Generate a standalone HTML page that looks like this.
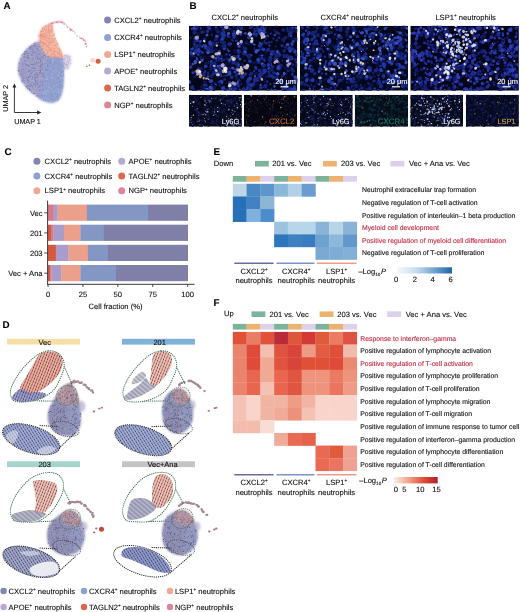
<!DOCTYPE html>
<html><head><meta charset="utf-8"><style>
html,body{margin:0;padding:0;background:#fff;width:520px;height:612px;overflow:hidden}
svg{display:block}
text{text-rendering:geometricPrecision;font-family:"Liberation Sans",Arial,Helvetica,sans-serif;font-size:7.6px;fill:#111111;stroke:#111111;stroke-width:0.18px;stroke-opacity:0.6}
</style></head><body>
<svg width="520" height="612" viewBox="0 0 520 612">
<text x="3.6" y="9.2" style="font-weight:bold;font-size:9.8px;fill:#000;stroke:#000;">A</text>
<text x="189.6" y="9.4" style="font-weight:bold;font-size:9.8px;fill:#000;stroke:#000;">B</text>
<text x="4.6" y="155.2" style="font-weight:bold;font-size:9.8px;fill:#000;stroke:#000;">C</text>
<text x="2.4" y="327.8" style="font-weight:bold;font-size:9.8px;fill:#000;stroke:#000;">D</text>
<text x="213.6" y="154.6" style="font-weight:bold;font-size:9.8px;fill:#000;stroke:#000;">E</text>
<text x="213.6" y="306.2" style="font-weight:bold;font-size:9.8px;fill:#000;stroke:#000;">F</text>
<defs><filter id="ub" x="-10%" y="-10%" width="120%" height="120%"><feGaussianBlur stdDeviation="0.9"/></filter></defs>
<g filter="url(#ub)">
<path d="M39.4 42.0C40.8 43.1 41.6 47.5 42.9 49.8C44.2 52.1 45.5 54.6 47.2 55.9C48.9 57.2 50.7 57.3 53.3 57.6C55.9 57.9 61.1 56.0 62.8 57.6C64.5 59.2 63.6 63.5 63.7 67.1C63.9 70.7 63.8 75.7 63.7 79.2C63.6 82.7 63.4 85.4 63.0 88.0C62.6 90.6 62.3 92.9 61.5 95.0C60.7 97.1 59.6 99.2 58.0 100.5C56.4 101.8 54.2 102.6 52.0 102.8C49.8 103.0 47.3 102.4 45.0 101.5C42.7 100.6 40.3 99.0 38.0 97.5C35.7 96.0 33.0 94.2 31.0 92.5C29.0 90.8 27.7 89.6 26.0 87.5C24.3 85.4 22.3 82.7 21.0 80.0C19.7 77.3 18.4 74.3 18.0 71.5C17.6 68.7 17.9 65.7 18.5 63.0C19.1 60.3 20.0 58.0 21.5 55.5C23.0 53.0 25.2 50.2 27.3 48.1C29.4 46.0 32.2 43.9 34.2 42.9C36.2 41.9 38.0 40.9 39.4 42.0Z" fill="#8486b8" fill-opacity="0.75"/>
<path d="M49.8 56.7C52.6 54.3 60.5 55.9 62.8 57.6C65.1 59.3 63.6 63.5 63.7 67.1C63.9 70.7 63.8 75.7 63.7 79.2C63.6 82.7 63.4 85.4 63.0 88.0C62.6 90.6 62.3 92.9 61.5 95.0C60.7 97.1 59.6 99.2 58.0 100.5C56.4 101.8 54.2 102.6 52.0 102.8C49.8 103.0 47.3 102.4 45.0 101.5C42.7 100.6 38.5 100.1 38.0 97.5C37.5 94.9 40.7 90.2 42.0 86.0C43.3 81.8 44.7 76.9 46.0 72.0C47.3 67.1 47.0 59.1 49.8 56.7Z" fill="#8c9ccc" fill-opacity="0.75"/>
<path d="M38.6 36.0C38.8 34.0 39.4 32.4 40.3 30.8C41.2 29.2 42.5 27.5 43.8 26.5C45.0 25.5 46.5 24.9 48.0 24.6C49.5 24.3 51.6 23.9 52.5 24.6C53.4 25.3 52.8 26.9 53.2 29.0C53.6 31.1 54.1 34.6 55.0 37.5C55.9 40.4 57.4 43.3 58.8 46.2C60.1 49.2 62.4 53.1 63.1 55.0C63.8 56.9 64.4 57.2 62.8 57.6C61.2 58.0 55.9 57.9 53.3 57.6C50.7 57.3 48.9 57.2 47.2 55.9C45.5 54.6 44.2 52.0 42.9 49.8C41.6 47.6 40.1 45.2 39.4 42.9C38.7 40.6 38.5 38.0 38.6 36.0Z" fill="#eca28c" fill-opacity="0.8"/>
<path d="M62.8 55.0C63.5 53.4 65.7 54.5 67.0 54.6C68.3 54.8 69.9 54.7 70.6 55.9C71.3 57.1 71.7 59.8 71.4 61.9C71.1 64.0 70.0 67.5 68.8 68.8C67.6 70.1 65.5 70.5 64.5 69.7C63.5 68.9 63.3 66.5 63.0 64.0C62.7 61.5 62.1 56.6 62.8 55.0Z" fill="#cfc4dc" fill-opacity="0.7"/>
</g>
<path d="M38.7 76.0h0M23.3 67.6h0M27.6 66.0h0M38.9 70.1h0M40.0 56.0h0M28.3 89.3h0M33.3 89.9h0M32.2 65.2h0M40.8 72.4h0M23.6 73.0h0M25.3 54.4h0M27.9 75.0h0M31.8 48.1h0M22.5 57.3h0M37.6 71.0h0M38.8 57.9h0M38.9 55.4h0M32.3 54.0h0M25.2 61.6h0M37.8 88.9h0M32.0 68.8h0M35.3 73.0h0M44.2 54.0h0M29.0 76.9h0M44.0 52.6h0M28.1 87.4h0M40.9 60.0h0M29.2 59.0h0M29.9 75.1h0M32.9 79.0h0M32.4 79.8h0M40.8 81.5h0M25.8 57.5h0M37.1 47.2h0M28.0 51.8h0M39.9 84.2h0M22.7 64.5h0M39.9 57.6h0M33.3 88.2h0M28.2 85.9h0M35.8 84.2h0M36.1 45.5h0M39.3 95.9h0M33.0 57.6h0M31.2 67.3h0M22.0 81.5h0M35.7 58.9h0M42.0 66.7h0M31.4 79.6h0M32.4 72.3h0M29.1 55.0h0M28.0 54.1h0M21.4 75.4h0M32.5 52.3h0M49.5 73.6h0M47.9 57.8h0M33.5 90.1h0M23.6 61.5h0M42.7 76.5h0M31.5 90.2h0M24.6 77.2h0M33.9 76.0h0M33.0 45.3h0M42.0 59.5h0M28.3 88.8h0M32.8 86.2h0M31.2 91.0h0M20.2 70.1h0M32.8 78.1h0M36.9 65.7h0M46.4 59.4h0M23.0 74.5h0M24.8 78.0h0M26.2 72.4h0M30.8 61.6h0M33.0 58.7h0M39.8 48.1h0M31.3 69.7h0M41.5 75.2h0M21.5 55.7h0M18.5 67.5h0M18.7 69.6h0M44.2 80.2h0M33.2 93.4h0M21.5 68.9h0M43.3 72.5h0M39.6 68.5h0M39.0 81.1h0M39.6 87.4h0M24.9 68.9h0M47.2 63.2h0M39.0 42.9h0M31.3 71.7h0M33.0 52.7h0M27.3 60.0h0M31.8 75.5h0M41.1 50.9h0M38.9 68.8h0M33.8 93.4h0M44.3 57.0h0M48.4 56.8h0M45.2 59.8h0M38.1 95.9h0M39.5 50.6h0M39.2 83.9h0M40.5 96.2h0M34.5 93.5h0M37.4 53.5h0M38.0 66.4h0M29.0 53.4h0M49.4 61.3h0M41.8 85.4h0M39.3 43.1h0M26.6 73.9h0M36.8 93.2h0M22.7 82.2h0M39.4 54.5h0M25.1 77.1h0M33.9 56.8h0M40.4 60.1h0M39.1 69.1h0M39.8 94.7h0M24.3 72.9h0M24.5 55.3h0M35.8 62.0h0M19.7 64.9h0M31.4 60.6h0M31.1 83.3h0M34.5 74.5h0M31.5 74.7h0M36.4 46.6h0M37.6 51.6h0M29.3 58.0h0M46.4 56.1h0M21.9 65.8h0M34.5 57.7h0M27.0 66.7h0M38.6 66.0h0M25.1 82.0h0M38.0 42.9h0M41.1 76.9h0M44.3 81.4h0M33.7 67.6h0M36.2 89.6h0M33.8 52.9h0M41.0 54.4h0M29.0 75.0h0M41.8 68.0h0M32.5 58.5h0M36.7 66.7h0M36.1 42.6h0M27.3 58.0h0M47.8 65.1h0M32.8 61.9h0" stroke="#9c9ac8" stroke-width="1.1" stroke-linecap="round" fill="none"/>
<path d="M54.7 70.9h0M47.9 79.4h0M43.6 93.8h0M58.2 86.3h0M58.2 65.4h0M62.3 73.9h0M46.9 92.2h0M57.1 75.0h0M48.3 87.5h0M47.9 77.3h0M42.7 92.9h0M47.8 90.9h0M56.1 96.0h0M46.6 99.3h0M56.7 92.0h0M50.6 57.4h0M61.8 78.5h0M47.0 84.4h0M62.9 68.8h0M48.1 89.6h0M52.0 74.3h0M50.2 100.2h0M58.2 92.7h0M59.6 97.5h0M46.4 71.8h0M63.3 66.8h0M52.4 60.8h0M58.3 89.3h0M47.0 65.0h0M47.7 99.0h0M41.7 77.5h0M59.1 91.2h0M61.9 64.2h0M52.7 63.0h0M50.1 72.1h0M45.8 75.1h0M62.9 83.7h0M45.8 90.4h0M53.9 95.1h0M51.9 60.0h0M44.6 91.9h0M52.1 77.2h0M56.7 84.6h0M52.1 88.6h0M56.7 70.5h0M47.8 91.4h0M47.0 79.4h0M60.7 61.5h0M60.7 67.7h0M46.7 94.6h0M45.7 75.0h0M58.4 75.7h0M50.1 78.4h0M62.4 63.9h0M61.8 60.8h0M53.1 77.9h0M62.4 84.4h0M45.2 91.8h0M53.4 60.7h0M56.1 92.2h0M60.5 77.8h0M58.0 75.3h0M59.6 82.6h0M45.1 93.8h0M46.4 83.6h0M61.5 89.2h0M52.2 93.1h0M57.2 72.1h0M45.1 81.1h0M45.9 94.7h0M49.1 92.0h0M61.1 77.9h0M63.4 71.6h0M42.6 70.7h0M54.4 90.9h0M50.6 68.6h0M45.0 97.4h0M52.4 71.6h0M46.4 69.1h0M51.5 57.4h0M59.4 74.1h0M53.1 91.2h0M60.9 83.0h0M60.7 61.4h0M42.9 99.2h0M45.9 86.6h0M59.0 95.4h0M48.3 99.3h0M45.7 78.7h0M47.7 65.5h0M59.9 74.3h0M50.8 57.3h0M49.7 87.0h0M42.4 99.2h0M46.2 79.3h0M60.3 76.9h0M61.6 80.6h0M40.2 94.5h0M59.5 92.4h0M42.2 87.0h0M47.5 90.7h0M56.2 98.4h0M51.6 74.5h0M55.3 79.1h0M54.6 75.0h0M53.5 85.8h0M57.3 60.4h0M52.9 59.5h0M53.8 89.2h0M45.7 98.5h0M55.1 66.5h0" stroke="#b0bce0" stroke-width="1.1" stroke-linecap="round" fill="none"/>
<path d="M31.9 47.5h0M29.8 89.0h0M24.1 63.3h0M30.0 85.7h0M35.2 74.7h0M42.8 84.9h0M31.7 55.1h0M37.0 73.7h0M37.1 49.2h0M20.8 58.5h0M28.2 58.9h0M27.7 82.3h0M38.8 94.0h0M18.8 71.2h0M46.3 73.4h0M22.8 66.0h0M26.6 64.9h0M28.4 51.6h0M46.1 80.9h0M25.2 67.0h0M24.0 56.8h0M41.0 66.1h0M36.1 56.3h0M31.7 61.7h0M27.2 80.4h0M45.6 57.9h0M38.2 58.0h0M38.8 87.3h0M41.4 76.5h0M30.1 48.3h0M35.7 83.3h0M34.3 74.7h0M37.8 51.2h0M40.6 60.7h0M40.9 64.8h0M21.3 72.2h0M35.1 79.3h0M36.0 87.1h0M19.1 63.3h0M47.6 64.7h0M37.1 83.3h0M29.9 86.4h0M30.0 46.6h0M44.2 76.9h0M36.3 92.0h0M19.1 67.8h0M39.3 53.1h0M47.2 80.5h0M36.3 72.3h0M19.2 74.7h0M33.2 59.0h0M36.6 56.3h0M30.3 90.5h0M26.9 57.4h0M49.1 79.4h0M35.9 70.5h0M37.9 54.8h0M33.7 67.9h0M36.6 51.6h0M34.4 74.7h0M40.4 84.3h0M35.8 80.9h0M24.4 54.3h0M35.6 74.3h0M25.5 64.1h0M34.0 46.1h0M47.8 58.0h0M35.8 58.3h0M31.5 64.4h0M24.5 51.9h0M33.2 53.1h0M34.4 44.0h0M28.5 86.0h0M20.0 71.7h0M33.6 55.8h0M34.5 69.0h0M39.1 74.4h0M27.7 55.8h0M32.5 68.5h0M18.2 70.4h0M34.8 53.6h0M21.1 60.0h0M25.8 86.1h0M24.3 60.5h0M41.2 81.8h0M25.7 75.8h0M32.2 48.9h0M30.5 64.1h0M21.9 81.2h0M27.1 87.6h0M39.4 72.8h0M26.9 68.3h0M36.9 78.0h0M31.1 48.9h0M41.1 73.8h0M35.8 92.3h0M30.2 46.6h0M33.5 83.2h0M37.8 59.6h0M21.9 80.1h0M37.7 84.3h0M34.5 60.8h0M27.1 77.6h0M41.0 56.6h0M30.0 53.0h0M43.9 65.1h0M33.4 68.1h0M32.5 76.1h0M21.6 74.6h0M37.3 76.8h0M38.2 47.1h0M36.3 62.5h0M22.4 74.4h0M24.7 69.6h0M26.2 86.6h0M34.0 49.2h0M38.7 54.9h0M31.5 73.5h0M39.7 59.0h0M42.7 81.4h0M41.7 82.0h0M37.4 58.2h0M45.5 67.0h0M26.1 51.4h0" stroke="#7c7cb0" stroke-width="1.1" stroke-linecap="round" fill="none"/>
<path d="M45.2 66.1h0M58.2 78.5h0M59.6 70.6h0M53.2 67.5h0M58.3 78.7h0M41.8 98.5h0M45.0 98.2h0M54.9 100.3h0M46.1 88.0h0M56.8 84.5h0M54.5 98.2h0M59.2 73.5h0M60.5 69.9h0M56.1 90.8h0M61.5 70.1h0M58.2 84.2h0M47.4 84.6h0M44.7 90.4h0M50.4 97.6h0M52.6 101.9h0M47.3 73.9h0M47.6 89.2h0M46.7 99.0h0M49.0 85.1h0M55.1 69.6h0M60.9 82.0h0M51.0 89.9h0M59.7 76.3h0M52.4 71.5h0M59.3 61.5h0M49.8 99.0h0M46.4 97.7h0M54.3 90.9h0M56.3 69.4h0M46.7 79.7h0M46.4 67.1h0M46.5 92.5h0M56.1 94.0h0M38.2 92.7h0M60.8 71.3h0M46.7 72.7h0M57.8 85.3h0M46.8 95.3h0M61.0 63.1h0M47.7 84.6h0M49.8 89.8h0M60.0 62.0h0M46.2 83.5h0M55.6 81.6h0M47.7 83.7h0M59.3 72.6h0M52.2 82.7h0M46.6 75.5h0M44.8 86.2h0M54.3 72.1h0M49.2 84.1h0M50.0 101.6h0M46.6 69.3h0M55.8 90.1h0M54.3 89.6h0M62.8 74.3h0M54.6 98.7h0M58.9 79.0h0M56.2 65.1h0M45.3 97.2h0M59.0 58.4h0M58.5 91.8h0M57.5 83.8h0M43.0 95.6h0M55.4 87.0h0M46.4 92.1h0M50.7 77.6h0M43.1 88.7h0M62.9 72.1h0M45.0 85.7h0M58.8 90.3h0M56.3 93.4h0M45.6 87.9h0M50.6 67.5h0M57.6 64.4h0M51.9 82.0h0M46.4 80.1h0M49.0 87.9h0M54.7 95.4h0M60.5 79.4h0M56.6 85.2h0M51.8 81.5h0M39.8 94.3h0M45.2 77.6h0M58.5 72.4h0M55.1 98.3h0M56.6 81.3h0M51.3 86.5h0M62.5 88.5h0M41.0 92.2h0M61.8 63.6h0M50.6 62.2h0M61.7 90.3h0M44.9 95.2h0M45.0 84.3h0M57.0 62.0h0M54.8 92.4h0M49.5 90.4h0M43.1 97.6h0M58.7 71.2h0M47.5 88.3h0M47.6 73.8h0M54.2 58.1h0M46.2 75.3h0M47.0 88.4h0M49.5 90.2h0M46.0 90.5h0M46.5 72.7h0M45.6 87.4h0M50.9 85.2h0" stroke="#9aaad6" stroke-width="1.1" stroke-linecap="round" fill="none"/>
<path d="M32.9 77.9h0M37.2 76.4h0M40.0 86.4h0M34.8 50.7h0M38.1 75.5h0M43.7 52.0h0M22.4 76.6h0M27.5 53.2h0M37.2 74.0h0M40.1 58.4h0M40.0 72.6h0M28.0 82.0h0M29.3 64.0h0M35.2 52.2h0M39.5 86.4h0M39.9 57.8h0M48.1 56.4h0M27.4 79.5h0M28.9 76.6h0M47.7 60.6h0M35.5 46.4h0M34.5 51.3h0M24.3 56.6h0M40.5 71.8h0M31.7 85.7h0M47.4 65.4h0M41.2 60.8h0M39.6 43.3h0M28.8 57.2h0M30.3 76.6h0M28.4 71.3h0M43.2 76.0h0M28.4 65.6h0M46.6 69.3h0M31.9 54.5h0M42.1 69.5h0M28.7 77.2h0M45.5 69.3h0M35.1 78.1h0M34.6 64.8h0M39.4 43.0h0M35.6 81.4h0M37.0 74.6h0M44.8 54.3h0M34.4 77.5h0M44.0 75.5h0M40.4 69.2h0M50.8 59.7h0M26.9 64.3h0M36.6 62.4h0M26.0 51.1h0M24.6 54.5h0M30.0 47.6h0M33.4 93.6h0M46.5 61.3h0M28.7 77.5h0M25.3 57.8h0M34.6 68.4h0M27.5 56.9h0M29.8 90.1h0M30.9 72.7h0M28.2 55.5h0M45.6 63.2h0M37.0 81.8h0M35.5 85.1h0M24.4 83.1h0M42.3 49.8h0M46.9 70.5h0M36.6 81.4h0M34.1 93.5h0M35.6 81.1h0M35.6 76.6h0M40.3 61.4h0M36.8 51.5h0M42.6 63.2h0M32.5 64.4h0M27.1 65.0h0M39.6 90.3h0M23.1 80.5h0M46.0 63.5h0M23.7 78.4h0M23.8 73.3h0M40.3 70.7h0M40.6 67.5h0M29.2 65.9h0M29.1 70.6h0M38.0 49.3h0M43.9 55.5h0M38.2 54.7h0M37.9 56.2h0M36.2 48.2h0M29.0 71.3h0M40.5 66.3h0M43.5 73.6h0M31.4 48.9h0M29.0 61.2h0M30.8 70.1h0M41.1 64.9h0M29.1 65.1h0M31.6 45.5h0M26.8 78.4h0M42.0 49.3h0M44.4 55.5h0M23.6 73.2h0M21.9 69.6h0M24.1 53.4h0M32.6 52.6h0M46.0 57.1h0M32.2 51.4h0M41.1 94.9h0M39.1 46.1h0M35.3 77.5h0M37.3 84.2h0M25.6 60.1h0M21.0 74.3h0M34.9 44.3h0M30.2 49.2h0M42.4 90.1h0M34.7 43.7h0M37.7 95.9h0M29.2 86.4h0M29.6 88.8h0M34.0 64.1h0M43.2 70.4h0" stroke="#7676a6" stroke-width="1.1" stroke-linecap="round" fill="none"/>
<path d="M40.8 82.3h0M22.0 62.2h0M26.7 87.0h0M41.4 57.5h0M34.1 83.7h0M23.2 70.7h0M28.8 50.6h0M29.7 85.4h0M41.6 66.4h0M30.3 70.8h0M42.0 48.6h0M35.7 68.4h0M34.3 51.4h0M21.8 76.3h0M40.1 55.4h0M38.6 57.0h0M22.4 71.2h0M24.2 71.1h0M49.9 62.0h0M33.1 73.7h0M41.7 49.9h0M32.1 72.3h0M26.3 55.7h0M27.3 55.0h0M32.9 88.9h0M24.9 78.2h0M28.7 80.5h0M21.1 70.2h0M36.0 56.6h0M31.4 67.2h0M37.2 80.4h0M34.0 68.2h0M37.9 70.4h0M45.1 78.1h0M24.7 80.4h0M39.8 54.1h0M31.4 84.3h0M22.8 82.0h0M34.8 68.1h0M42.1 75.3h0M30.3 90.4h0M24.8 51.5h0M39.6 43.9h0M38.7 77.8h0M37.5 89.4h0M40.2 46.8h0M23.0 60.1h0M29.3 47.6h0M34.9 63.7h0M39.0 62.2h0M22.1 72.2h0M28.5 79.6h0M37.6 70.9h0M37.8 48.5h0M30.3 84.2h0M22.0 76.3h0M31.9 55.4h0M36.8 60.5h0M52.2 68.4h0M29.1 72.4h0M23.3 63.9h0M28.5 52.9h0M24.8 76.5h0M40.0 85.9h0M37.2 59.0h0M23.6 57.2h0M43.9 74.8h0M32.6 47.3h0M42.6 64.4h0M51.4 71.7h0M40.2 46.5h0M41.3 58.3h0M25.8 69.6h0M37.0 45.0h0M27.2 69.1h0M42.5 64.3h0M27.4 54.5h0M22.6 78.7h0M50.3 63.9h0M26.0 72.1h0M29.0 64.6h0M40.1 54.2h0M31.7 92.4h0M37.4 89.6h0M40.6 67.4h0M43.2 57.5h0M43.2 67.4h0M25.1 65.4h0M34.2 85.3h0M22.8 72.1h0M36.3 63.9h0M47.9 74.1h0M45.5 71.0h0M33.5 70.4h0M38.5 83.1h0M48.5 57.3h0M29.8 88.7h0M35.2 55.6h0M38.0 50.5h0M28.2 51.5h0M38.6 72.6h0M27.5 79.6h0M30.0 84.1h0M31.3 79.4h0M19.3 62.9h0M32.7 79.2h0M32.4 87.4h0M40.3 74.0h0M22.6 64.5h0M36.2 81.8h0M19.0 65.0h0M28.1 84.5h0M39.5 67.7h0M29.9 70.2h0M38.8 69.8h0M25.6 52.9h0M30.3 77.6h0M36.9 85.1h0M39.1 86.0h0M31.0 86.0h0M45.3 87.4h0M43.0 75.2h0M29.7 76.7h0M26.1 75.2h0M36.6 95.9h0M38.5 93.3h0M26.6 52.9h0" stroke="#9090be" stroke-width="1.1" stroke-linecap="round" fill="none"/>
<path d="M47.9 66.7h0M59.6 84.6h0M48.3 65.1h0M48.2 71.6h0M50.7 93.2h0M50.4 76.7h0M46.2 98.3h0M46.1 86.9h0M52.8 81.4h0M47.2 91.2h0M42.9 76.5h0M51.7 96.7h0M54.9 62.2h0M48.2 88.9h0M53.4 89.9h0M43.7 86.0h0M55.5 65.5h0M60.8 76.5h0M43.9 91.2h0M61.6 64.0h0M50.3 97.8h0M61.2 74.8h0M56.4 88.3h0M52.4 96.6h0M35.8 93.6h0M63.7 76.3h0M47.4 93.5h0M42.1 86.6h0M49.7 93.1h0M43.2 98.4h0M52.6 83.2h0M49.6 81.7h0M53.4 57.8h0M61.0 82.0h0M57.2 98.8h0M62.9 86.1h0M62.1 80.8h0M63.6 71.7h0M46.3 100.5h0M44.8 67.5h0M49.0 72.7h0M63.3 76.6h0M59.6 80.7h0M59.9 92.8h0M59.9 83.0h0M56.7 78.6h0M48.8 100.9h0M49.2 75.3h0M49.2 94.0h0M44.4 96.5h0M39.6 89.3h0M47.9 68.0h0M47.5 64.2h0M58.9 82.7h0M45.5 100.3h0M54.9 66.2h0M45.2 86.6h0M58.5 98.8h0M56.4 93.6h0M58.3 98.8h0M63.3 70.1h0M43.3 97.8h0M63.3 66.0h0M45.8 95.2h0M46.2 82.0h0M54.7 78.9h0M61.2 69.5h0M61.3 71.2h0M55.6 85.4h0M63.6 74.4h0M62.3 65.6h0M57.4 72.8h0M58.9 61.2h0M57.8 61.3h0M50.0 91.1h0M54.5 79.8h0M59.8 59.6h0M54.9 74.3h0M62.8 65.1h0M43.5 99.3h0M60.6 79.8h0M53.5 65.9h0M44.8 96.3h0M44.5 87.9h0M55.4 71.1h0M53.8 99.5h0M51.5 86.8h0M52.4 97.5h0M56.6 61.3h0M62.4 88.3h0M52.9 100.0h0M61.7 71.1h0M40.6 90.7h0M60.1 95.6h0M55.8 70.6h0M62.2 78.0h0M59.9 67.8h0M50.2 95.4h0M56.7 62.6h0M61.0 81.9h0M41.3 82.9h0M50.4 96.4h0M54.3 93.3h0" stroke="#8a9ccc" stroke-width="1.1" stroke-linecap="round" fill="none"/>
<path d="M50.3 61.2h0M61.8 71.4h0M46.7 60.9h0M59.8 87.5h0M48.2 68.9h0M61.4 58.8h0M61.2 71.9h0M60.9 76.6h0M54.8 57.7h0M49.2 64.1h0M61.5 86.6h0M43.8 78.0h0M61.5 72.5h0M46.5 88.7h0M49.8 72.1h0M50.8 78.2h0M50.7 63.9h0M59.3 75.3h0M58.4 69.5h0M59.0 62.3h0M58.3 95.3h0M57.8 64.4h0M58.4 77.9h0M45.8 56.3h0M45.8 71.7h0M50.3 57.8h0M50.6 66.6h0M50.6 73.6h0M62.9 81.0h0M53.2 75.4h0M57.9 82.6h0M54.1 68.3h0M48.0 90.0h0M62.0 85.3h0M51.6 85.3h0M51.7 62.9h0M55.6 75.1h0M42.8 68.6h0M46.0 98.3h0M53.0 82.8h0M63.7 67.5h0M61.6 67.8h0M52.9 66.4h0M47.6 83.9h0M63.0 79.9h0M57.2 74.3h0M51.8 94.9h0M46.0 55.4h0M57.9 98.8h0M54.0 95.9h0M38.3 85.7h0M58.9 78.0h0M48.0 65.6h0M56.9 59.6h0M50.0 98.2h0M48.0 100.4h0M59.8 81.9h0M40.0 97.3h0M58.7 87.5h0M45.0 80.7h0M54.7 61.8h0M55.4 99.0h0M59.6 70.8h0M51.6 94.1h0M50.1 81.9h0M52.9 100.1h0M59.1 86.0h0M60.2 74.9h0M57.7 94.7h0M58.3 65.7h0M58.6 82.3h0M42.2 86.3h0M55.9 92.7h0M57.5 85.8h0M59.5 69.3h0M49.2 62.7h0M62.1 64.4h0M53.6 88.6h0M47.8 74.8h0M59.1 84.6h0M43.8 80.3h0M63.2 71.8h0M54.8 94.0h0M58.1 100.3h0M40.2 96.1h0M52.4 93.9h0M59.8 75.1h0M46.9 95.7h0M47.4 84.5h0M51.0 74.0h0M62.1 62.7h0M55.8 83.4h0M35.8 86.9h0M42.7 77.5h0M43.7 100.5h0M57.3 72.6h0M52.9 58.8h0M56.6 96.2h0M60.4 76.3h0M43.4 82.0h0M62.8 83.6h0M55.9 63.8h0M50.8 84.3h0M55.0 98.6h0" stroke="#7e92c6" stroke-width="1.1" stroke-linecap="round" fill="none"/>
<path d="M22.9 59.7h0M38.7 64.4h0M30.7 78.9h0M23.0 74.6h0M23.9 69.6h0M38.1 76.0h0M23.3 72.7h0M25.2 59.2h0M32.8 47.2h0M20.3 58.6h0M30.6 79.1h0M32.9 75.4h0M34.7 49.1h0M29.2 51.9h0M32.4 66.7h0M31.4 48.9h0M39.7 48.4h0M38.1 69.4h0M37.0 52.3h0M20.5 67.9h0M43.4 70.7h0M39.7 52.1h0M46.4 59.8h0M38.3 92.7h0M30.1 56.9h0M28.0 66.8h0M33.7 68.7h0M37.5 71.7h0M35.3 91.6h0M32.4 80.3h0M39.4 64.0h0M35.8 60.2h0M40.1 56.0h0M22.1 71.8h0M38.7 64.5h0M34.9 86.0h0M38.6 55.4h0M31.8 62.0h0M24.2 83.2h0M39.5 81.2h0M30.1 72.0h0M21.4 60.3h0M42.7 66.2h0M34.6 55.9h0M30.5 82.6h0M26.7 75.1h0M22.1 72.5h0M47.1 57.9h0M28.2 52.1h0M29.5 84.3h0M26.7 70.4h0M29.9 72.2h0M30.0 64.2h0M42.9 53.8h0M24.0 78.9h0M28.5 51.0h0M50.2 67.8h0M46.2 61.5h0M32.5 52.2h0M30.0 56.7h0M23.6 62.8h0M25.2 74.2h0M27.7 63.2h0M23.5 60.4h0M36.4 92.7h0M40.5 62.9h0M28.3 86.6h0M53.5 58.7h0M22.1 54.7h0M44.3 87.2h0M42.3 55.8h0M32.6 82.4h0M29.1 49.6h0M34.4 60.1h0M27.1 68.2h0M44.6 57.1h0M50.2 68.0h0M39.3 80.8h0M46.5 57.4h0M36.1 93.4h0M34.7 54.2h0M41.1 47.7h0M38.7 88.6h0M19.2 73.9h0M29.2 60.4h0M40.4 56.2h0M45.7 57.7h0M34.1 50.4h0M39.3 52.3h0M40.0 78.3h0M45.9 71.4h0M40.2 57.5h0M34.1 87.8h0M22.3 80.1h0M38.0 47.2h0M30.3 73.6h0M22.3 59.1h0M26.8 67.6h0M34.3 77.7h0M20.9 78.5h0M28.9 64.2h0M19.5 73.7h0M23.4 72.8h0M28.2 81.6h0M49.9 64.4h0M34.0 50.3h0M39.2 88.1h0M44.1 63.0h0M35.5 92.3h0M40.6 94.9h0M22.9 56.6h0M46.0 63.3h0M47.1 58.7h0M27.6 86.5h0M36.7 51.3h0M25.0 64.2h0M36.7 87.0h0M25.5 70.1h0M40.9 49.3h0" stroke="#aaaad0" stroke-width="1.1" stroke-linecap="round" fill="none"/>
<path d="M29.3 48.1h0M34.8 79.8h0M34.9 76.8h0M38.6 62.1h0M32.9 82.5h0M47.3 66.6h0M39.2 81.6h0M43.2 73.3h0M37.5 63.6h0M36.5 53.9h0M40.1 63.5h0M38.3 87.4h0M42.8 72.8h0M42.8 74.0h0M35.2 85.2h0M22.7 79.8h0M24.4 54.5h0M27.0 53.0h0M42.6 67.7h0M44.2 95.1h0M44.0 75.0h0M36.8 64.2h0M29.6 75.6h0M33.7 84.2h0M39.1 65.9h0M35.4 89.5h0M40.4 80.1h0M31.0 84.8h0M32.8 64.7h0M32.3 85.5h0M23.2 69.5h0M34.8 83.5h0M33.4 50.5h0M32.7 47.7h0M32.3 86.8h0M29.5 57.9h0M28.9 48.5h0M27.6 88.6h0M45.9 63.7h0M27.4 85.6h0M22.0 73.1h0M45.0 70.4h0M22.4 80.0h0M36.9 74.3h0M23.0 63.8h0M42.6 57.4h0M31.0 58.9h0M27.9 80.9h0M28.0 58.6h0M28.0 67.2h0M34.1 45.5h0M41.0 62.8h0M34.1 43.4h0M32.4 58.6h0M42.1 53.5h0M40.8 89.7h0M25.7 64.1h0M50.0 62.5h0M34.6 67.3h0M29.0 81.3h0M23.1 54.2h0M30.3 76.2h0M32.3 87.1h0M23.7 78.4h0M36.3 46.8h0M33.2 66.4h0M41.3 56.1h0M34.1 70.8h0M29.8 83.1h0M24.1 60.9h0M35.6 46.3h0M30.4 47.1h0M42.5 85.5h0M31.2 68.2h0M40.0 52.1h0M40.3 59.5h0M32.4 71.9h0M23.9 72.9h0M37.9 63.5h0M27.5 58.3h0M31.2 82.5h0M33.9 93.4h0M41.2 70.0h0M31.0 47.2h0M25.9 61.5h0M32.7 45.4h0M30.0 71.2h0M43.3 56.2h0M30.6 73.5h0M32.7 51.0h0M41.2 72.9h0M23.1 68.7h0M37.5 77.2h0M34.3 46.7h0M42.5 64.7h0M24.2 54.3h0M50.4 71.3h0M32.6 60.5h0M43.3 58.3h0M34.6 62.9h0M39.7 70.5h0M37.8 88.1h0M37.9 49.3h0M27.0 49.1h0M23.2 75.9h0M32.3 52.2h0M41.0 67.2h0" stroke="#8686b6" stroke-width="1.1" stroke-linecap="round" fill="none"/>
<path d="M55.6 78.3h0M50.2 90.2h0M46.6 72.0h0M43.1 81.7h0M42.5 90.1h0M51.9 91.3h0M50.0 93.3h0M55.2 66.7h0M52.5 65.7h0M55.3 70.2h0M59.7 68.6h0M37.3 85.3h0M52.9 66.0h0M38.2 96.4h0M51.2 79.3h0M48.2 79.0h0M51.5 78.3h0M57.3 84.1h0M61.9 58.7h0M53.5 97.3h0M46.4 73.5h0M49.5 82.5h0M56.8 88.5h0M55.4 95.8h0M41.2 90.4h0M44.8 99.2h0M54.6 93.0h0M46.2 92.3h0M58.2 61.5h0M58.6 91.4h0M49.7 70.4h0M44.7 82.0h0M55.4 83.0h0M56.0 62.0h0M56.2 100.2h0M48.4 75.3h0M59.1 98.2h0M58.5 82.6h0M57.0 95.6h0M53.0 98.8h0M49.3 90.5h0M55.0 90.7h0M55.0 100.1h0M57.8 60.9h0M52.8 75.7h0M54.0 77.5h0M60.3 80.8h0M61.4 81.9h0M62.7 85.3h0M48.4 59.7h0M55.8 97.7h0M54.7 93.4h0M51.8 95.9h0M59.2 87.1h0M62.8 87.0h0M45.0 83.1h0M60.0 64.7h0M62.6 59.4h0M55.9 97.4h0M55.8 72.2h0M54.3 72.7h0M49.4 79.6h0M57.5 73.0h0M48.8 62.4h0M58.8 86.1h0M54.8 82.7h0M56.3 64.2h0M45.9 84.4h0M43.9 80.0h0M46.4 100.1h0M63.2 73.0h0M56.2 92.4h0M58.3 98.2h0M49.0 96.2h0M46.4 77.4h0M45.9 84.2h0M60.6 60.2h0M57.1 64.5h0M52.3 102.5h0M62.4 69.3h0M54.3 81.8h0M51.0 76.6h0M50.1 91.9h0M63.7 75.1h0M48.5 68.7h0M54.2 63.8h0M51.5 63.7h0M54.1 83.4h0M56.3 71.2h0M55.2 68.0h0M53.4 86.8h0M56.9 66.3h0M38.0 91.5h0M55.9 69.2h0M50.6 86.8h0M54.4 87.0h0M50.9 76.5h0M54.3 61.2h0M43.4 85.4h0M49.6 70.5h0M47.3 80.3h0M47.7 83.6h0M51.1 99.8h0M49.0 78.0h0M48.8 97.4h0M40.7 75.8h0M55.6 82.9h0M58.9 88.3h0M58.3 83.9h0M58.5 85.7h0M43.3 88.1h0M62.3 86.6h0" stroke="#90a2d0" stroke-width="1.1" stroke-linecap="round" fill="none"/>
<path d="M60.2 54.6h0M45.4 26.6h0M51.0 36.3h0M46.9 26.3h0M41.2 34.6h0M50.3 50.5h0M57.3 53.4h0M55.3 51.0h0M41.9 33.6h0M43.7 46.7h0M49.0 40.0h0M48.1 44.6h0M48.4 33.0h0M48.5 38.1h0M39.1 36.4h0M55.2 48.6h0M38.9 35.3h0M61.2 51.4h0M55.3 38.9h0M59.3 56.5h0M52.1 47.6h0M49.2 44.2h0M49.1 50.0h0M58.4 56.2h0M49.3 44.1h0M59.2 53.9h0M46.5 49.3h0M47.9 30.4h0M48.7 30.6h0M61.8 53.1h0M49.8 40.1h0M49.3 39.5h0M57.3 44.4h0M40.6 40.2h0M56.5 51.5h0M53.8 51.7h0M46.3 44.3h0M51.8 31.9h0M41.5 33.0h0M62.1 57.2h0M54.9 42.5h0M52.0 51.0h0M58.6 48.0h0M49.0 32.5h0M50.5 33.3h0M51.5 48.0h0M50.4 28.2h0M58.8 50.1h0M45.3 33.6h0M44.8 39.6h0M42.2 31.9h0M60.0 57.3h0M60.0 51.7h0M61.5 56.5h0M47.1 32.5h0M44.4 28.9h0M61.5 53.7h0M50.9 41.0h0M60.6 51.6h0M49.0 43.3h0M43.6 33.8h0M48.6 27.3h0M54.2 40.4h0M42.9 38.7h0M59.6 50.6h0M59.9 52.9h0M47.5 35.6h0M43.1 37.0h0M60.6 57.3h0M56.6 57.0h0M39.7 40.2h0M43.9 50.5h0M49.3 46.9h0M51.9 38.0h0M45.2 46.6h0M40.2 36.1h0M47.5 31.7h0M45.7 25.8h0M46.9 52.3h0M46.9 25.2h0M53.2 49.4h0M48.3 46.3h0M52.7 43.3h0M46.3 32.6h0M51.2 43.7h0M52.2 24.9h0M42.0 41.7h0M54.6 50.8h0M51.8 41.6h0M43.2 45.3h0M40.7 31.0h0M51.8 47.1h0M43.6 43.0h0M52.3 27.7h0M51.7 30.8h0M41.5 40.2h0M45.3 33.5h0M45.3 38.8h0M50.5 48.2h0M52.4 41.7h0M47.5 53.3h0M52.6 37.5h0M57.9 51.2h0M55.0 46.2h0M46.9 52.3h0" stroke="#f0a890" stroke-width="1.1" stroke-linecap="round" fill="none"/>
<path d="M42.7 49.0h0M53.8 51.2h0M43.8 36.9h0M41.9 34.9h0M53.3 53.1h0M43.2 45.6h0M56.3 41.3h0M40.6 35.6h0M45.2 44.3h0M44.3 39.4h0M47.6 31.7h0M43.2 39.8h0M49.3 25.3h0M52.6 35.6h0M48.3 50.8h0M50.9 25.7h0M57.8 44.1h0M58.9 52.5h0M43.8 47.1h0M47.4 45.4h0M54.4 48.3h0M48.4 28.9h0M43.1 41.9h0M57.6 57.4h0M41.3 31.4h0M49.3 34.5h0M46.3 47.4h0M42.6 36.6h0M47.3 29.6h0M43.6 26.7h0M47.6 53.6h0M47.5 52.2h0M45.5 42.6h0M41.5 42.4h0M44.5 35.0h0M51.7 54.1h0M57.7 53.0h0M50.2 55.7h0M45.9 42.9h0M52.4 46.2h0M48.6 47.8h0M42.9 45.6h0M44.0 46.0h0M40.7 40.6h0M49.8 31.2h0M41.4 34.5h0M47.1 37.8h0M51.4 39.1h0M40.4 33.9h0M45.6 37.1h0M44.2 28.4h0M50.5 50.1h0M59.9 56.8h0M42.9 49.2h0M55.6 54.3h0M47.9 46.8h0M48.4 42.4h0M40.5 36.8h0M49.6 41.5h0M50.6 32.0h0M42.8 43.7h0M61.5 55.8h0M49.1 47.2h0M43.8 34.0h0M44.3 45.5h0M40.9 42.4h0M56.9 45.5h0M52.8 40.6h0M52.1 39.4h0M51.9 42.3h0M54.1 35.1h0M59.4 54.3h0M45.8 25.7h0M47.4 50.9h0M39.8 42.4h0M46.8 34.6h0M51.9 29.5h0M45.7 30.8h0M50.9 48.5h0M47.3 45.7h0M46.3 47.8h0M46.1 49.8h0M46.0 40.9h0M49.6 30.0h0M51.0 49.3h0M47.5 36.7h0M45.5 30.5h0M61.3 54.3h0M46.2 43.0h0M57.7 48.0h0M42.2 36.2h0M48.5 26.9h0M49.0 38.4h0M48.8 32.1h0M50.6 56.5h0M60.9 57.1h0M42.9 44.1h0M52.0 38.1h0M40.4 38.5h0M42.6 28.1h0M55.3 45.1h0M54.9 51.4h0M59.7 49.1h0M53.6 42.0h0" stroke="#e48a76" stroke-width="1.1" stroke-linecap="round" fill="none"/>
<path d="M41.5 33.2h0M46.7 27.5h0M47.6 27.1h0M49.0 37.3h0M53.8 44.0h0M60.1 52.7h0M42.3 47.6h0M43.5 46.3h0M50.7 55.0h0M41.2 30.3h0M51.1 28.3h0M42.1 38.4h0M45.6 52.2h0M53.6 46.9h0M57.1 47.8h0M39.7 35.2h0M58.3 49.9h0M47.1 31.3h0M48.4 43.0h0M48.2 24.9h0M56.5 42.8h0M49.2 47.9h0M45.7 40.6h0M45.8 33.7h0M43.4 44.8h0M45.7 40.8h0M50.3 48.7h0M41.3 44.6h0M51.8 38.8h0M47.7 50.2h0M52.0 53.9h0M49.9 31.3h0M46.5 43.8h0M46.1 37.6h0M41.9 37.4h0M47.9 25.4h0M52.3 26.0h0M45.2 31.3h0M56.6 48.3h0M54.2 44.3h0M52.8 50.9h0M50.2 34.6h0M44.9 41.5h0M51.6 32.4h0M50.9 40.1h0M53.2 51.5h0M41.6 37.7h0M48.8 44.8h0M55.5 52.6h0M53.9 54.7h0M57.0 55.3h0M42.9 40.0h0M42.3 33.0h0M53.8 46.8h0M49.6 45.6h0M60.8 50.8h0M52.8 27.0h0M57.0 48.8h0M47.0 47.9h0M43.8 41.5h0M45.6 47.3h0M47.6 55.3h0M50.4 29.5h0M51.7 33.6h0M43.8 50.1h0M46.1 50.0h0M44.8 36.3h0M46.4 28.8h0M56.7 52.5h0M57.0 49.7h0M41.8 41.1h0M45.4 29.3h0M46.9 43.8h0M47.5 36.0h0M47.4 52.8h0M50.1 29.6h0M48.6 34.4h0M51.5 53.5h0M59.6 57.0h0M43.6 30.2h0M50.8 28.9h0M57.9 55.3h0M49.3 35.9h0M44.2 47.4h0M53.1 42.7h0M49.3 27.2h0M51.2 34.0h0M47.9 50.2h0M52.6 36.5h0M48.0 45.1h0M46.0 53.4h0M52.7 31.6h0M57.2 43.6h0" stroke="#f2b4a0" stroke-width="1.1" stroke-linecap="round" fill="none"/>
<path d="M55.0 39.0h0M51.8 41.8h0M42.6 29.4h0M51.0 26.6h0M42.7 36.0h0M42.3 38.3h0M59.7 50.6h0M52.0 28.9h0M50.1 42.2h0M40.5 41.9h0M62.2 56.1h0M45.2 33.1h0M44.3 48.8h0M55.6 57.2h0M45.8 39.0h0M55.0 46.9h0M43.1 46.3h0M46.7 50.6h0M42.5 49.0h0M45.0 34.7h0M44.6 28.9h0M59.7 49.4h0M41.5 37.1h0M58.4 53.7h0M54.5 40.3h0M50.9 45.5h0M45.9 38.3h0M51.5 31.7h0M47.3 35.5h0M50.9 42.7h0M49.7 44.2h0M51.2 48.0h0M54.5 45.6h0M51.3 53.4h0M43.9 42.9h0M45.9 53.3h0M43.6 31.1h0M52.2 50.7h0M47.6 50.3h0M52.9 42.2h0M55.8 57.0h0M54.4 56.8h0M61.1 56.6h0M50.8 45.4h0M44.5 46.5h0M50.0 36.1h0M43.7 36.2h0M44.9 36.7h0M48.5 50.2h0M51.9 33.9h0M46.2 44.7h0M50.7 49.9h0M53.4 54.5h0M44.1 37.1h0M46.6 28.9h0M54.3 45.5h0M51.2 54.9h0M44.8 48.4h0M49.1 30.5h0M46.9 40.6h0M54.5 56.1h0M49.6 38.9h0M44.8 44.6h0M44.5 43.6h0M43.4 29.0h0M43.3 34.5h0M51.7 50.9h0M43.0 42.7h0M42.9 31.4h0M47.1 40.9h0M54.1 38.6h0M52.1 53.8h0M45.4 34.9h0M42.9 43.9h0M45.7 36.5h0M61.3 54.9h0M51.6 56.5h0M41.9 38.1h0M51.0 46.1h0M53.1 48.0h0M61.4 54.6h0M57.1 43.4h0M52.7 30.8h0M54.0 33.9h0M58.4 48.3h0M47.2 44.8h0M48.7 44.0h0M49.7 48.7h0M54.9 40.7h0" stroke="#e9957e" stroke-width="1.1" stroke-linecap="round" fill="none"/>
<path d="M56.8 53.7h0M51.5 46.5h0M52.4 37.4h0M46.4 41.6h0M51.8 53.9h0M46.0 32.2h0M46.0 45.5h0M56.0 54.0h0M52.4 47.2h0M41.8 44.7h0M45.2 52.6h0M44.6 45.9h0M58.3 46.0h0M47.8 50.7h0M55.4 46.0h0M51.3 41.8h0M52.3 39.6h0M50.7 53.7h0M54.6 46.9h0M51.1 34.8h0M41.4 40.4h0M46.0 51.4h0M59.1 47.6h0M54.9 46.6h0M51.0 53.8h0M46.1 34.8h0M47.4 30.5h0M47.2 36.7h0M50.4 43.9h0M52.3 46.7h0M45.0 39.4h0M46.7 26.3h0M58.5 55.9h0M55.0 43.0h0M53.5 44.1h0M55.8 43.1h0M56.9 45.8h0M52.2 34.4h0M52.4 55.9h0M60.3 56.7h0M55.1 40.8h0M44.8 46.8h0M54.1 47.4h0M51.9 51.2h0M39.6 43.2h0M50.4 34.0h0M52.0 48.7h0M53.6 43.3h0M51.9 46.3h0M43.4 33.3h0M49.3 27.3h0M50.1 46.4h0M51.8 33.9h0M60.6 50.5h0M57.9 50.8h0M45.0 38.5h0M47.5 29.6h0M50.7 27.6h0M47.3 44.1h0M50.7 39.0h0M46.0 25.5h0M45.1 41.6h0M40.5 37.2h0M47.2 28.5h0M51.1 34.3h0M46.1 41.9h0M45.0 29.2h0M43.6 46.7h0M43.0 37.7h0M50.2 38.9h0M51.5 45.2h0M43.8 28.8h0M46.0 47.2h0M45.1 48.0h0M55.9 40.2h0M56.0 48.8h0M52.5 43.7h0M45.3 41.3h0M57.5 44.9h0M43.7 30.9h0M53.8 40.5h0M52.1 33.2h0M53.2 37.2h0M50.2 45.8h0M47.6 34.0h0M42.6 44.8h0M62.5 57.5h0M46.4 49.0h0M44.5 31.2h0" stroke="#f4c0b0" stroke-width="1.1" stroke-linecap="round" fill="none"/>
<path d="M66.6 56.4h0M68.9 55.6h0M70.7 59.8h0M70.1 56.8h0M66.4 64.0h0M68.3 63.7h0M67.1 60.3h0M70.7 63.6h0M64.1 64.4h0M68.6 67.1h0M66.1 58.4h0M69.0 56.5h0M69.5 61.0h0M70.8 63.3h0M67.7 67.9h0M66.8 62.1h0" stroke="#c8bcd8" stroke-width="1.0" stroke-linecap="round" fill="none"/>
<path d="M64.7 68.4h0M66.8 64.9h0M66.2 55.1h0M68.9 58.5h0M66.8 64.4h0M66.3 57.8h0M66.1 66.8h0M67.6 64.8h0M69.3 60.6h0M68.3 62.9h0M64.5 55.8h0M66.5 56.5h0M64.7 63.2h0M64.9 63.0h0M68.0 56.8h0M66.5 64.3h0" stroke="#a89ac4" stroke-width="1.0" stroke-linecap="round" fill="none"/>
<path d="M67.2 56.0h0M66.3 63.8h0M66.4 66.5h0M68.8 56.6h0M68.2 68.7h0M68.7 61.6h0M64.7 59.7h0M64.7 65.3h0M67.6 60.9h0M64.1 63.4h0M63.9 64.2h0M63.8 62.6h0M65.6 64.3h0M66.7 61.6h0M69.3 59.7h0M63.2 63.7h0M65.2 57.9h0M63.8 60.4h0" stroke="#b4a8cc" stroke-width="1.0" stroke-linecap="round" fill="none"/>
<path d="M68.6 56.2h0M64.1 61.3h0M66.3 56.4h0M66.5 58.0h0M66.7 61.9h0M69.2 64.9h0M66.9 63.6h0M65.8 56.7h0M69.3 61.0h0M65.4 61.1h0" stroke="#e0d8ea" stroke-width="1.0" stroke-linecap="round" fill="none"/>
<path d="M49 24.4C52 22.8 56 21.6 60 21.8C62 22 63.5 22.8 64.5 24" stroke="#e4a4b8" stroke-width="2.4" stroke-linecap="round" fill="none" stroke-opacity="0.7"/>
<path d="M66.6 25.2h0M67.3 26.6h0M67.1 26.7h0M67.5 27.6h0M69.0 27.2h0M70.1 28.3h0M69.9 29.9h0M71.3 29.1h0M70.9 30.1h0M73.8 31.1h0M73.3 31.4h0M75.1 32.8h0M74.6 33.1h0M76.9 35.4h0M77.3 36.3h0M77.0 35.6h0M79.6 36.9h0M80.1 38.0h0M80.4 38.4h0M81.3 37.9h0M81.7 38.5h0M83.1 39.0h0M83.3 38.9h0M83.6 40.3h0M84.4 40.5h0M85.1 40.0h0M85.2 40.9h0M85.3 41.6h0M86.3 43.3h0M85.4 43.8h0M86.7 44.4h0M85.4 44.4h0" stroke="#dc98b0" stroke-width="1.3" stroke-linecap="round" fill="none" stroke-opacity="0.75"/>
<path d="M52 23.4h0M57 22.2h0M61.5 22.2h0M70.5 29.5h0M72 30.2h0M82 38.5h0M85.5 43.5h0M83.5 40h0M86.5 46.5h0" stroke="#cc6a8a" stroke-width="1.6" stroke-linecap="round" stroke-opacity="0.8"/>
<circle cx="92.6" cy="60.2" r="2.2" fill="#f0c0b0" fill-opacity="0.7"/>
<circle cx="98.1" cy="61.3" r="2.5" fill="#d65c3c"/>
<path d="M86.9 66.3h0M89.5 65.2h0" stroke="#a04a3a" stroke-width="1.5" stroke-linecap="round"/>
</g>
<path d="M14.4 112.5V86.5M14.4 112.5H38.6" stroke="#222" stroke-width="0.9" fill="none"/>
<path d="M14.4 83.4l-1.9 4.2h3.8z M41.4 112.5l-4.2 -1.9v3.8z" fill="#222"/>
<text x="7.6" y="98.4" text-anchor="middle" style="font-size:7.2px;" transform="rotate(-90 7.6 98.4)">UMAP 2</text>
<text x="14.2" y="123.5" style="font-size:7.2px;">UMAP 1</text>
<defs><pattern id="hu" width="2.5" height="3.3" patternUnits="userSpaceOnUse" patternTransform="rotate(22)"><path d="M1.25 0.4v2.4" stroke="#1a1a28" stroke-width="0.65" stroke-opacity="0.85"/></pattern><pattern id="hl" width="2.5" height="3.3" patternUnits="userSpaceOnUse" patternTransform="rotate(-32)"><path d="M1.25 0.4v2.4" stroke="#1a1a28" stroke-width="0.65" stroke-opacity="0.85"/></pattern><pattern id="hl2" width="2.2" height="3.3" patternUnits="userSpaceOnUse" patternTransform="rotate(-55)"><path d="M1.1 0.4v2.4" stroke="#1a1a28" stroke-width="0.65" stroke-opacity="0.85"/></pattern><pattern id="hd" width="1.9" height="3.5" patternUnits="userSpaceOnUse" patternTransform="rotate(40)"><path d="M0.95 0.4v2.6" stroke="#181828" stroke-width="0.65" stroke-opacity="0.85"/></pattern></defs>
<rect x="7.0" y="338.8" width="73" height="5.8" fill="#f6dfa6"/>
<text x="44.7" y="344.7" text-anchor="middle" style="font-size:7.5px;">Vec</text>
<g filter="url(#ub)">
<path d="M70.8 383.0C69.6 382.8 67.6 383.7 66.0 384.5C64.4 385.3 62.5 386.4 61.0 388.0C59.5 389.6 58.3 391.8 57.0 394.0C55.7 396.2 54.3 398.5 53.0 401.0C51.7 403.5 49.9 406.3 49.0 409.0C48.1 411.7 47.7 414.5 47.7 417.0C47.7 419.5 48.1 421.8 49.0 424.0C49.9 426.2 51.3 428.3 53.0 430.0C54.7 431.7 56.8 433.0 59.0 434.0C61.2 435.0 63.7 435.8 66.0 436.0C68.3 436.2 71.0 436.3 73.0 435.5C75.0 434.7 76.8 432.9 78.0 431.0C79.2 429.1 80.0 426.7 80.5 424.0C81.0 421.3 80.9 418.0 80.8 415.0C80.7 412.0 80.4 408.8 80.0 406.0C79.6 403.2 79.2 400.5 78.5 398.0C77.8 395.5 76.9 393.0 76.0 391.0C75.1 389.0 73.9 387.3 73.0 386.0C72.1 384.7 72.0 383.2 70.8 383.0Z" fill="#8484ac" fill-opacity="0.92"/>
<path d="M68.0 406.0C69.9 404.0 76.4 403.0 78.5 404.0C80.6 405.0 80.2 408.7 80.5 412.0C80.8 415.3 80.9 420.8 80.5 424.0C80.1 427.2 79.2 429.2 78.0 431.0C76.8 432.8 74.5 435.5 73.0 435.0C71.5 434.5 70.0 431.2 69.0 428.0C68.0 424.8 67.2 419.7 67.0 416.0C66.8 412.3 66.1 408.0 68.0 406.0Z" fill="#96a0c8" fill-opacity="0.6"/>
<path d="M70.8 383.0C69.6 382.8 67.6 383.7 66.0 384.5C64.4 385.3 62.5 386.4 61.0 388.0C59.5 389.6 57.8 392.0 57.0 394.0C56.2 396.0 55.7 398.3 56.5 400.0C57.3 401.7 59.8 403.1 62.0 404.0C64.2 404.9 67.2 405.5 70.0 405.5C72.8 405.5 77.1 405.2 78.5 404.0C79.9 402.8 78.9 400.2 78.5 398.0C78.1 395.8 76.9 393.0 76.0 391.0C75.1 389.0 73.9 387.3 73.0 386.0C72.1 384.7 72.0 383.2 70.8 383.0Z" fill="#b8949a" fill-opacity="0.85"/>
<path d="M80.0 401.0C80.6 399.7 83.1 401.0 84.0 402.0C84.9 403.0 85.7 405.4 85.5 407.0C85.3 408.6 83.8 411.0 83.0 411.5C82.2 412.0 81.0 411.8 80.5 410.0C80.0 408.2 79.4 402.3 80.0 401.0Z" fill="#cbc3da"/>
</g>
<path d="M54.6 399.9h0M65.7 429.2h0M78.0 410.2h0M75.8 410.5h0M68.7 431.1h0M71.6 405.3h0M61.8 412.4h0M51.8 409.8h0M62.6 407.6h0M73.5 415.3h0M70.5 395.4h0M64.7 428.0h0M62.0 394.6h0M71.4 433.5h0M74.3 415.1h0M54.2 409.7h0M73.0 421.4h0M76.3 413.3h0M68.6 396.3h0M62.7 402.1h0M77.7 425.8h0M77.2 416.4h0M77.8 410.2h0M58.6 392.5h0M64.8 415.8h0M51.0 415.8h0M65.2 429.0h0M55.6 402.8h0M71.8 414.8h0M61.2 401.1h0M78.0 413.2h0M58.9 414.9h0M62.6 389.3h0M76.5 410.3h0M68.7 400.9h0M58.7 425.7h0M61.5 405.4h0M54.7 417.5h0M72.4 391.0h0M51.1 422.7h0M72.3 434.7h0M61.7 389.3h0M56.7 423.6h0M62.1 411.1h0M69.8 383.6h0M58.2 400.8h0M56.0 416.8h0M70.8 394.2h0M74.2 407.9h0M65.8 417.0h0" stroke="#a8a8c8" stroke-width="1.1" stroke-linecap="round" fill="none"/>
<path d="M57.6 394.3h0M64.8 386.1h0M58.2 413.5h0M49.1 415.2h0M64.0 405.0h0M63.9 421.3h0M80.4 413.3h0M59.6 427.6h0M80.4 420.7h0M55.8 401.9h0M71.0 428.9h0M80.4 416.5h0M61.1 418.9h0M79.3 414.4h0M52.0 417.5h0M58.0 410.0h0M74.9 417.2h0M53.3 424.3h0M74.9 414.7h0M56.9 412.9h0M79.4 422.9h0M62.8 433.4h0M69.9 429.7h0M72.1 394.6h0M63.2 424.3h0M61.3 433.7h0M71.6 385.1h0M74.2 407.2h0M69.5 428.4h0M70.2 396.8h0M71.1 410.3h0M69.7 426.5h0M76.1 417.7h0M72.0 385.2h0M71.9 425.9h0M67.7 409.2h0M74.6 413.1h0M68.0 386.8h0M79.4 421.8h0M56.8 409.5h0M72.1 398.8h0M52.8 405.5h0M61.3 411.7h0M75.4 406.7h0M77.6 425.5h0M54.8 420.4h0M77.5 415.6h0M60.1 400.0h0M79.4 421.3h0M65.8 425.7h0" stroke="#8080a8" stroke-width="1.1" stroke-linecap="round" fill="none"/>
<path d="M62.9 411.1h0M55.1 412.2h0M66.5 398.7h0M61.6 411.0h0M55.9 421.1h0M74.4 419.2h0M51.2 415.6h0M61.8 431.2h0M73.4 394.9h0M69.8 413.5h0M62.5 397.3h0M49.8 409.2h0M53.4 426.7h0M68.5 420.3h0M78.0 402.8h0M54.2 412.1h0M72.8 431.9h0M71.6 386.3h0M55.9 429.5h0M60.5 423.6h0M59.5 434.1h0M70.6 402.0h0M49.3 411.5h0M70.0 395.1h0M57.4 409.3h0M75.4 409.7h0M74.1 404.4h0M56.3 417.5h0M72.7 430.4h0M73.3 405.1h0M71.2 422.7h0M70.2 425.3h0M80.7 414.6h0M78.2 404.6h0M64.6 433.4h0M73.1 416.9h0M75.2 413.8h0M62.7 433.3h0M73.0 401.4h0M54.9 430.3h0M64.3 407.9h0M51.7 420.9h0M66.5 393.4h0M60.7 419.9h0M59.9 418.0h0M60.7 411.6h0M70.5 425.6h0M51.3 411.9h0M64.5 396.4h0M56.7 431.1h0M76.3 413.4h0M67.5 417.9h0M57.1 399.7h0M59.0 430.5h0M56.3 409.8h0M55.8 431.0h0M71.7 391.0h0M63.2 392.6h0M74.4 409.8h0M78.2 400.9h0M69.2 387.2h0" stroke="#7a7aa0" stroke-width="1.1" stroke-linecap="round" fill="none"/>
<path d="M54.6 403.6h0M56.1 429.5h0M71.4 395.4h0M75.4 427.2h0M80.6 413.8h0M73.3 414.9h0M74.8 423.3h0M72.7 408.9h0M53.0 405.6h0M66.7 397.4h0M69.6 391.8h0M70.7 429.6h0M53.7 428.2h0M74.7 390.1h0M55.1 424.1h0M60.8 419.1h0M76.8 395.4h0M67.5 397.0h0M75.5 432.6h0M53.8 421.7h0M57.1 429.2h0M75.2 422.7h0M75.8 419.0h0M61.0 402.0h0M56.2 425.9h0M60.5 410.4h0M63.4 416.2h0M71.8 398.1h0M72.0 387.7h0M50.3 411.6h0M64.6 415.4h0M74.0 404.2h0M58.5 411.8h0M76.8 406.9h0M67.6 398.4h0M70.7 395.3h0M64.3 417.2h0M54.8 415.8h0M52.6 419.2h0M64.2 411.4h0M76.7 398.7h0M72.4 416.9h0M74.9 420.0h0M60.2 419.1h0M64.2 403.1h0M79.6 425.1h0M60.0 412.1h0M65.3 417.8h0M60.5 398.3h0M54.8 422.4h0M72.6 434.2h0M73.1 398.0h0M48.5 412.5h0M62.4 428.8h0M56.3 400.1h0M76.6 418.3h0M57.0 419.4h0M59.9 394.9h0M58.3 433.3h0" stroke="#58587c" stroke-width="1.1" stroke-linecap="round" fill="none"/>
<path d="M55.3 429.0h0M74.0 401.1h0M75.1 425.2h0M74.3 396.3h0M56.0 410.8h0M61.2 434.1h0M56.9 397.3h0M58.4 420.5h0M63.1 422.9h0M64.2 407.1h0M63.8 433.2h0M62.9 431.2h0M76.6 392.8h0M65.5 432.4h0M77.0 394.7h0M80.1 415.6h0M63.6 405.6h0M63.9 391.9h0M70.1 403.7h0M68.0 406.8h0M69.5 385.7h0M57.8 423.2h0M62.8 415.9h0M67.8 385.0h0M79.2 423.7h0M61.8 394.1h0M56.6 401.7h0M78.5 421.3h0M54.6 403.4h0M55.3 420.4h0M53.9 402.2h0M57.1 422.1h0M65.3 430.5h0M65.4 410.3h0M74.7 390.2h0M72.3 396.3h0M55.5 412.1h0M67.9 423.8h0M69.1 405.0h0M51.2 420.8h0M63.8 410.3h0M66.6 387.1h0M51.6 419.1h0" stroke="#9a9ac0" stroke-width="1.1" stroke-linecap="round" fill="none"/>
<path d="M78.3 423.3h0M51.5 427.3h0M72.8 396.0h0M72.5 428.0h0M63.6 410.1h0M71.6 420.4h0M76.0 393.9h0M56.4 413.7h0M60.1 404.5h0M68.2 391.2h0M72.0 401.0h0M72.2 400.1h0M73.6 394.4h0M57.6 432.7h0M56.4 428.0h0M77.0 426.8h0M61.7 388.4h0M70.6 400.8h0M75.0 409.3h0M50.9 422.9h0M76.8 401.7h0M63.9 413.0h0M78.3 398.9h0M59.7 398.1h0M76.1 423.0h0M66.7 418.0h0M73.5 390.6h0M50.8 406.4h0M76.2 400.5h0M62.5 412.5h0M77.9 421.1h0M68.5 421.5h0M73.4 421.8h0M76.2 399.6h0M53.9 421.5h0M61.8 408.5h0M56.7 398.1h0M54.4 409.6h0M65.6 417.4h0M65.7 389.7h0M57.5 416.9h0M58.6 426.7h0M74.1 410.9h0M57.9 408.0h0M63.7 407.5h0M74.9 414.6h0M66.5 387.5h0M65.3 394.8h0M69.3 410.0h0M61.8 416.9h0M55.0 404.9h0M62.8 427.7h0M57.9 408.6h0M75.4 405.5h0M73.7 424.9h0M75.2 406.3h0M67.0 410.7h0" stroke="#6a6a90" stroke-width="1.1" stroke-linecap="round" fill="none"/>
<path d="M64.0 390.0h0M64.0 389.5h0M74.5 403.6h0M63.3 397.3h0M74.8 396.6h0M60.0 396.1h0M76.0 404.3h0M76.3 398.8h0M76.3 393.6h0M63.7 403.7h0M63.8 390.0h0M68.5 388.6h0M61.1 394.7h0M63.8 394.4h0M63.4 395.2h0" stroke="#d0a8a0" stroke-width="1.0" stroke-linecap="round" fill="none"/>
<path d="M77.2 396.3h0M65.3 387.8h0M69.0 392.3h0M60.5 391.6h0M58.2 398.3h0M68.6 385.8h0M75.9 394.5h0M74.2 403.0h0M76.5 394.8h0M76.0 394.3h0M67.9 384.2h0M69.0 388.7h0M70.6 394.7h0M67.7 401.3h0M66.6 392.9h0" stroke="#a07078" stroke-width="1.0" stroke-linecap="round" fill="none"/>
<path d="M63.1 392.1h0M62.5 389.8h0M70.6 386.2h0M74.5 392.3h0M66.9 396.2h0M64.2 386.1h0M66.6 387.4h0M65.0 387.0h0M69.7 395.3h0M69.6 394.4h0M63.8 398.3h0M74.3 400.8h0M57.6 397.4h0M76.9 403.8h0M65.6 392.7h0M72.6 404.7h0" stroke="#c8a098" stroke-width="1.0" stroke-linecap="round" fill="none"/>
<path d="M71.7 384.7h0M58.1 396.3h0M64.7 400.9h0M69.3 391.5h0M61.9 403.0h0M62.7 392.6h0M64.7 390.5h0M59.1 394.5h0M62.4 396.3h0M73.4 401.4h0M73.6 401.7h0M67.6 394.6h0M68.1 402.4h0M65.8 399.7h0M74.1 400.6h0M58.1 393.1h0M58.9 394.5h0M70.5 386.4h0M76.0 403.8h0M74.9 397.9h0M63.4 403.5h0M70.0 402.6h0M59.3 398.9h0M78.2 403.0h0" stroke="#8a7088" stroke-width="1.0" stroke-linecap="round" fill="none"/>
<path d="M71.3 383.0h0.1M72.6 381.9h0.0M73.9 381.0h0.3M74.4 381.0h0.0M74.0 382.4h0.5M76.0 381.9h0.1M76.9 381.7h0.7M78.1 381.5h0.2M79.7 383.0h0.2M80.8 382.8h0.8M81.5 382.5h0.2M83.6 384.7h0.4M85.0 385.0h0.6M86.6 387.0h0.1M88.0 388.1h0.7M88.7 389.1h0.5M90.9 390.6h0.1M92.0 390.5h0.2M93.0 392.5h0.1" stroke="#8c6c7c" stroke-width="2.3" stroke-linecap="round" fill="none" stroke-opacity="0.8"/>
<path d="M101.5 407.7h0.6M99.0 408.6h0.6M93.8 411.5h0.6" stroke="#b07880" stroke-width="1.8" stroke-linecap="round"/>
<path d="M75.6 389.1C76.5 390.4 77.1 392.1 77.1 393.8C77.2 395.4 76.7 397.4 75.8 398.9C75.0 400.5 73.6 402.1 72.1 403.1C70.6 404.2 68.6 405.0 66.8 405.3C65.1 405.5 63.1 405.3 61.5 404.7C60.0 404.1 58.5 403.0 57.6 401.7C56.7 400.4 56.1 398.6 56.1 396.9C56.1 395.3 56.5 393.3 57.4 391.8C58.2 390.2 59.7 388.6 61.2 387.6C62.7 386.5 64.6 385.7 66.4 385.5C68.2 385.2 70.2 385.4 71.7 386.0C73.2 386.6 74.7 387.8 75.6 389.1Z" stroke="#3a6e52" stroke-width="1.05" stroke-dasharray="0.35 1.75" stroke-linecap="round" fill="none" stroke-opacity="0.7"/>
<path d="M78.8 432.6C78.5 433.8 77.4 434.8 76.1 435.5C74.7 436.2 72.5 436.6 70.4 436.7C68.3 436.7 65.7 436.4 63.4 435.8C61.2 435.2 58.7 434.1 56.9 433.0C55.1 432.0 53.5 430.5 52.6 429.2C51.8 428.0 51.4 426.5 51.7 425.4C52.0 424.2 53.1 423.2 54.4 422.5C55.8 421.8 58.0 421.4 60.1 421.3C62.2 421.3 64.8 421.6 67.1 422.2C69.3 422.8 71.8 423.9 73.6 425.0C75.4 426.0 77.0 427.5 77.9 428.8C78.7 430.0 79.1 431.5 78.8 432.6Z" stroke="#262626" stroke-width="1.05" stroke-dasharray="0.35 1.75" stroke-linecap="round" fill="none" stroke-opacity="0.6"/>
<path d="M64.0 366.0L72.0 384.0M33.0 400.8L54.5 401.0" stroke="#3a6e52" stroke-width="1.05" stroke-dasharray="0.35 1.75" stroke-linecap="round" fill="none"/>
<path d="M40.0 425.5L58.0 426.5M56.0 451.0L75.0 433.0" stroke="#262626" stroke-width="1.05" stroke-dasharray="0.35 1.75" stroke-linecap="round" fill="none"/>
<clipPath id="du1"><path d="M48.5 350.8C51.3 350.5 53.8 351.1 56.0 352.0C58.2 352.9 60.2 354.7 61.5 356.5C62.8 358.3 63.7 360.8 64.0 363.0C64.3 365.2 64.2 367.3 63.5 370.0C62.8 372.7 61.5 375.8 60.0 379.0C58.5 382.2 57.0 386.1 54.5 389.0C52.0 391.9 48.6 394.5 45.0 396.5C41.4 398.5 36.8 399.9 33.0 400.8C29.2 401.7 25.2 402.1 22.0 402.0C18.8 401.9 15.4 401.8 13.5 400.5C11.6 399.2 10.8 396.2 10.5 394.0C10.2 391.8 10.6 389.7 11.5 387.0C12.4 384.3 14.2 380.9 16.0 378.0C17.8 375.1 19.7 372.3 22.0 369.5C24.3 366.7 27.2 363.6 30.0 361.0C32.8 358.4 35.9 355.7 39.0 354.0C42.1 352.3 45.7 351.1 48.5 350.8Z"/></clipPath><clipPath id="dl1"><path d="M59.5 448.4C59.1 449.8 58.0 451.2 56.4 452.1C54.9 453.1 52.7 453.9 50.3 454.3C47.9 454.7 44.9 454.9 41.8 454.7C38.8 454.5 35.4 453.9 32.1 453.2C28.8 452.4 25.4 451.2 22.3 450.0C19.2 448.7 16.1 447.1 13.5 445.5C10.9 443.8 8.6 442.0 6.9 440.2C5.1 438.4 3.8 436.5 3.2 434.8C2.5 433.1 2.4 431.4 2.9 430.0C3.3 428.6 4.4 427.2 6.0 426.3C7.5 425.3 9.7 424.5 12.1 424.1C14.5 423.7 17.5 423.5 20.6 423.7C23.6 423.9 27.0 424.5 30.3 425.2C33.6 426.0 37.0 427.2 40.1 428.4C43.2 429.7 46.3 431.3 48.9 432.9C51.5 434.6 53.8 436.4 55.5 438.2C57.3 440.0 58.6 441.9 59.2 443.6C59.9 445.3 60.0 447.0 59.5 448.4Z"/></clipPath>
<path d="M48.5 350.8C51.3 350.5 53.8 351.1 56.0 352.0C58.2 352.9 60.2 354.7 61.5 356.5C62.8 358.3 63.7 360.8 64.0 363.0C64.3 365.2 64.2 367.3 63.5 370.0C62.8 372.7 61.5 375.8 60.0 379.0C58.5 382.2 57.0 386.1 54.5 389.0C52.0 391.9 48.6 394.5 45.0 396.5C41.4 398.5 36.8 399.9 33.0 400.8C29.2 401.7 25.2 402.1 22.0 402.0C18.8 401.9 15.4 401.8 13.5 400.5C11.6 399.2 10.8 396.2 10.5 394.0C10.2 391.8 10.6 389.7 11.5 387.0C12.4 384.3 14.2 380.9 16.0 378.0C17.8 375.1 19.7 372.3 22.0 369.5C24.3 366.7 27.2 363.6 30.0 361.0C32.8 358.4 35.9 355.7 39.0 354.0C42.1 352.3 45.7 351.1 48.5 350.8Z" fill="#fff"/>
<path d="M40.0 354.0C42.3 352.1 45.3 351.8 48.0 351.5C50.7 351.2 53.8 351.6 56.0 352.5C58.2 353.4 60.4 355.1 61.5 357.0C62.6 358.9 62.8 361.5 62.5 364.0C62.2 366.5 61.4 369.3 60.0 372.0C58.6 374.7 56.3 377.5 54.0 380.0C51.7 382.5 48.7 385.0 46.0 387.0C43.3 389.0 40.7 390.8 38.0 392.0C35.3 393.2 32.7 393.8 30.0 394.0C27.3 394.2 23.7 394.0 22.0 393.0C20.3 392.0 19.7 390.2 20.0 388.0C20.3 385.8 22.5 382.7 24.0 380.0C25.5 377.3 27.3 374.8 29.0 372.0C30.7 369.2 32.2 366.0 34.0 363.0C35.8 360.0 37.7 355.9 40.0 354.0Z" fill="#ee9a86" fill-opacity="0.85" clip-path="url(#du1)"/>
<path d="M40.0 354.0C42.3 352.1 45.3 351.8 48.0 351.5C50.7 351.2 53.8 351.6 56.0 352.5C58.2 353.4 60.4 355.1 61.5 357.0C62.6 358.9 62.8 361.5 62.5 364.0C62.2 366.5 61.4 369.3 60.0 372.0C58.6 374.7 56.3 377.5 54.0 380.0C51.7 382.5 48.7 385.0 46.0 387.0C43.3 389.0 40.7 390.8 38.0 392.0C35.3 393.2 32.7 393.8 30.0 394.0C27.3 394.2 23.7 394.0 22.0 393.0C20.3 392.0 19.7 390.2 20.0 388.0C20.3 385.8 22.5 382.7 24.0 380.0C25.5 377.3 27.3 374.8 29.0 372.0C30.7 369.2 32.2 366.0 34.0 363.0C35.8 360.0 37.7 355.9 40.0 354.0Z" fill="url(#hu)" clip-path="url(#du1)"/>
<path d="M12.0 398.0C11.7 396.4 14.5 393.5 16.0 392.0C17.5 390.5 18.7 388.9 21.0 389.0C23.3 389.1 27.2 392.0 30.0 392.5C32.8 393.0 35.3 391.8 38.0 392.0C40.7 392.2 45.3 392.8 46.0 394.0C46.7 395.2 44.7 397.8 42.0 399.0C39.3 400.2 34.0 401.1 30.0 401.5C26.0 401.9 21.0 402.1 18.0 401.5C15.0 400.9 12.3 399.6 12.0 398.0Z" fill="#8a8cc4" fill-opacity="0.85" clip-path="url(#du1)"/>
<path d="M12.0 398.0C11.7 396.4 14.5 393.5 16.0 392.0C17.5 390.5 18.7 388.9 21.0 389.0C23.3 389.1 27.2 392.0 30.0 392.5C32.8 393.0 35.3 391.8 38.0 392.0C40.7 392.2 45.3 392.8 46.0 394.0C46.7 395.2 44.7 397.8 42.0 399.0C39.3 400.2 34.0 401.1 30.0 401.5C26.0 401.9 21.0 402.1 18.0 401.5C15.0 400.9 12.3 399.6 12.0 398.0Z" fill="url(#hu)" clip-path="url(#du1)"/>
<path d="M48.5 350.8C51.3 350.5 53.8 351.1 56.0 352.0C58.2 352.9 60.2 354.7 61.5 356.5C62.8 358.3 63.7 360.8 64.0 363.0C64.3 365.2 64.2 367.3 63.5 370.0C62.8 372.7 61.5 375.8 60.0 379.0C58.5 382.2 57.0 386.1 54.5 389.0C52.0 391.9 48.6 394.5 45.0 396.5C41.4 398.5 36.8 399.9 33.0 400.8C29.2 401.7 25.2 402.1 22.0 402.0C18.8 401.9 15.4 401.8 13.5 400.5C11.6 399.2 10.8 396.2 10.5 394.0C10.2 391.8 10.6 389.7 11.5 387.0C12.4 384.3 14.2 380.9 16.0 378.0C17.8 375.1 19.7 372.3 22.0 369.5C24.3 366.7 27.2 363.6 30.0 361.0C32.8 358.4 35.9 355.7 39.0 354.0C42.1 352.3 45.7 351.1 48.5 350.8Z" stroke="#3a6e52" stroke-width="1.05" stroke-dasharray="0.35 1.75" stroke-linecap="round" fill="none"/>
<path d="M59.5 448.4C59.1 449.8 58.0 451.2 56.4 452.1C54.9 453.1 52.7 453.9 50.3 454.3C47.9 454.7 44.9 454.9 41.8 454.7C38.8 454.5 35.4 453.9 32.1 453.2C28.8 452.4 25.4 451.2 22.3 450.0C19.2 448.7 16.1 447.1 13.5 445.5C10.9 443.8 8.6 442.0 6.9 440.2C5.1 438.4 3.8 436.5 3.2 434.8C2.5 433.1 2.4 431.4 2.9 430.0C3.3 428.6 4.4 427.2 6.0 426.3C7.5 425.3 9.7 424.5 12.1 424.1C14.5 423.7 17.5 423.5 20.6 423.7C23.6 423.9 27.0 424.5 30.3 425.2C33.6 426.0 37.0 427.2 40.1 428.4C43.2 429.7 46.3 431.3 48.9 432.9C51.5 434.6 53.8 436.4 55.5 438.2C57.3 440.0 58.6 441.9 59.2 443.6C59.9 445.3 60.0 447.0 59.5 448.4Z" fill="#fff"/>
<path d="M59.5 448.4C59.1 449.8 58.0 451.2 56.4 452.1C54.9 453.1 52.7 453.9 50.3 454.3C47.9 454.7 44.9 454.9 41.8 454.7C38.8 454.5 35.4 453.9 32.1 453.2C28.8 452.4 25.4 451.2 22.3 450.0C19.2 448.7 16.1 447.1 13.5 445.5C10.9 443.8 8.6 442.0 6.9 440.2C5.1 438.4 3.8 436.5 3.2 434.8C2.5 433.1 2.4 431.4 2.9 430.0C3.3 428.6 4.4 427.2 6.0 426.3C7.5 425.3 9.7 424.5 12.1 424.1C14.5 423.7 17.5 423.5 20.6 423.7C23.6 423.9 27.0 424.5 30.3 425.2C33.6 426.0 37.0 427.2 40.1 428.4C43.2 429.7 46.3 431.3 48.9 432.9C51.5 434.6 53.8 436.4 55.5 438.2C57.3 440.0 58.6 441.9 59.2 443.6C59.9 445.3 60.0 447.0 59.5 448.4Z" fill="#8a96d0" fill-opacity="0.8" clip-path="url(#dl1)"/>
<path d="M59.5 448.4C59.1 449.8 58.0 451.2 56.4 452.1C54.9 453.1 52.7 453.9 50.3 454.3C47.9 454.7 44.9 454.9 41.8 454.7C38.8 454.5 35.4 453.9 32.1 453.2C28.8 452.4 25.4 451.2 22.3 450.0C19.2 448.7 16.1 447.1 13.5 445.5C10.9 443.8 8.6 442.0 6.9 440.2C5.1 438.4 3.8 436.5 3.2 434.8C2.5 433.1 2.4 431.4 2.9 430.0C3.3 428.6 4.4 427.2 6.0 426.3C7.5 425.3 9.7 424.5 12.1 424.1C14.5 423.7 17.5 423.5 20.6 423.7C23.6 423.9 27.0 424.5 30.3 425.2C33.6 426.0 37.0 427.2 40.1 428.4C43.2 429.7 46.3 431.3 48.9 432.9C51.5 434.6 53.8 436.4 55.5 438.2C57.3 440.0 58.6 441.9 59.2 443.6C59.9 445.3 60.0 447.0 59.5 448.4Z" fill="url(#hl)" clip-path="url(#dl1)"/>
<path d="M6.0 436.0C6.3 433.8 10.0 431.7 12.0 431.0C14.0 430.3 17.3 430.5 18.0 432.0C18.7 433.5 17.3 438.0 16.0 440.0C14.7 442.0 11.7 444.7 10.0 444.0C8.3 443.3 5.7 438.2 6.0 436.0Z" fill="#e8eaf6" fill-opacity="0.5" clip-path="url(#dl1)"/>
<path d="M38.0 450.0C39.3 448.7 45.0 446.2 48.0 446.0C51.0 445.8 56.0 447.7 56.0 449.0C56.0 450.3 50.7 453.2 48.0 454.0C45.3 454.8 41.7 454.7 40.0 454.0C38.3 453.3 36.7 451.3 38.0 450.0Z" fill="#eef0f8" fill-opacity="0.55" clip-path="url(#dl1)"/>
<path d="M59.5 448.4C59.1 449.8 58.0 451.2 56.4 452.1C54.9 453.1 52.7 453.9 50.3 454.3C47.9 454.7 44.9 454.9 41.8 454.7C38.8 454.5 35.4 453.9 32.1 453.2C28.8 452.4 25.4 451.2 22.3 450.0C19.2 448.7 16.1 447.1 13.5 445.5C10.9 443.8 8.6 442.0 6.9 440.2C5.1 438.4 3.8 436.5 3.2 434.8C2.5 433.1 2.4 431.4 2.9 430.0C3.3 428.6 4.4 427.2 6.0 426.3C7.5 425.3 9.7 424.5 12.1 424.1C14.5 423.7 17.5 423.5 20.6 423.7C23.6 423.9 27.0 424.5 30.3 425.2C33.6 426.0 37.0 427.2 40.1 428.4C43.2 429.7 46.3 431.3 48.9 432.9C51.5 434.6 53.8 436.4 55.5 438.2C57.3 440.0 58.6 441.9 59.2 443.6C59.9 445.3 60.0 447.0 59.5 448.4Z" stroke="#262626" stroke-width="1.05" stroke-dasharray="0.35 1.75" stroke-linecap="round" fill="none"/>
<rect x="122.0" y="338.8" width="73" height="5.8" fill="#7fb1da"/>
<text x="159.7" y="344.7" text-anchor="middle" style="font-size:7.5px;">201</text>
<g filter="url(#ub)">
<path d="M177.7 388.5C176.1 388.8 174.2 389.5 172.5 390.5C170.7 391.5 168.7 392.8 167.3 394.5C165.8 396.2 164.6 398.2 163.8 400.5C163.0 402.8 162.5 405.8 162.3 408.5C162.1 411.2 162.2 414.0 162.5 416.5C162.7 419.0 162.8 421.3 163.8 423.5C164.7 425.7 166.4 427.9 168.1 429.5C169.9 431.1 172.0 432.5 174.2 433.1C176.4 433.7 179.0 433.7 181.2 433.1C183.4 432.5 185.6 431.1 187.3 429.5C188.9 427.9 190.2 425.8 191.2 423.5C192.2 421.2 192.9 418.2 193.1 415.5C193.3 412.8 193.0 410.3 192.5 407.5C192.0 404.7 190.9 401.0 189.9 398.5C188.9 396.0 187.7 394.1 186.4 392.5C185.1 390.9 183.5 389.7 182.0 389.0C180.6 388.3 179.3 388.2 177.7 388.5Z" fill="#8484ac" fill-opacity="0.92"/>
<path d="M182.0 405.5C183.8 403.3 189.8 401.8 191.6 403.5C193.5 405.2 193.2 412.2 193.1 415.5C193.0 418.8 192.2 421.2 191.2 423.5C190.2 425.8 188.6 429.0 187.3 429.5C185.9 430.0 183.9 428.7 182.9 426.5C181.9 424.3 181.3 420.0 181.2 416.5C181.0 413.0 180.3 407.7 182.0 405.5Z" fill="#96a0c8" fill-opacity="0.6"/>
<path d="M177.7 388.5C176.2 388.8 174.3 389.2 173.3 390.5C172.4 391.8 171.7 394.5 172.1 396.5C172.6 398.5 174.2 401.3 176.0 402.5C177.8 403.7 180.7 403.9 182.9 403.9C185.1 403.9 187.8 403.4 189.0 402.5C190.2 401.6 190.3 400.2 189.9 398.5C189.4 396.8 187.7 394.1 186.4 392.5C185.1 390.9 183.5 389.7 182.0 389.0C180.6 388.3 179.1 388.2 177.7 388.5Z" fill="#b8949a" fill-opacity="0.85"/>
<path d="M191.6 400.5C192.1 399.5 194.0 400.5 194.7 401.5C195.3 402.5 195.8 405.2 195.5 406.5C195.3 407.8 194.0 409.3 193.4 409.5C192.7 409.7 191.9 409.0 191.6 407.5C191.3 406.0 191.1 401.5 191.6 400.5Z" fill="#cbc3da"/>
</g>
<path d="M169.6 424.8h0M176.9 406.0h0M180.6 416.6h0M179.2 416.6h0M181.6 416.9h0M179.8 429.0h0M175.3 397.7h0M175.7 400.2h0M183.4 427.8h0M171.9 412.5h0M189.8 413.7h0M180.9 397.3h0M174.8 401.1h0M171.2 395.0h0M191.7 406.1h0M173.5 421.7h0M190.5 405.0h0M171.5 401.3h0M174.9 430.1h0M175.3 430.5h0M168.6 394.0h0M170.3 400.3h0M179.3 416.3h0M179.7 400.7h0M191.0 408.4h0M174.9 395.4h0M172.4 399.6h0M171.0 410.0h0M166.8 400.5h0M185.3 410.3h0M164.4 401.5h0M179.3 415.8h0M187.0 401.8h0M188.7 408.7h0M183.1 405.5h0M170.8 424.2h0M174.9 407.6h0" stroke="#a8a8c8" stroke-width="1.1" stroke-linecap="round" fill="none"/>
<path d="M183.0 425.1h0M181.9 397.1h0M185.4 416.7h0M170.8 430.6h0M189.1 413.2h0M163.2 406.1h0M171.9 421.4h0M176.6 432.5h0M176.8 426.2h0M175.4 409.2h0M163.8 400.5h0M163.6 420.8h0M168.0 424.5h0M174.6 426.3h0M181.6 394.8h0M183.1 393.8h0M173.8 419.9h0M181.5 397.1h0M188.2 407.9h0M180.5 390.7h0M174.4 410.8h0M164.7 423.8h0M169.1 397.2h0M190.2 404.7h0M177.2 423.1h0M173.7 404.7h0M173.7 397.5h0M171.9 413.3h0M190.1 415.1h0M174.0 416.2h0M171.3 394.4h0M186.7 401.1h0M163.5 421.3h0M169.7 404.8h0M177.6 390.7h0M176.6 431.5h0M186.7 407.9h0M180.0 420.5h0M180.5 431.9h0M188.5 402.7h0M178.0 424.0h0M184.4 417.5h0M176.1 402.3h0M173.3 412.4h0M174.0 432.4h0M188.8 410.8h0M175.1 427.9h0M174.2 426.0h0M190.8 407.4h0M189.6 398.7h0M162.9 407.4h0M170.5 404.2h0M180.3 424.6h0M177.2 414.2h0M167.7 407.6h0M172.0 418.1h0M176.5 422.2h0M182.9 400.8h0M189.3 400.5h0M186.4 423.2h0M167.7 404.3h0M188.3 401.2h0M185.8 400.2h0M171.9 422.0h0M174.3 410.0h0M172.7 424.1h0M174.1 394.8h0M170.7 413.6h0M183.3 397.6h0M163.3 406.6h0M187.7 408.3h0M173.7 417.0h0M185.8 425.5h0" stroke="#6a6a90" stroke-width="1.1" stroke-linecap="round" fill="none"/>
<path d="M166.3 408.4h0M181.3 425.7h0M175.2 413.4h0M189.5 407.8h0M183.8 405.3h0M168.8 408.8h0M177.4 426.1h0M164.9 410.7h0M166.4 417.6h0M178.0 427.0h0M174.1 398.6h0M172.8 428.5h0M175.5 414.8h0M175.2 431.4h0M168.4 417.5h0M171.1 403.0h0M175.0 415.2h0M176.6 398.4h0M165.3 399.0h0M165.8 419.3h0M170.3 429.9h0M175.7 424.5h0M166.4 410.0h0M191.3 415.2h0M165.9 409.5h0M168.6 403.5h0M180.3 426.2h0M173.8 395.0h0M187.4 414.5h0M172.7 393.3h0M178.5 415.5h0M180.4 389.7h0M174.7 410.5h0M175.7 421.9h0M189.6 404.8h0M178.2 410.1h0M181.4 431.4h0M185.0 423.2h0M181.8 412.7h0M174.6 392.3h0M172.6 407.3h0M177.9 433.1h0M171.0 424.4h0M189.5 416.8h0M185.9 413.9h0M176.0 430.2h0M182.8 413.9h0M167.3 424.2h0M177.5 391.6h0" stroke="#58587c" stroke-width="1.1" stroke-linecap="round" fill="none"/>
<path d="M170.3 412.7h0M165.8 419.7h0M182.8 428.7h0M177.2 391.8h0M173.3 404.1h0M169.1 407.9h0M186.3 400.5h0M186.6 406.3h0M177.9 421.0h0M174.8 397.9h0M172.8 429.4h0M180.6 431.2h0M180.2 411.6h0M185.7 413.6h0M162.8 410.2h0M177.5 407.1h0M168.9 404.5h0M164.6 403.8h0M169.5 417.7h0M163.8 421.2h0M183.1 420.6h0M169.4 429.4h0M190.9 409.4h0M174.2 390.0h0M163.3 414.4h0M179.1 389.2h0M164.2 417.2h0M180.7 430.4h0M172.9 396.6h0M183.0 429.2h0M188.2 410.1h0M184.0 421.3h0M164.6 411.8h0M163.6 404.7h0M175.9 433.1h0M182.6 398.3h0M168.2 401.5h0M170.2 405.5h0M166.2 417.6h0M178.8 402.7h0" stroke="#9a9ac0" stroke-width="1.1" stroke-linecap="round" fill="none"/>
<path d="M163.0 411.5h0M172.4 395.0h0M192.2 406.9h0M189.2 424.3h0M186.9 426.0h0M163.2 413.9h0M178.7 420.0h0M176.1 396.0h0M181.7 430.9h0M175.1 395.0h0M185.3 408.0h0M165.7 425.1h0M189.1 406.9h0M172.4 393.4h0M176.2 415.6h0M180.4 410.0h0M175.2 400.3h0M183.7 399.2h0M181.4 410.6h0M179.5 426.8h0M165.0 407.8h0M172.1 402.1h0M169.8 429.8h0M187.4 409.6h0M167.8 424.3h0M190.6 417.3h0M168.5 412.4h0M187.0 415.3h0M166.4 427.1h0M170.4 425.1h0M191.9 409.4h0M186.2 426.1h0M172.6 429.7h0M165.6 405.8h0M177.3 415.8h0M186.8 422.5h0M188.6 425.3h0M164.5 415.6h0M187.4 409.6h0M182.5 412.5h0M191.9 420.3h0M183.8 418.2h0M178.2 405.7h0M177.0 417.6h0M177.8 389.2h0M187.5 422.3h0M168.4 399.6h0M177.6 425.5h0M167.8 403.7h0M179.8 400.5h0M169.9 426.5h0M165.7 407.3h0M178.5 405.6h0M187.0 422.8h0M169.1 422.8h0M182.0 394.9h0M167.9 411.7h0M185.3 402.1h0M176.2 390.9h0M187.1 406.8h0M169.7 406.1h0M181.4 407.7h0M179.8 404.5h0M179.6 425.8h0M175.1 421.5h0M181.4 396.2h0M178.4 399.2h0M191.4 418.4h0M177.2 411.2h0M167.2 400.2h0M170.2 402.2h0M168.8 395.8h0M181.9 405.8h0M188.4 411.6h0" stroke="#7a7aa0" stroke-width="1.1" stroke-linecap="round" fill="none"/>
<path d="M191.2 411.9h0M175.5 404.9h0M171.5 400.9h0M173.8 393.3h0M182.4 400.4h0M165.9 404.3h0M180.7 425.6h0M178.7 397.7h0M186.8 398.3h0M183.1 428.8h0M165.8 423.7h0M166.3 406.9h0M177.0 400.7h0M184.9 421.2h0M189.6 414.8h0M178.0 417.3h0M188.3 426.2h0M173.4 430.4h0M166.2 397.8h0M177.3 408.0h0M172.4 418.5h0M184.9 407.1h0M179.1 403.7h0M186.5 419.6h0M183.1 408.8h0M182.7 392.6h0M181.0 409.3h0M181.7 398.5h0M163.2 412.5h0M176.5 390.1h0M174.2 399.0h0M170.8 406.2h0M172.0 422.8h0M169.2 397.4h0M169.9 413.9h0M180.6 419.5h0M180.7 400.2h0M180.2 394.4h0M170.8 397.1h0M180.1 390.8h0M173.0 395.5h0M163.1 410.6h0M175.6 391.3h0M191.1 419.1h0M184.1 410.6h0M179.9 394.0h0M182.5 394.7h0" stroke="#8080a8" stroke-width="1.1" stroke-linecap="round" fill="none"/>
<path d="M182.1 397.0h0M178.3 391.6h0M188.1 397.7h0M177.4 401.7h0M184.2 401.3h0M183.4 399.1h0M181.7 392.8h0M185.5 399.1h0M182.2 396.7h0M179.2 396.4h0M182.3 390.7h0M183.9 403.4h0M177.5 393.7h0M181.2 396.9h0M179.5 395.0h0M176.5 401.7h0M175.0 396.4h0" stroke="#d0a8a0" stroke-width="1.0" stroke-linecap="round" fill="none"/>
<path d="M174.8 397.4h0M182.9 393.4h0M189.0 401.7h0M175.1 391.1h0M184.7 403.0h0M173.4 390.7h0M178.4 391.7h0M181.8 389.2h0M182.6 397.1h0M180.6 400.4h0M187.6 402.0h0M179.0 396.0h0M179.7 391.0h0M183.4 394.3h0M188.9 398.8h0M181.0 396.7h0M184.2 390.8h0" stroke="#c8a098" stroke-width="1.0" stroke-linecap="round" fill="none"/>
<path d="M182.3 400.9h0M174.1 398.3h0M179.1 398.4h0M177.1 394.4h0M178.5 399.2h0M187.5 400.3h0M181.3 399.4h0M184.9 398.5h0M182.0 399.9h0M174.5 398.0h0M187.6 398.7h0M179.7 398.1h0M181.4 397.2h0M188.4 399.8h0M176.6 398.4h0M178.8 397.6h0M188.3 402.5h0" stroke="#8a7088" stroke-width="1.0" stroke-linecap="round" fill="none"/>
<path d="M182.5 396.3h0M182.5 396.9h0M174.5 398.1h0M179.3 403.0h0M186.6 396.4h0M177.4 398.6h0M184.7 392.8h0M182.5 400.7h0M185.7 392.0h0M187.5 398.9h0M172.5 396.9h0M175.6 390.1h0M181.1 403.4h0M184.2 401.0h0M173.4 397.5h0M182.7 398.6h0M186.2 392.6h0M189.0 399.0h0M183.3 390.7h0" stroke="#a07078" stroke-width="1.0" stroke-linecap="round" fill="none"/>
<path d="M179.1 385.0h0.6M179.7 383.9h0.4M181.7 382.9h0.4M184.2 382.1h0.4M188.5 381.0h0.7M189.3 380.9h0.5M190.8 380.9h0.6M191.7 381.4h0.0M192.8 382.1h0.4M194.2 382.9h0.4M195.6 383.9h0.3M197.3 385.0h0.2M197.4 384.7h0.5M198.5 386.2h0.7M199.4 387.1h0.7M200.3 387.9h0.2M204.4 391.1h0.2" stroke="#8c6c7c" stroke-width="2.3" stroke-linecap="round" fill="none" stroke-opacity="0.8"/>
<path d="M216.0 407.7h0.6M214.5 408.2h0.6M208.5 410.8h0.6" stroke="#b07880" stroke-width="1.8" stroke-linecap="round"/>
<path d="M188.6 390.7C189.5 392.0 190.0 393.8 190.1 395.5C190.1 397.1 189.6 399.1 188.8 400.6C187.9 402.2 186.5 403.8 185.0 404.8C183.5 405.9 181.5 406.7 179.8 406.9C178.0 407.2 176.0 407.0 174.5 406.4C172.9 405.8 171.4 404.7 170.5 403.4C169.6 402.1 169.1 400.3 169.0 398.6C169.0 397.0 169.5 395.0 170.3 393.5C171.2 391.9 172.6 390.3 174.1 389.3C175.6 388.2 177.6 387.4 179.3 387.2C181.1 386.9 183.1 387.1 184.6 387.7C186.2 388.3 187.6 389.4 188.6 390.7Z" stroke="#3a6e52" stroke-width="1.05" stroke-dasharray="0.35 1.75" stroke-linecap="round" fill="none" stroke-opacity="0.7"/>
<path d="M192.2 429.7C191.9 430.9 190.9 431.9 189.5 432.6C188.1 433.3 186.0 433.7 183.9 433.8C181.8 433.8 179.1 433.5 176.9 432.9C174.6 432.3 172.2 431.2 170.4 430.1C168.6 429.1 166.9 427.6 166.1 426.3C165.2 425.1 164.9 423.6 165.2 422.5C165.5 421.3 166.5 420.3 167.9 419.6C169.3 418.9 171.4 418.5 173.5 418.4C175.6 418.4 178.3 418.7 180.5 419.3C182.8 419.9 185.2 421.0 187.0 422.1C188.8 423.1 190.5 424.6 191.3 425.9C192.2 427.1 192.5 428.6 192.2 429.7Z" stroke="#262626" stroke-width="1.05" stroke-dasharray="0.35 1.75" stroke-linecap="round" fill="none" stroke-opacity="0.6"/>
<path d="M176.0 366.0L185.0 384.0M144.0 401.0L168.0 401.0" stroke="#3a6e52" stroke-width="1.05" stroke-dasharray="0.35 1.75" stroke-linecap="round" fill="none"/>
<path d="M152.0 426.5L172.0 426.0M168.0 452.0L189.0 433.0" stroke="#262626" stroke-width="1.05" stroke-dasharray="0.35 1.75" stroke-linecap="round" fill="none"/>
<clipPath id="du2"><path d="M161.0 350.8C163.8 350.5 166.3 351.1 168.5 352.0C170.7 352.9 172.7 354.7 174.0 356.5C175.3 358.3 176.2 360.8 176.5 363.0C176.8 365.2 176.7 367.3 176.0 370.0C175.3 372.7 174.0 375.8 172.5 379.0C171.0 382.2 169.5 386.1 167.0 389.0C164.5 391.9 161.1 394.5 157.5 396.5C153.9 398.5 149.3 399.9 145.5 400.8C141.7 401.7 137.8 402.1 134.5 402.0C131.2 401.9 127.9 401.8 126.0 400.5C124.1 399.2 123.3 396.2 123.0 394.0C122.7 391.8 123.1 389.7 124.0 387.0C124.9 384.3 126.8 380.9 128.5 378.0C130.2 375.1 132.2 372.3 134.5 369.5C136.8 366.7 139.7 363.6 142.5 361.0C145.3 358.4 148.4 355.7 151.5 354.0C154.6 352.3 158.2 351.1 161.0 350.8Z"/></clipPath><clipPath id="dl2"><path d="M171.3 449.3C170.8 450.7 169.7 452.1 168.2 453.1C166.6 454.0 164.5 454.8 162.1 455.3C159.7 455.7 156.7 455.8 153.7 455.6C150.7 455.4 147.3 454.9 144.1 454.1C140.8 453.4 137.4 452.3 134.3 451.0C131.2 449.7 128.2 448.1 125.6 446.5C123.1 444.9 120.8 443.1 119.1 441.3C117.4 439.5 116.1 437.6 115.4 435.9C114.8 434.2 114.7 432.5 115.1 431.1C115.6 429.7 116.7 428.3 118.2 427.3C119.8 426.4 121.9 425.6 124.3 425.1C126.7 424.7 129.7 424.6 132.7 424.8C135.7 425.0 139.1 425.5 142.3 426.3C145.6 427.0 149.0 428.1 152.1 429.4C155.2 430.7 158.2 432.3 160.8 433.9C163.3 435.5 165.6 437.3 167.3 439.1C169.0 440.9 170.3 442.8 171.0 444.5C171.6 446.2 171.7 447.9 171.3 449.3Z"/></clipPath>
<path d="M161.0 350.8C163.8 350.5 166.3 351.1 168.5 352.0C170.7 352.9 172.7 354.7 174.0 356.5C175.3 358.3 176.2 360.8 176.5 363.0C176.8 365.2 176.7 367.3 176.0 370.0C175.3 372.7 174.0 375.8 172.5 379.0C171.0 382.2 169.5 386.1 167.0 389.0C164.5 391.9 161.1 394.5 157.5 396.5C153.9 398.5 149.3 399.9 145.5 400.8C141.7 401.7 137.8 402.1 134.5 402.0C131.2 401.9 127.9 401.8 126.0 400.5C124.1 399.2 123.3 396.2 123.0 394.0C122.7 391.8 123.1 389.7 124.0 387.0C124.9 384.3 126.8 380.9 128.5 378.0C130.2 375.1 132.2 372.3 134.5 369.5C136.8 366.7 139.7 363.6 142.5 361.0C145.3 358.4 148.4 355.7 151.5 354.0C154.6 352.3 158.2 351.1 161.0 350.8Z" fill="#fff"/>
<path d="M154.0 354.0C155.7 352.1 159.3 350.8 162.0 350.8C164.7 350.8 168.3 352.1 170.0 354.0C171.7 355.9 172.3 359.0 172.0 362.0C171.7 365.0 169.7 369.0 168.0 372.0C166.3 375.0 164.0 377.7 162.0 380.0C160.0 382.3 158.0 385.3 156.0 386.0C154.0 386.7 150.8 386.3 150.0 384.0C149.2 381.7 150.7 375.7 151.0 372.0C151.3 368.3 151.5 365.0 152.0 362.0C152.5 359.0 152.3 355.9 154.0 354.0Z" fill="#f2b2a2" fill-opacity="0.85" clip-path="url(#du2)"/>
<path d="M154.0 354.0C155.7 352.1 159.3 350.8 162.0 350.8C164.7 350.8 168.3 352.1 170.0 354.0C171.7 355.9 172.3 359.0 172.0 362.0C171.7 365.0 169.7 369.0 168.0 372.0C166.3 375.0 164.0 377.7 162.0 380.0C160.0 382.3 158.0 385.3 156.0 386.0C154.0 386.7 150.8 386.3 150.0 384.0C149.2 381.7 150.7 375.7 151.0 372.0C151.3 368.3 151.5 365.0 152.0 362.0C152.5 359.0 152.3 355.9 154.0 354.0Z" fill="url(#hu)" clip-path="url(#du2)"/>
<path d="M150.0 384.0C151.7 385.3 156.3 384.7 156.0 386.0C155.7 387.3 151.0 390.2 148.0 392.0C145.0 393.8 141.3 395.7 138.0 397.0C134.7 398.3 130.3 400.0 128.0 400.0C125.7 400.0 123.3 398.7 124.0 397.0C124.7 395.3 129.3 392.2 132.0 390.0C134.7 387.8 137.7 386.0 140.0 384.0C142.3 382.0 144.3 378.0 146.0 378.0C147.7 378.0 148.3 382.7 150.0 384.0Z" fill="#d0d0e6" fill-opacity="0.8" clip-path="url(#du2)"/>
<path d="M150.0 384.0C151.7 385.3 156.3 384.7 156.0 386.0C155.7 387.3 151.0 390.2 148.0 392.0C145.0 393.8 141.3 395.7 138.0 397.0C134.7 398.3 130.3 400.0 128.0 400.0C125.7 400.0 123.3 398.7 124.0 397.0C124.7 395.3 129.3 392.2 132.0 390.0C134.7 387.8 137.7 386.0 140.0 384.0C142.3 382.0 144.3 378.0 146.0 378.0C147.7 378.0 148.3 382.7 150.0 384.0Z" fill="url(#hd)" clip-path="url(#du2)"/>
<path d="M134.0 378.0C135.7 376.0 140.0 372.3 142.0 372.0C144.0 371.7 146.3 374.3 146.0 376.0C145.7 377.7 142.3 380.7 140.0 382.0C137.7 383.3 133.0 384.7 132.0 384.0C131.0 383.3 132.3 380.0 134.0 378.0Z" fill="#e0d8e8" fill-opacity="0.6" clip-path="url(#du2)"/>
<path d="M134.0 378.0C135.7 376.0 140.0 372.3 142.0 372.0C144.0 371.7 146.3 374.3 146.0 376.0C145.7 377.7 142.3 380.7 140.0 382.0C137.7 383.3 133.0 384.7 132.0 384.0C131.0 383.3 132.3 380.0 134.0 378.0Z" fill="url(#hd)" clip-path="url(#du2)"/>
<path d="M161.0 350.8C163.8 350.5 166.3 351.1 168.5 352.0C170.7 352.9 172.7 354.7 174.0 356.5C175.3 358.3 176.2 360.8 176.5 363.0C176.8 365.2 176.7 367.3 176.0 370.0C175.3 372.7 174.0 375.8 172.5 379.0C171.0 382.2 169.5 386.1 167.0 389.0C164.5 391.9 161.1 394.5 157.5 396.5C153.9 398.5 149.3 399.9 145.5 400.8C141.7 401.7 137.8 402.1 134.5 402.0C131.2 401.9 127.9 401.8 126.0 400.5C124.1 399.2 123.3 396.2 123.0 394.0C122.7 391.8 123.1 389.7 124.0 387.0C124.9 384.3 126.8 380.9 128.5 378.0C130.2 375.1 132.2 372.3 134.5 369.5C136.8 366.7 139.7 363.6 142.5 361.0C145.3 358.4 148.4 355.7 151.5 354.0C154.6 352.3 158.2 351.1 161.0 350.8Z" stroke="#3a6e52" stroke-width="1.05" stroke-dasharray="0.35 1.75" stroke-linecap="round" fill="none"/>
<path d="M171.3 449.3C170.8 450.7 169.7 452.1 168.2 453.1C166.6 454.0 164.5 454.8 162.1 455.3C159.7 455.7 156.7 455.8 153.7 455.6C150.7 455.4 147.3 454.9 144.1 454.1C140.8 453.4 137.4 452.3 134.3 451.0C131.2 449.7 128.2 448.1 125.6 446.5C123.1 444.9 120.8 443.1 119.1 441.3C117.4 439.5 116.1 437.6 115.4 435.9C114.8 434.2 114.7 432.5 115.1 431.1C115.6 429.7 116.7 428.3 118.2 427.3C119.8 426.4 121.9 425.6 124.3 425.1C126.7 424.7 129.7 424.6 132.7 424.8C135.7 425.0 139.1 425.5 142.3 426.3C145.6 427.0 149.0 428.1 152.1 429.4C155.2 430.7 158.2 432.3 160.8 433.9C163.3 435.5 165.6 437.3 167.3 439.1C169.0 440.9 170.3 442.8 171.0 444.5C171.6 446.2 171.7 447.9 171.3 449.3Z" fill="#fff"/>
<path d="M171.3 449.3C170.8 450.7 169.7 452.1 168.2 453.1C166.6 454.0 164.5 454.8 162.1 455.3C159.7 455.7 156.7 455.8 153.7 455.6C150.7 455.4 147.3 454.9 144.1 454.1C140.8 453.4 137.4 452.3 134.3 451.0C131.2 449.7 128.2 448.1 125.6 446.5C123.1 444.9 120.8 443.1 119.1 441.3C117.4 439.5 116.1 437.6 115.4 435.9C114.8 434.2 114.7 432.5 115.1 431.1C115.6 429.7 116.7 428.3 118.2 427.3C119.8 426.4 121.9 425.6 124.3 425.1C126.7 424.7 129.7 424.6 132.7 424.8C135.7 425.0 139.1 425.5 142.3 426.3C145.6 427.0 149.0 428.1 152.1 429.4C155.2 430.7 158.2 432.3 160.8 433.9C163.3 435.5 165.6 437.3 167.3 439.1C169.0 440.9 170.3 442.8 171.0 444.5C171.6 446.2 171.7 447.9 171.3 449.3Z" fill="#8a98d0" fill-opacity="0.8" clip-path="url(#dl2)"/>
<path d="M171.3 449.3C170.8 450.7 169.7 452.1 168.2 453.1C166.6 454.0 164.5 454.8 162.1 455.3C159.7 455.7 156.7 455.8 153.7 455.6C150.7 455.4 147.3 454.9 144.1 454.1C140.8 453.4 137.4 452.3 134.3 451.0C131.2 449.7 128.2 448.1 125.6 446.5C123.1 444.9 120.8 443.1 119.1 441.3C117.4 439.5 116.1 437.6 115.4 435.9C114.8 434.2 114.7 432.5 115.1 431.1C115.6 429.7 116.7 428.3 118.2 427.3C119.8 426.4 121.9 425.6 124.3 425.1C126.7 424.7 129.7 424.6 132.7 424.8C135.7 425.0 139.1 425.5 142.3 426.3C145.6 427.0 149.0 428.1 152.1 429.4C155.2 430.7 158.2 432.3 160.8 433.9C163.3 435.5 165.6 437.3 167.3 439.1C169.0 440.9 170.3 442.8 171.0 444.5C171.6 446.2 171.7 447.9 171.3 449.3Z" fill="url(#hl)" clip-path="url(#dl2)"/>
<path d="M114.0 442.0C115.3 441.3 119.0 444.3 122.0 446.0C125.0 447.7 131.7 450.3 132.0 452.0C132.3 453.7 127.0 456.3 124.0 456.0C121.0 455.7 115.7 452.3 114.0 450.0C112.3 447.7 112.7 442.7 114.0 442.0Z" fill="#f0f0f8" fill-opacity="0.7" clip-path="url(#dl2)"/>
<path d="M171.3 449.3C170.8 450.7 169.7 452.1 168.2 453.1C166.6 454.0 164.5 454.8 162.1 455.3C159.7 455.7 156.7 455.8 153.7 455.6C150.7 455.4 147.3 454.9 144.1 454.1C140.8 453.4 137.4 452.3 134.3 451.0C131.2 449.7 128.2 448.1 125.6 446.5C123.1 444.9 120.8 443.1 119.1 441.3C117.4 439.5 116.1 437.6 115.4 435.9C114.8 434.2 114.7 432.5 115.1 431.1C115.6 429.7 116.7 428.3 118.2 427.3C119.8 426.4 121.9 425.6 124.3 425.1C126.7 424.7 129.7 424.6 132.7 424.8C135.7 425.0 139.1 425.5 142.3 426.3C145.6 427.0 149.0 428.1 152.1 429.4C155.2 430.7 158.2 432.3 160.8 433.9C163.3 435.5 165.6 437.3 167.3 439.1C169.0 440.9 170.3 442.8 171.0 444.5C171.6 446.2 171.7 447.9 171.3 449.3Z" stroke="#262626" stroke-width="1.05" stroke-dasharray="0.35 1.75" stroke-linecap="round" fill="none"/>
<rect x="7.0" y="461.3" width="73" height="5.8" fill="#a6d4cc"/>
<text x="44.7" y="467.2" text-anchor="middle" style="font-size:7.5px;">203</text>
<g filter="url(#ub)">
<path d="M70.0 510.0C68.0 509.9 66.0 511.0 64.0 512.0C62.0 513.0 60.0 514.5 58.0 516.0C56.0 517.5 53.7 519.0 52.0 521.0C50.3 523.0 48.8 525.5 48.0 528.0C47.2 530.5 46.9 533.3 47.0 536.0C47.1 538.7 47.5 541.7 48.5 544.0C49.5 546.3 51.1 548.3 53.0 550.0C54.9 551.7 57.5 553.2 60.0 554.0C62.5 554.8 65.3 555.2 68.0 555.0C70.7 554.8 73.8 554.2 76.0 553.0C78.2 551.8 79.7 550.0 81.0 548.0C82.3 546.0 83.4 543.5 84.0 541.0C84.6 538.5 84.8 535.7 84.6 533.0C84.4 530.3 83.8 527.5 83.0 525.0C82.2 522.5 81.2 520.1 80.0 518.0C78.8 515.9 77.7 513.8 76.0 512.5C74.3 511.2 72.0 510.1 70.0 510.0Z" fill="#8484ac" fill-opacity="0.92"/>
<path d="M72.0 528.0C74.0 526.2 80.9 524.2 83.0 525.0C85.1 525.8 84.4 530.3 84.6 533.0C84.8 535.7 84.6 538.5 84.0 541.0C83.4 543.5 82.3 546.0 81.0 548.0C79.7 550.0 77.5 553.3 76.0 553.0C74.5 552.7 72.8 548.8 72.0 546.0C71.2 543.2 71.0 539.0 71.0 536.0C71.0 533.0 70.0 529.8 72.0 528.0Z" fill="#96a0c8" fill-opacity="0.6"/>
<path d="M70.0 510.0C68.0 509.9 65.4 510.7 64.0 512.0C62.6 513.3 61.2 516.0 61.5 518.0C61.8 520.0 63.9 522.7 66.0 524.0C68.1 525.3 71.6 525.8 74.0 526.0C76.4 526.2 79.5 526.7 80.5 525.4C81.5 524.1 80.8 520.1 80.0 518.0C79.2 515.9 77.7 513.8 76.0 512.5C74.3 511.2 72.0 510.1 70.0 510.0Z" fill="#b8949a" fill-opacity="0.85"/>
<path d="M83.0 522.0C83.6 521.0 85.8 522.0 86.5 523.0C87.2 524.0 87.8 526.7 87.5 528.0C87.2 529.3 85.8 530.8 85.0 531.0C84.2 531.2 83.3 530.5 83.0 529.0C82.7 527.5 82.4 523.0 83.0 522.0Z" fill="#cbc3da"/>
</g>
<path d="M79.1 520.0h0M64.3 537.5h0M78.9 548.4h0M79.5 521.1h0M76.6 538.5h0M79.4 523.3h0M68.1 550.6h0M59.3 552.5h0M70.4 516.5h0M71.8 523.6h0M80.5 524.7h0M69.8 523.2h0M64.8 554.1h0M62.0 525.7h0M60.1 535.4h0M50.7 544.8h0M56.0 531.4h0M75.4 542.9h0M57.5 551.1h0M59.7 519.1h0M77.9 529.9h0M54.4 547.7h0M76.4 524.0h0M59.8 544.6h0M52.4 538.0h0M61.1 526.7h0M62.0 532.6h0M69.9 526.8h0M65.6 554.7h0M69.4 528.3h0M54.9 548.6h0M81.5 539.8h0M72.2 547.5h0M66.9 538.0h0M76.3 536.0h0M63.3 535.4h0M53.3 548.3h0M80.5 548.1h0M78.4 531.0h0M65.0 539.3h0M51.2 531.9h0M72.6 539.4h0M80.3 535.4h0M70.2 530.2h0M70.0 523.7h0M73.6 536.3h0M76.5 530.4h0M61.9 542.2h0M74.6 513.4h0M78.9 521.0h0M55.0 519.3h0M67.5 553.6h0M75.6 523.2h0M64.3 539.6h0M66.5 523.4h0M77.8 545.1h0M66.9 528.6h0" stroke="#7a7aa0" stroke-width="1.1" stroke-linecap="round" fill="none"/>
<path d="M67.9 536.3h0M70.0 535.2h0M65.9 511.5h0M64.1 554.0h0M69.0 512.6h0M74.3 549.5h0M69.2 552.0h0M55.6 545.3h0M61.6 527.1h0M73.6 552.2h0M67.7 525.8h0M71.0 535.2h0M49.3 543.2h0M69.9 554.2h0M59.1 526.3h0M82.4 528.3h0M60.6 547.2h0M77.7 526.2h0M71.7 542.7h0M56.6 521.0h0M54.3 549.3h0M80.3 548.3h0M78.1 515.7h0M52.8 542.5h0M55.5 550.1h0M70.5 530.1h0M50.0 544.2h0M53.4 525.1h0M82.2 530.7h0M83.8 536.9h0M65.5 533.7h0M69.9 537.0h0M73.0 514.5h0M59.0 544.4h0M50.8 525.7h0M67.4 524.4h0M73.5 519.7h0M69.4 544.6h0M80.8 528.4h0M61.2 529.7h0M68.5 534.2h0M50.2 539.4h0M54.7 544.5h0M50.1 529.9h0M56.3 549.2h0M64.5 551.0h0M78.8 529.5h0M69.9 518.0h0M77.7 518.1h0M69.4 549.8h0M48.6 529.4h0M60.5 551.7h0M76.6 527.1h0M83.7 530.9h0M70.4 548.1h0M57.5 545.9h0M80.8 543.5h0M64.2 528.5h0M84.2 535.7h0M79.7 521.0h0M78.1 536.6h0" stroke="#9a9ac0" stroke-width="1.1" stroke-linecap="round" fill="none"/>
<path d="M63.6 544.0h0M52.5 543.8h0M79.1 523.4h0M72.8 541.1h0M65.1 512.8h0M52.9 524.6h0M58.1 550.7h0M74.5 516.3h0M72.6 549.8h0M58.6 530.3h0M57.1 547.5h0M79.8 534.1h0M82.0 523.1h0M50.1 546.0h0M65.8 522.1h0M67.4 522.7h0M69.0 544.0h0M70.9 543.2h0M63.5 535.2h0M71.4 516.5h0M53.0 520.5h0M67.5 541.5h0M70.5 516.0h0M79.7 540.2h0M73.8 531.7h0M67.9 549.6h0M61.7 551.2h0M64.2 530.5h0M80.9 531.2h0M56.0 521.0h0M73.5 533.2h0M53.2 547.2h0M49.9 528.0h0M69.5 550.3h0M56.9 533.0h0M74.8 512.4h0M74.9 519.3h0M48.8 539.1h0M53.6 542.8h0M53.8 529.3h0M66.1 530.7h0M52.5 545.1h0M63.4 522.5h0M75.8 537.0h0M51.6 534.1h0M56.4 528.6h0M73.0 521.3h0M77.9 526.4h0M75.1 538.1h0M73.4 545.8h0M48.3 542.9h0M64.7 528.7h0M64.8 521.5h0M68.4 554.5h0M55.7 520.7h0" stroke="#6a6a90" stroke-width="1.1" stroke-linecap="round" fill="none"/>
<path d="M70.8 541.0h0M66.7 554.8h0M52.5 528.3h0M72.9 552.9h0M60.8 529.1h0M69.9 549.7h0M80.8 545.5h0M66.4 534.2h0M78.2 527.7h0M65.5 541.1h0M53.8 534.6h0M65.9 550.0h0M72.4 546.7h0M60.4 536.2h0M73.9 512.2h0M66.6 534.3h0M81.9 534.7h0M71.6 517.8h0M49.8 541.9h0M54.7 547.6h0M77.3 544.1h0M59.3 535.7h0M83.6 528.3h0M80.2 527.6h0M72.8 515.8h0M66.0 519.3h0M76.6 516.9h0M80.9 522.6h0M73.4 524.7h0M79.0 531.6h0M73.4 525.8h0M64.7 543.7h0M59.6 542.0h0M70.3 546.5h0M71.1 544.8h0M57.6 518.0h0M52.7 530.9h0M54.9 547.4h0M81.8 524.4h0M64.7 523.9h0M60.7 516.0h0M50.8 533.8h0M54.6 533.5h0M62.7 545.2h0M60.7 524.5h0M79.7 535.5h0M59.0 526.8h0M74.7 525.8h0M76.2 513.8h0M72.0 524.5h0M61.4 532.9h0" stroke="#a8a8c8" stroke-width="1.1" stroke-linecap="round" fill="none"/>
<path d="M68.1 541.5h0M72.6 518.1h0M83.4 539.6h0M75.6 539.2h0M56.2 527.6h0M79.9 520.4h0M57.8 528.2h0M74.6 529.4h0M55.1 525.0h0M58.2 538.5h0M57.1 544.7h0M64.7 553.2h0M71.8 522.9h0M65.6 541.1h0M58.3 527.3h0M74.8 540.1h0M72.1 545.0h0M55.4 529.1h0M69.4 521.6h0M69.2 522.7h0M65.4 515.6h0M65.0 544.6h0M57.1 539.1h0M71.3 516.3h0M83.5 528.6h0M60.3 543.8h0M67.7 517.9h0M61.5 546.5h0M53.6 540.2h0M62.3 549.1h0M69.2 514.8h0M72.1 525.9h0M66.6 540.9h0M59.4 527.8h0M72.1 545.7h0M66.9 522.4h0M56.8 537.2h0M67.5 540.0h0M61.0 528.1h0M78.3 526.2h0M70.7 511.1h0M63.4 538.0h0M75.5 537.3h0M76.9 516.9h0M52.4 547.8h0M68.5 519.8h0M76.8 543.8h0M72.6 542.3h0M72.0 518.0h0M73.5 514.3h0M56.4 546.5h0M77.4 514.5h0" stroke="#58587c" stroke-width="1.1" stroke-linecap="round" fill="none"/>
<path d="M81.3 538.9h0M63.6 538.4h0M67.1 544.3h0M53.0 522.5h0M65.8 543.3h0M67.3 554.7h0M67.5 539.5h0M62.2 549.3h0M53.3 548.5h0M75.9 541.4h0M72.1 523.0h0M58.6 536.8h0M73.0 549.7h0M76.9 546.0h0M51.0 545.1h0M77.4 539.7h0M66.3 541.3h0M71.5 532.0h0M80.0 533.3h0M56.4 525.0h0M72.1 541.0h0M66.9 514.6h0M70.1 531.3h0M69.3 533.1h0M80.5 542.2h0M70.6 542.8h0M71.9 550.0h0M48.5 528.6h0M79.7 528.4h0M54.2 527.4h0M73.3 517.4h0M49.7 525.5h0M64.3 542.3h0M57.2 524.7h0M66.5 541.7h0M78.4 538.7h0M62.9 552.4h0M66.2 536.1h0M65.0 533.9h0M48.5 536.1h0M57.4 532.6h0M51.1 542.8h0M73.5 517.1h0M50.5 546.4h0" stroke="#8080a8" stroke-width="1.1" stroke-linecap="round" fill="none"/>
<path d="M73.3 524.9h0M64.9 519.8h0M68.5 524.6h0M64.7 513.2h0M67.4 515.5h0M77.1 523.0h0M64.5 519.3h0M69.1 513.5h0M69.9 523.9h0M73.1 525.3h0M74.1 522.9h0M74.9 513.7h0M72.7 512.1h0M76.2 523.0h0M68.4 519.8h0M68.2 519.5h0M69.2 511.2h0" stroke="#8a7088" stroke-width="1.0" stroke-linecap="round" fill="none"/>
<path d="M76.9 525.6h0M73.6 522.8h0M63.6 519.2h0M67.4 514.2h0M72.6 523.5h0M79.5 520.9h0M77.4 525.5h0M72.3 519.0h0M70.4 516.0h0M77.6 519.5h0M69.9 524.7h0M72.1 516.7h0M68.1 523.9h0M76.3 517.7h0M64.3 518.4h0M73.0 521.2h0M80.0 518.6h0M71.0 520.5h0M68.0 516.0h0M69.7 521.6h0M64.3 519.8h0M78.0 519.1h0M79.6 523.3h0M65.6 517.3h0" stroke="#d0a8a0" stroke-width="1.0" stroke-linecap="round" fill="none"/>
<path d="M78.5 524.0h0M76.2 524.6h0M73.0 520.7h0M69.6 518.0h0M65.9 513.4h0M76.9 521.6h0M66.2 517.4h0M63.5 516.2h0M79.4 517.7h0M69.3 515.7h0M65.2 517.4h0M70.7 521.3h0M64.9 512.9h0" stroke="#a07078" stroke-width="1.0" stroke-linecap="round" fill="none"/>
<path d="M68.2 518.2h0M78.7 519.8h0M63.4 520.2h0M74.4 525.1h0M67.4 512.6h0M75.5 524.9h0M66.7 523.8h0M77.1 525.7h0M74.6 514.0h0M74.8 518.0h0M80.1 520.8h0M73.6 522.1h0M77.8 520.4h0M63.4 519.7h0M64.6 512.5h0M68.0 515.4h0" stroke="#c8a098" stroke-width="1.0" stroke-linecap="round" fill="none"/>
<path d="M68.4 503.0h0.7M69.0 503.6h0.7M69.9 503.0h0.5M71.0 502.1h0.6M72.0 501.9h0.2M73.1 502.1h0.6M74.4 502.2h0.7M75.8 502.3h0.2M76.9 501.6h0.6M78.2 502.2h0.4M78.6 502.1h0.7M80.0 502.0h0.3M81.2 503.6h0.1M81.9 503.6h0.0M84.0 505.4h0.4M84.5 504.9h0.5M85.2 506.2h0.8M87.1 508.7h0.2M88.5 509.8h0.3M90.1 511.7h0.1M90.8 512.1h0.2M92.6 513.1h0.1M92.1 514.7h0.5M93.3 515.9h0.2M92.9 516.3h0.2M93.2 517.0h0.1" stroke="#8c6c7c" stroke-width="2.3" stroke-linecap="round" fill="none" stroke-opacity="0.8"/>
<path d="M96.0 528.5h0.6M93.8 532.3h0.6" stroke="#b07880" stroke-width="1.8" stroke-linecap="round"/>
<circle cx="101.5" cy="529.2" r="2.5" fill="#c04a3a"/>
<path d="M79.0 512.9C79.9 514.2 80.5 516.0 80.5 517.7C80.6 519.3 80.1 521.3 79.2 522.8C78.4 524.4 77.0 526.0 75.4 527.0C73.9 528.1 72.0 528.9 70.2 529.1C68.5 529.4 66.5 529.2 64.9 528.6C63.4 528.0 61.9 526.8 61.0 525.5C60.1 524.2 59.5 522.5 59.5 520.8C59.4 519.2 59.9 517.2 60.8 515.7C61.6 514.1 63.0 512.5 64.6 511.5C66.1 510.4 68.0 509.6 69.8 509.3C71.5 509.1 73.5 509.3 75.1 509.9C76.6 510.5 78.1 511.6 79.0 512.9Z" stroke="#3a6e52" stroke-width="1.05" stroke-dasharray="0.35 1.75" stroke-linecap="round" fill="none" stroke-opacity="0.7"/>
<path d="M80.3 551.6C80.0 552.8 79.0 553.8 77.6 554.5C76.2 555.2 74.1 555.6 72.0 555.7C69.9 555.7 67.2 555.4 65.0 554.8C62.7 554.2 60.3 553.1 58.5 552.0C56.7 551.0 55.0 549.5 54.2 548.2C53.3 547.0 53.0 545.5 53.3 544.4C53.6 543.2 54.6 542.2 56.0 541.5C57.4 540.8 59.5 540.4 61.6 540.3C63.7 540.3 66.4 540.6 68.6 541.2C70.9 541.8 73.3 542.9 75.1 544.0C76.9 545.0 78.6 546.5 79.4 547.8C80.3 549.0 80.6 550.5 80.3 551.6Z" stroke="#262626" stroke-width="1.05" stroke-dasharray="0.35 1.75" stroke-linecap="round" fill="none" stroke-opacity="0.6"/>
<path d="M63.0 488.0L70.0 502.0M37.0 521.8L54.0 521.0" stroke="#3a6e52" stroke-width="1.05" stroke-dasharray="0.35 1.75" stroke-linecap="round" fill="none"/>
<path d="M40.0 548.0L58.0 549.0M56.0 574.0L76.0 556.0" stroke="#262626" stroke-width="1.05" stroke-dasharray="0.35 1.75" stroke-linecap="round" fill="none"/>
<clipPath id="du3"><path d="M49.5 472.5C52.3 472.5 54.9 472.9 57.0 474.0C59.1 475.1 60.9 477.0 62.0 479.0C63.1 481.0 63.5 483.5 63.5 486.0C63.5 488.5 62.9 491.3 62.0 494.0C61.1 496.7 59.7 499.2 58.0 502.0C56.3 504.8 54.3 508.3 52.0 511.0C49.7 513.7 46.7 516.2 44.0 518.0C41.3 519.8 39.3 521.1 36.0 521.8C32.7 522.5 27.7 522.2 24.0 522.0C20.3 521.8 16.2 522.0 14.0 520.5C11.8 519.0 10.9 515.6 10.5 513.0C10.1 510.4 10.6 508.0 11.5 505.0C12.4 502.0 14.2 498.0 16.0 495.0C17.8 492.0 19.7 489.7 22.0 487.0C24.3 484.3 27.0 481.2 30.0 479.0C33.0 476.8 36.8 475.1 40.0 474.0C43.2 472.9 46.7 472.5 49.5 472.5Z"/></clipPath><clipPath id="dl3"><path d="M59.3 570.9C58.8 572.4 57.7 573.7 56.1 574.8C54.6 575.8 52.4 576.6 50.0 577.0C47.6 577.5 44.6 577.6 41.6 577.5C38.6 577.3 35.2 576.8 32.0 576.0C28.7 575.3 25.3 574.1 22.2 572.9C19.2 571.6 16.1 570.0 13.6 568.4C11.0 566.7 8.7 564.9 7.0 563.1C5.3 561.3 4.1 559.4 3.4 557.6C2.8 555.9 2.7 554.1 3.1 552.7C3.6 551.2 4.7 549.9 6.3 548.8C7.8 547.8 10.0 547.0 12.4 546.6C14.8 546.1 17.8 546.0 20.8 546.1C23.8 546.3 27.2 546.8 30.4 547.6C33.7 548.3 37.1 549.5 40.2 550.7C43.2 552.0 46.3 553.6 48.8 555.2C51.4 556.9 53.7 558.7 55.4 560.5C57.1 562.3 58.3 564.2 59.0 566.0C59.6 567.7 59.7 569.5 59.3 570.9Z"/></clipPath>
<path d="M49.5 472.5C52.3 472.5 54.9 472.9 57.0 474.0C59.1 475.1 60.9 477.0 62.0 479.0C63.1 481.0 63.5 483.5 63.5 486.0C63.5 488.5 62.9 491.3 62.0 494.0C61.1 496.7 59.7 499.2 58.0 502.0C56.3 504.8 54.3 508.3 52.0 511.0C49.7 513.7 46.7 516.2 44.0 518.0C41.3 519.8 39.3 521.1 36.0 521.8C32.7 522.5 27.7 522.2 24.0 522.0C20.3 521.8 16.2 522.0 14.0 520.5C11.8 519.0 10.9 515.6 10.5 513.0C10.1 510.4 10.6 508.0 11.5 505.0C12.4 502.0 14.2 498.0 16.0 495.0C17.8 492.0 19.7 489.7 22.0 487.0C24.3 484.3 27.0 481.2 30.0 479.0C33.0 476.8 36.8 475.1 40.0 474.0C43.2 472.9 46.7 472.5 49.5 472.5Z" fill="#fff"/>
<path d="M33.0 482.0C33.8 480.0 37.5 480.2 40.0 480.0C42.5 479.8 45.3 480.3 48.0 481.0C50.7 481.7 54.5 482.2 56.0 484.0C57.5 485.8 57.5 489.0 57.0 492.0C56.5 495.0 54.7 499.0 53.0 502.0C51.3 505.0 49.2 507.8 47.0 510.0C44.8 512.2 42.0 514.7 40.0 515.0C38.0 515.3 35.7 514.2 35.0 512.0C34.3 509.8 36.0 505.3 36.0 502.0C36.0 498.7 35.5 495.3 35.0 492.0C34.5 488.7 32.2 484.0 33.0 482.0Z" fill="#f2b4a4" fill-opacity="0.85" clip-path="url(#du3)"/>
<path d="M33.0 482.0C33.8 480.0 37.5 480.2 40.0 480.0C42.5 479.8 45.3 480.3 48.0 481.0C50.7 481.7 54.5 482.2 56.0 484.0C57.5 485.8 57.5 489.0 57.0 492.0C56.5 495.0 54.7 499.0 53.0 502.0C51.3 505.0 49.2 507.8 47.0 510.0C44.8 512.2 42.0 514.7 40.0 515.0C38.0 515.3 35.7 514.2 35.0 512.0C34.3 509.8 36.0 505.3 36.0 502.0C36.0 498.7 35.5 495.3 35.0 492.0C34.5 488.7 32.2 484.0 33.0 482.0Z" fill="url(#hu)" clip-path="url(#du3)"/>
<path d="M12.0 515.0C12.7 513.3 17.0 512.8 20.0 512.0C23.0 511.2 26.7 510.0 30.0 510.0C33.3 510.0 37.3 511.3 40.0 512.0C42.7 512.7 46.3 512.7 46.0 514.0C45.7 515.3 41.0 518.7 38.0 520.0C35.0 521.3 31.7 521.7 28.0 522.0C24.3 522.3 18.7 523.2 16.0 522.0C13.3 520.8 11.3 516.7 12.0 515.0Z" fill="#c8c8e0" fill-opacity="0.8" clip-path="url(#du3)"/>
<path d="M12.0 515.0C12.7 513.3 17.0 512.8 20.0 512.0C23.0 511.2 26.7 510.0 30.0 510.0C33.3 510.0 37.3 511.3 40.0 512.0C42.7 512.7 46.3 512.7 46.0 514.0C45.7 515.3 41.0 518.7 38.0 520.0C35.0 521.3 31.7 521.7 28.0 522.0C24.3 522.3 18.7 523.2 16.0 522.0C13.3 520.8 11.3 516.7 12.0 515.0Z" fill="url(#hd)" clip-path="url(#du3)"/>
<path d="M49.5 472.5C52.3 472.5 54.9 472.9 57.0 474.0C59.1 475.1 60.9 477.0 62.0 479.0C63.1 481.0 63.5 483.5 63.5 486.0C63.5 488.5 62.9 491.3 62.0 494.0C61.1 496.7 59.7 499.2 58.0 502.0C56.3 504.8 54.3 508.3 52.0 511.0C49.7 513.7 46.7 516.2 44.0 518.0C41.3 519.8 39.3 521.1 36.0 521.8C32.7 522.5 27.7 522.2 24.0 522.0C20.3 521.8 16.2 522.0 14.0 520.5C11.8 519.0 10.9 515.6 10.5 513.0C10.1 510.4 10.6 508.0 11.5 505.0C12.4 502.0 14.2 498.0 16.0 495.0C17.8 492.0 19.7 489.7 22.0 487.0C24.3 484.3 27.0 481.2 30.0 479.0C33.0 476.8 36.8 475.1 40.0 474.0C43.2 472.9 46.7 472.5 49.5 472.5Z" stroke="#3a6e52" stroke-width="1.05" stroke-dasharray="0.35 1.75" stroke-linecap="round" fill="none"/>
<path d="M59.3 570.9C58.8 572.4 57.7 573.7 56.1 574.8C54.6 575.8 52.4 576.6 50.0 577.0C47.6 577.5 44.6 577.6 41.6 577.5C38.6 577.3 35.2 576.8 32.0 576.0C28.7 575.3 25.3 574.1 22.2 572.9C19.2 571.6 16.1 570.0 13.6 568.4C11.0 566.7 8.7 564.9 7.0 563.1C5.3 561.3 4.1 559.4 3.4 557.6C2.8 555.9 2.7 554.1 3.1 552.7C3.6 551.2 4.7 549.9 6.3 548.8C7.8 547.8 10.0 547.0 12.4 546.6C14.8 546.1 17.8 546.0 20.8 546.1C23.8 546.3 27.2 546.8 30.4 547.6C33.7 548.3 37.1 549.5 40.2 550.7C43.2 552.0 46.3 553.6 48.8 555.2C51.4 556.9 53.7 558.7 55.4 560.5C57.1 562.3 58.3 564.2 59.0 566.0C59.6 567.7 59.7 569.5 59.3 570.9Z" fill="#fff"/>
<path d="M59.3 570.9C58.8 572.4 57.7 573.7 56.1 574.8C54.6 575.8 52.4 576.6 50.0 577.0C47.6 577.5 44.6 577.6 41.6 577.5C38.6 577.3 35.2 576.8 32.0 576.0C28.7 575.3 25.3 574.1 22.2 572.9C19.2 571.6 16.1 570.0 13.6 568.4C11.0 566.7 8.7 564.9 7.0 563.1C5.3 561.3 4.1 559.4 3.4 557.6C2.8 555.9 2.7 554.1 3.1 552.7C3.6 551.2 4.7 549.9 6.3 548.8C7.8 547.8 10.0 547.0 12.4 546.6C14.8 546.1 17.8 546.0 20.8 546.1C23.8 546.3 27.2 546.8 30.4 547.6C33.7 548.3 37.1 549.5 40.2 550.7C43.2 552.0 46.3 553.6 48.8 555.2C51.4 556.9 53.7 558.7 55.4 560.5C57.1 562.3 58.3 564.2 59.0 566.0C59.6 567.7 59.7 569.5 59.3 570.9Z" fill="#9098c4" fill-opacity="0.85" clip-path="url(#dl3)"/>
<path d="M59.3 570.9C58.8 572.4 57.7 573.7 56.1 574.8C54.6 575.8 52.4 576.6 50.0 577.0C47.6 577.5 44.6 577.6 41.6 577.5C38.6 577.3 35.2 576.8 32.0 576.0C28.7 575.3 25.3 574.1 22.2 572.9C19.2 571.6 16.1 570.0 13.6 568.4C11.0 566.7 8.7 564.9 7.0 563.1C5.3 561.3 4.1 559.4 3.4 557.6C2.8 555.9 2.7 554.1 3.1 552.7C3.6 551.2 4.7 549.9 6.3 548.8C7.8 547.8 10.0 547.0 12.4 546.6C14.8 546.1 17.8 546.0 20.8 546.1C23.8 546.3 27.2 546.8 30.4 547.6C33.7 548.3 37.1 549.5 40.2 550.7C43.2 552.0 46.3 553.6 48.8 555.2C51.4 556.9 53.7 558.7 55.4 560.5C57.1 562.3 58.3 564.2 59.0 566.0C59.6 567.7 59.7 569.5 59.3 570.9Z" fill="url(#hl)" clip-path="url(#dl3)"/>
<path d="M30.0 568.0C31.7 565.8 39.7 562.8 44.0 562.0C48.3 561.2 53.7 561.3 56.0 563.0C58.3 564.7 59.7 569.8 58.0 572.0C56.3 574.2 50.0 575.5 46.0 576.0C42.0 576.5 36.7 576.3 34.0 575.0C31.3 573.7 28.3 570.2 30.0 568.0Z" fill="#f4f4fa" fill-opacity="0.9" clip-path="url(#dl3)"/>
<path d="M20.0 552.0C21.0 551.2 30.7 550.7 34.0 551.0C37.3 551.3 41.0 553.2 40.0 554.0C39.0 554.8 31.3 556.3 28.0 556.0C24.7 555.7 19.0 552.8 20.0 552.0Z" fill="#e0e4f4" fill-opacity="0.6" clip-path="url(#dl3)"/>
<path d="M59.3 570.9C58.8 572.4 57.7 573.7 56.1 574.8C54.6 575.8 52.4 576.6 50.0 577.0C47.6 577.5 44.6 577.6 41.6 577.5C38.6 577.3 35.2 576.8 32.0 576.0C28.7 575.3 25.3 574.1 22.2 572.9C19.2 571.6 16.1 570.0 13.6 568.4C11.0 566.7 8.7 564.9 7.0 563.1C5.3 561.3 4.1 559.4 3.4 557.6C2.8 555.9 2.7 554.1 3.1 552.7C3.6 551.2 4.7 549.9 6.3 548.8C7.8 547.8 10.0 547.0 12.4 546.6C14.8 546.1 17.8 546.0 20.8 546.1C23.8 546.3 27.2 546.8 30.4 547.6C33.7 548.3 37.1 549.5 40.2 550.7C43.2 552.0 46.3 553.6 48.8 555.2C51.4 556.9 53.7 558.7 55.4 560.5C57.1 562.3 58.3 564.2 59.0 566.0C59.6 567.7 59.7 569.5 59.3 570.9Z" stroke="#262626" stroke-width="1.05" stroke-dasharray="0.35 1.75" stroke-linecap="round" fill="none"/>
<rect x="122.0" y="461.3" width="73" height="5.8" fill="#c4c4c4"/>
<text x="162.5" y="467.2" text-anchor="middle" style="font-size:7.5px;">Vec+Ana</text>
<g filter="url(#ub)">
<path d="M180.0 510.0C178.2 510.2 176.0 511.0 174.0 512.0C172.0 513.0 169.7 514.3 168.0 516.0C166.3 517.7 164.9 519.7 164.0 522.0C163.1 524.3 162.6 527.3 162.3 530.0C162.1 532.7 162.2 535.5 162.5 538.0C162.8 540.5 162.9 542.8 164.0 545.0C165.1 547.2 167.0 549.4 169.0 551.0C171.0 552.6 173.5 554.0 176.0 554.6C178.5 555.2 181.5 555.2 184.0 554.6C186.5 554.0 189.1 552.6 191.0 551.0C192.9 549.4 194.4 547.3 195.5 545.0C196.6 542.7 197.4 539.7 197.7 537.0C197.9 534.3 197.6 531.8 197.0 529.0C196.4 526.2 195.2 522.5 194.0 520.0C192.8 517.5 191.5 515.6 190.0 514.0C188.5 512.4 186.7 511.2 185.0 510.5C183.3 509.8 181.8 509.8 180.0 510.0Z" fill="#8484ac" fill-opacity="0.92"/>
<path d="M185.0 527.0C187.0 524.8 193.9 523.3 196.0 525.0C198.1 526.7 197.8 533.7 197.7 537.0C197.6 540.3 196.6 542.7 195.5 545.0C194.4 547.3 192.6 550.5 191.0 551.0C189.4 551.5 187.2 550.2 186.0 548.0C184.8 545.8 184.2 541.5 184.0 538.0C183.8 534.5 183.0 529.2 185.0 527.0Z" fill="#96a0c8" fill-opacity="0.6"/>
<path d="M180.0 510.0C178.3 510.2 176.1 510.7 175.0 512.0C173.9 513.3 173.1 516.0 173.6 518.0C174.1 520.0 175.9 522.8 178.0 524.0C180.1 525.2 183.5 525.4 186.0 525.4C188.5 525.4 191.7 524.9 193.0 524.0C194.3 523.1 194.5 521.7 194.0 520.0C193.5 518.3 191.5 515.6 190.0 514.0C188.5 512.4 186.7 511.2 185.0 510.5C183.3 509.8 181.7 509.8 180.0 510.0Z" fill="#b8949a" fill-opacity="0.85"/>
<path d="M196.0 522.0C196.6 521.0 198.8 522.0 199.5 523.0C200.2 524.0 200.8 526.7 200.5 528.0C200.2 529.3 198.8 530.8 198.0 531.0C197.2 531.2 196.3 530.5 196.0 529.0C195.7 527.5 195.4 523.0 196.0 522.0Z" fill="#cbc3da"/>
</g>
<path d="M185.2 542.8h0M184.6 531.8h0M187.8 549.5h0M193.1 521.7h0M174.3 533.6h0M191.5 543.1h0M187.7 526.9h0M168.5 527.7h0M182.5 546.1h0M185.4 544.9h0M193.2 540.8h0M193.8 538.7h0M187.1 537.7h0M183.3 551.4h0M167.5 533.1h0M185.4 533.2h0M190.4 551.2h0M164.4 538.8h0M171.7 518.6h0M191.1 537.3h0M190.6 543.8h0M193.0 535.7h0M168.6 521.8h0M168.9 535.2h0M169.2 528.6h0M179.1 547.3h0M195.8 529.2h0M166.8 545.1h0M183.8 526.4h0M165.2 524.7h0M186.1 553.3h0M171.7 552.4h0M180.5 531.5h0M181.2 521.9h0M186.0 529.9h0M163.6 539.4h0M188.5 544.4h0M180.9 519.2h0M177.6 546.5h0M172.7 538.0h0M174.1 517.6h0M173.4 550.2h0M192.0 536.6h0M173.0 536.7h0M195.9 530.7h0M184.7 536.4h0M189.4 527.5h0M174.4 544.9h0M172.8 543.2h0M170.5 533.4h0M163.5 541.3h0M183.5 542.5h0M167.0 548.5h0M180.0 546.6h0M193.5 541.9h0M167.9 517.0h0M174.8 534.6h0" stroke="#58587c" stroke-width="1.1" stroke-linecap="round" fill="none"/>
<path d="M182.3 526.5h0M181.3 514.2h0M164.5 537.2h0M192.0 529.6h0M170.4 517.7h0M195.6 543.9h0M173.5 522.4h0M165.8 545.6h0M191.5 548.2h0M183.2 547.3h0M183.6 518.0h0M185.8 540.3h0M164.3 541.0h0M186.7 536.7h0M184.3 548.1h0M182.7 529.0h0M194.9 537.0h0M184.7 516.8h0M172.3 513.5h0M196.0 530.0h0M188.5 525.2h0M185.7 550.1h0M183.6 515.0h0M175.6 529.7h0M172.5 539.0h0M185.4 536.1h0M170.1 518.8h0M168.2 542.8h0M171.6 548.1h0M189.5 548.5h0M180.9 521.7h0M185.7 540.7h0M190.4 525.2h0M169.5 551.2h0M190.2 523.8h0M176.8 531.4h0M185.1 553.5h0M188.6 544.9h0M179.9 516.0h0M166.4 529.8h0M182.7 515.5h0M174.2 517.0h0M163.7 542.8h0M190.6 540.3h0M169.4 518.8h0M195.7 543.5h0M191.3 521.1h0M182.9 552.5h0M182.8 510.8h0M174.4 546.5h0M194.2 540.1h0M164.6 539.8h0M165.4 533.8h0M175.0 541.3h0M178.5 549.8h0M166.8 527.7h0M177.9 525.7h0M178.1 540.4h0M192.2 538.1h0M181.5 547.2h0M184.4 526.3h0M186.9 538.8h0M177.9 547.4h0M175.9 519.0h0M180.7 552.0h0" stroke="#a8a8c8" stroke-width="1.1" stroke-linecap="round" fill="none"/>
<path d="M164.8 545.0h0M175.0 534.7h0M187.9 526.3h0M177.2 530.5h0M191.9 522.2h0M176.6 517.4h0M162.6 534.0h0M174.0 517.4h0M166.9 547.2h0M186.9 521.2h0M184.4 553.8h0M172.2 539.8h0M178.4 553.5h0M185.7 541.5h0M169.6 537.2h0M192.5 534.6h0M165.9 519.4h0M166.2 537.2h0M188.4 520.4h0M169.7 551.0h0M190.2 531.9h0M187.4 537.7h0M196.1 531.4h0M169.2 518.0h0M173.6 517.1h0M176.6 512.6h0M191.6 522.0h0M171.4 535.9h0M179.0 552.1h0M176.2 529.5h0M168.2 550.0h0M183.1 525.9h0M162.9 532.8h0M180.5 512.0h0M169.2 517.3h0M180.2 533.8h0M172.0 540.0h0M163.4 530.2h0M182.8 554.6h0M183.0 545.8h0M180.9 519.0h0M174.2 524.0h0M178.7 542.5h0M187.1 541.3h0M177.6 517.5h0M187.2 520.9h0M166.8 541.4h0M172.3 519.5h0" stroke="#7a7aa0" stroke-width="1.1" stroke-linecap="round" fill="none"/>
<path d="M171.9 528.1h0M192.8 529.1h0M176.2 525.0h0M162.8 535.7h0M176.2 554.0h0M195.6 527.1h0M185.4 513.0h0M173.2 551.9h0M169.3 535.0h0M183.6 511.5h0M194.5 539.5h0M176.4 552.9h0M195.3 537.9h0M168.3 535.1h0M180.3 539.7h0M170.2 535.1h0M188.0 542.9h0M176.7 513.7h0M176.8 533.9h0M191.8 520.3h0M176.4 519.5h0M174.2 531.2h0M188.5 536.7h0M191.1 532.5h0M188.9 520.0h0M178.2 515.5h0M181.1 544.8h0M181.7 547.6h0M179.9 538.1h0M172.0 535.9h0M174.7 526.7h0M186.6 517.7h0M175.3 518.4h0M188.5 513.8h0M188.2 546.0h0M176.0 511.4h0M192.6 519.4h0M177.4 551.3h0M164.9 528.9h0M181.0 544.7h0M176.3 513.8h0M186.8 516.9h0M183.8 519.8h0M184.8 517.9h0M166.8 540.3h0M197.3 537.8h0M188.9 522.6h0M180.4 528.8h0M177.5 548.0h0" stroke="#9a9ac0" stroke-width="1.1" stroke-linecap="round" fill="none"/>
<path d="M179.7 538.1h0M192.5 522.2h0M166.0 540.3h0M190.1 542.4h0M195.8 540.9h0M189.7 546.1h0M182.5 520.4h0M184.0 518.5h0M177.8 535.6h0M176.8 514.1h0M189.0 548.4h0M173.1 518.2h0M181.8 553.7h0M181.0 538.3h0M164.8 524.3h0M181.0 523.2h0M189.5 524.2h0M171.3 522.6h0M188.3 524.3h0M171.3 532.6h0M185.2 542.3h0M171.7 516.9h0M163.2 539.5h0M169.3 532.5h0M176.5 518.9h0M173.6 549.6h0M174.4 546.9h0M172.8 521.4h0M167.6 527.6h0M169.1 532.5h0M165.6 541.2h0M188.5 536.3h0M170.2 549.8h0M178.1 522.4h0M177.5 551.0h0M183.9 519.0h0M178.2 549.2h0M190.8 535.2h0M170.3 526.3h0M193.7 544.3h0M169.8 527.8h0M170.3 534.9h0M182.0 540.6h0M192.0 531.2h0M175.1 513.0h0M185.3 511.9h0M195.4 530.9h0M187.3 531.8h0" stroke="#6a6a90" stroke-width="1.1" stroke-linecap="round" fill="none"/>
<path d="M182.1 553.2h0M187.6 531.5h0M165.2 534.1h0M178.4 534.6h0M179.6 524.0h0M186.1 528.3h0M174.6 547.8h0M175.4 552.1h0M178.6 546.4h0M177.5 553.8h0M194.8 529.2h0M194.1 536.4h0M180.0 525.5h0M178.8 548.0h0M195.2 544.2h0M185.7 528.4h0M168.1 519.5h0M171.0 546.1h0M177.7 546.2h0M180.7 521.3h0M184.8 527.5h0M191.3 545.1h0M169.3 542.3h0M181.0 549.7h0M168.6 544.3h0M162.8 533.2h0M164.7 536.4h0M171.7 524.2h0M190.8 531.7h0M189.2 545.7h0M185.5 519.8h0M181.2 550.2h0M168.3 535.9h0M174.0 517.5h0M174.1 537.7h0M175.1 520.9h0M176.5 517.9h0M194.8 539.3h0M195.1 542.1h0M173.9 517.2h0M179.6 534.3h0M171.4 521.1h0M171.9 532.1h0M163.1 536.1h0M184.1 532.3h0M163.8 535.4h0M174.5 539.2h0M171.2 519.4h0M185.1 524.8h0M184.7 538.5h0M167.6 522.8h0M192.1 517.4h0M184.4 546.0h0" stroke="#8080a8" stroke-width="1.1" stroke-linecap="round" fill="none"/>
<path d="M186.8 521.8h0M193.3 520.1h0M186.0 521.5h0M177.0 511.7h0M181.8 511.5h0M186.5 513.0h0M188.8 513.7h0M184.7 514.9h0M183.7 516.4h0M175.1 517.0h0M182.5 522.3h0M191.0 521.7h0M190.2 520.7h0M182.2 514.7h0M187.9 520.3h0M178.3 522.7h0M175.7 519.6h0M185.4 516.9h0" stroke="#8a7088" stroke-width="1.0" stroke-linecap="round" fill="none"/>
<path d="M186.0 516.4h0M175.6 512.9h0M190.0 515.2h0M179.1 521.9h0M178.3 515.1h0M184.0 514.7h0M185.3 516.8h0M185.2 521.6h0M186.6 513.1h0M181.8 515.6h0M187.1 516.2h0M180.0 521.9h0M189.8 524.0h0M187.7 520.4h0M185.9 520.9h0M182.3 511.8h0M184.7 522.4h0" stroke="#c8a098" stroke-width="1.0" stroke-linecap="round" fill="none"/>
<path d="M180.6 513.8h0M176.9 518.4h0M186.4 518.4h0M190.8 523.1h0M190.2 517.3h0M178.4 521.2h0M175.3 519.6h0M186.2 518.8h0M191.9 517.7h0M183.1 524.1h0M177.1 514.8h0M187.3 524.0h0M186.7 520.8h0M180.3 523.5h0M185.2 517.0h0M179.2 520.7h0M191.7 518.6h0" stroke="#d0a8a0" stroke-width="1.0" stroke-linecap="round" fill="none"/>
<path d="M191.6 517.0h0M174.2 516.9h0M181.8 517.2h0M178.1 511.7h0M187.9 522.2h0M182.5 510.4h0M187.5 522.0h0M178.9 512.3h0M192.0 520.6h0M176.0 516.0h0M176.1 514.4h0M190.9 522.6h0M187.9 518.1h0M184.3 523.0h0M176.1 518.2h0M190.5 517.0h0M180.8 522.5h0M190.5 522.7h0" stroke="#a07078" stroke-width="1.0" stroke-linecap="round" fill="none"/>
<path d="M178.8 505.8h0.7M180.5 504.6h0.5M180.9 504.4h0.7M182.1 503.2h0.3M183.1 502.9h0.5M185.8 502.4h0.2M187.1 502.9h0.6M188.3 502.3h0.5M189.3 503.0h0.3M191.0 503.5h0.3M192.6 503.8h0.5M194.2 503.8h0.1M196.5 505.2h0.7M197.8 505.8h0.4M198.2 506.7h0.7M201.5 509.1h0.0M201.8 510.2h0.5M202.5 511.6h0.3M203.6 512.1h0.2M206.5 514.9h0.7" stroke="#8c6c7c" stroke-width="2.3" stroke-linecap="round" fill="none" stroke-opacity="0.8"/>
<path d="M216.0 528.5h0.6M214.0 529.5h0.6M209.0 531.5h0.6" stroke="#b07880" stroke-width="1.8" stroke-linecap="round"/>
<path d="M191.4 512.2C192.3 513.5 192.8 515.3 192.9 517.0C192.9 518.6 192.4 520.6 191.6 522.1C190.7 523.7 189.3 525.3 187.8 526.3C186.3 527.4 184.3 528.2 182.6 528.4C180.8 528.7 178.8 528.5 177.3 527.9C175.7 527.3 174.2 526.2 173.3 524.9C172.4 523.6 171.9 521.8 171.8 520.1C171.8 518.5 172.3 516.5 173.1 515.0C174.0 513.4 175.4 511.8 176.9 510.8C178.4 509.7 180.4 508.9 182.1 508.7C183.9 508.4 185.9 508.6 187.4 509.2C189.0 509.8 190.4 510.9 191.4 512.2Z" stroke="#3a6e52" stroke-width="1.05" stroke-dasharray="0.35 1.75" stroke-linecap="round" fill="none" stroke-opacity="0.7"/>
<path d="M194.5 551.2C194.2 552.4 193.2 553.4 191.8 554.1C190.4 554.8 188.3 555.2 186.2 555.3C184.1 555.3 181.4 555.0 179.2 554.4C176.9 553.8 174.5 552.7 172.7 551.6C170.9 550.6 169.2 549.1 168.4 547.8C167.5 546.6 167.2 545.1 167.5 544.0C167.8 542.8 168.8 541.8 170.2 541.1C171.6 540.4 173.7 540.0 175.8 539.9C177.9 539.9 180.6 540.2 182.8 540.8C185.1 541.4 187.5 542.5 189.3 543.6C191.1 544.6 192.8 546.1 193.6 547.4C194.5 548.6 194.8 550.1 194.5 551.2Z" stroke="#262626" stroke-width="1.05" stroke-dasharray="0.35 1.75" stroke-linecap="round" fill="none" stroke-opacity="0.6"/>
<path d="M176.0 490.0L183.0 503.0M149.0 521.5L167.0 521.0" stroke="#3a6e52" stroke-width="1.05" stroke-dasharray="0.35 1.75" stroke-linecap="round" fill="none"/>
<path d="M152.0 547.5L172.0 548.0M170.0 573.0L191.0 555.0" stroke="#262626" stroke-width="1.05" stroke-dasharray="0.35 1.75" stroke-linecap="round" fill="none"/>
<clipPath id="du4"><path d="M161.7 472.3C164.5 472.3 167.1 472.7 169.2 473.8C171.3 474.9 173.1 476.8 174.2 478.8C175.3 480.8 175.7 483.3 175.7 485.8C175.7 488.3 175.1 491.1 174.2 493.8C173.3 496.5 171.9 499.0 170.2 501.8C168.5 504.6 166.5 508.1 164.2 510.8C161.9 513.5 158.9 516.0 156.2 517.8C153.5 519.6 151.5 520.9 148.2 521.6C144.9 522.3 139.9 522.0 136.2 521.8C132.5 521.6 128.4 521.8 126.2 520.3C124.0 518.8 123.1 515.4 122.7 512.8C122.3 510.2 122.8 507.8 123.7 504.8C124.6 501.8 126.4 497.8 128.2 494.8C129.9 491.8 131.9 489.5 134.2 486.8C136.5 484.1 139.2 481.0 142.2 478.8C145.2 476.6 148.9 474.9 152.2 473.8C155.4 472.7 158.9 472.3 161.7 472.3Z"/></clipPath><clipPath id="dl4"><path d="M171.0 570.5C170.6 571.9 169.5 573.3 167.9 574.3C166.3 575.3 164.1 576.1 161.7 576.5C159.2 576.9 156.2 577.1 153.2 576.9C150.1 576.7 146.7 576.1 143.4 575.4C140.1 574.6 136.6 573.4 133.5 572.1C130.3 570.8 127.2 569.2 124.6 567.6C122.1 566.0 119.7 564.1 118.0 562.3C116.3 560.5 114.9 558.6 114.3 556.8C113.6 555.1 113.5 553.4 114.0 551.9C114.4 550.5 115.5 549.1 117.1 548.1C118.7 547.1 120.9 546.3 123.3 545.9C125.8 545.5 128.8 545.3 131.8 545.5C134.9 545.7 138.3 546.3 141.6 547.0C144.9 547.8 148.4 549.0 151.5 550.3C154.7 551.6 157.8 553.2 160.4 554.8C162.9 556.4 165.3 558.3 167.0 560.1C168.7 561.9 170.1 563.8 170.7 565.6C171.4 567.3 171.5 569.0 171.0 570.5Z"/></clipPath>
<path d="M161.7 472.3C164.5 472.3 167.1 472.7 169.2 473.8C171.3 474.9 173.1 476.8 174.2 478.8C175.3 480.8 175.7 483.3 175.7 485.8C175.7 488.3 175.1 491.1 174.2 493.8C173.3 496.5 171.9 499.0 170.2 501.8C168.5 504.6 166.5 508.1 164.2 510.8C161.9 513.5 158.9 516.0 156.2 517.8C153.5 519.6 151.5 520.9 148.2 521.6C144.9 522.3 139.9 522.0 136.2 521.8C132.5 521.6 128.4 521.8 126.2 520.3C124.0 518.8 123.1 515.4 122.7 512.8C122.3 510.2 122.8 507.8 123.7 504.8C124.6 501.8 126.4 497.8 128.2 494.8C129.9 491.8 131.9 489.5 134.2 486.8C136.5 484.1 139.2 481.0 142.2 478.8C145.2 476.6 148.9 474.9 152.2 473.8C155.4 472.7 158.9 472.3 161.7 472.3Z" fill="#fff"/>
<path d="M156.0 476.0C157.7 474.3 160.7 473.7 163.0 474.0C165.3 474.3 168.3 476.0 170.0 478.0C171.7 480.0 172.7 483.0 173.0 486.0C173.3 489.0 173.2 493.0 172.0 496.0C170.8 499.0 168.0 502.0 166.0 504.0C164.0 506.0 162.2 507.8 160.0 508.0C157.8 508.2 154.3 507.2 153.0 505.0C151.7 502.8 152.0 498.5 152.0 495.0C152.0 491.5 152.3 487.2 153.0 484.0C153.7 480.8 154.3 477.7 156.0 476.0Z" fill="#f2b0a0" fill-opacity="0.85" clip-path="url(#du4)"/>
<path d="M156.0 476.0C157.7 474.3 160.7 473.7 163.0 474.0C165.3 474.3 168.3 476.0 170.0 478.0C171.7 480.0 172.7 483.0 173.0 486.0C173.3 489.0 173.2 493.0 172.0 496.0C170.8 499.0 168.0 502.0 166.0 504.0C164.0 506.0 162.2 507.8 160.0 508.0C157.8 508.2 154.3 507.2 153.0 505.0C151.7 502.8 152.0 498.5 152.0 495.0C152.0 491.5 152.3 487.2 153.0 484.0C153.7 480.8 154.3 477.7 156.0 476.0Z" fill="url(#hu)" clip-path="url(#du4)"/>
<path d="M132.0 500.0C134.3 498.0 138.7 497.7 142.0 498.0C145.3 498.3 149.7 500.3 152.0 502.0C154.3 503.7 156.7 505.8 156.0 508.0C155.3 510.2 151.0 513.2 148.0 515.0C145.0 516.8 141.3 518.3 138.0 519.0C134.7 519.7 129.7 520.5 128.0 519.0C126.3 517.5 127.3 513.2 128.0 510.0C128.7 506.8 129.7 502.0 132.0 500.0Z" fill="#c0c2e0" fill-opacity="0.8" clip-path="url(#du4)"/>
<path d="M132.0 500.0C134.3 498.0 138.7 497.7 142.0 498.0C145.3 498.3 149.7 500.3 152.0 502.0C154.3 503.7 156.7 505.8 156.0 508.0C155.3 510.2 151.0 513.2 148.0 515.0C145.0 516.8 141.3 518.3 138.0 519.0C134.7 519.7 129.7 520.5 128.0 519.0C126.3 517.5 127.3 513.2 128.0 510.0C128.7 506.8 129.7 502.0 132.0 500.0Z" fill="url(#hd)" clip-path="url(#du4)"/>
<path d="M161.7 472.3C164.5 472.3 167.1 472.7 169.2 473.8C171.3 474.9 173.1 476.8 174.2 478.8C175.3 480.8 175.7 483.3 175.7 485.8C175.7 488.3 175.1 491.1 174.2 493.8C173.3 496.5 171.9 499.0 170.2 501.8C168.5 504.6 166.5 508.1 164.2 510.8C161.9 513.5 158.9 516.0 156.2 517.8C153.5 519.6 151.5 520.9 148.2 521.6C144.9 522.3 139.9 522.0 136.2 521.8C132.5 521.6 128.4 521.8 126.2 520.3C124.0 518.8 123.1 515.4 122.7 512.8C122.3 510.2 122.8 507.8 123.7 504.8C124.6 501.8 126.4 497.8 128.2 494.8C129.9 491.8 131.9 489.5 134.2 486.8C136.5 484.1 139.2 481.0 142.2 478.8C145.2 476.6 148.9 474.9 152.2 473.8C155.4 472.7 158.9 472.3 161.7 472.3Z" stroke="#3a6e52" stroke-width="1.05" stroke-dasharray="0.35 1.75" stroke-linecap="round" fill="none"/>
<path d="M171.0 570.5C170.6 571.9 169.5 573.3 167.9 574.3C166.3 575.3 164.1 576.1 161.7 576.5C159.2 576.9 156.2 577.1 153.2 576.9C150.1 576.7 146.7 576.1 143.4 575.4C140.1 574.6 136.6 573.4 133.5 572.1C130.3 570.8 127.2 569.2 124.6 567.6C122.1 566.0 119.7 564.1 118.0 562.3C116.3 560.5 114.9 558.6 114.3 556.8C113.6 555.1 113.5 553.4 114.0 551.9C114.4 550.5 115.5 549.1 117.1 548.1C118.7 547.1 120.9 546.3 123.3 545.9C125.8 545.5 128.8 545.3 131.8 545.5C134.9 545.7 138.3 546.3 141.6 547.0C144.9 547.8 148.4 549.0 151.5 550.3C154.7 551.6 157.8 553.2 160.4 554.8C162.9 556.4 165.3 558.3 167.0 560.1C168.7 561.9 170.1 563.8 170.7 565.6C171.4 567.3 171.5 569.0 171.0 570.5Z" fill="#fff"/>
<path d="M124.0 549.0C126.3 547.5 131.7 546.8 136.0 547.0C140.3 547.2 146.0 548.5 150.0 550.0C154.0 551.5 157.0 553.7 160.0 556.0C163.0 558.3 166.3 561.3 168.0 564.0C169.7 566.7 171.3 570.7 170.0 572.0C168.7 573.3 164.0 573.0 160.0 572.0C156.0 571.0 150.7 568.0 146.0 566.0C141.3 564.0 136.0 561.7 132.0 560.0C128.0 558.3 123.3 557.8 122.0 556.0C120.7 554.2 121.7 550.5 124.0 549.0Z" fill="#7a88c4" fill-opacity="0.85" clip-path="url(#dl4)"/>
<path d="M124.0 549.0C126.3 547.5 131.7 546.8 136.0 547.0C140.3 547.2 146.0 548.5 150.0 550.0C154.0 551.5 157.0 553.7 160.0 556.0C163.0 558.3 166.3 561.3 168.0 564.0C169.7 566.7 171.3 570.7 170.0 572.0C168.7 573.3 164.0 573.0 160.0 572.0C156.0 571.0 150.7 568.0 146.0 566.0C141.3 564.0 136.0 561.7 132.0 560.0C128.0 558.3 123.3 557.8 122.0 556.0C120.7 554.2 121.7 550.5 124.0 549.0Z" fill="url(#hl)" clip-path="url(#dl4)"/>
<path d="M171.0 570.5C170.6 571.9 169.5 573.3 167.9 574.3C166.3 575.3 164.1 576.1 161.7 576.5C159.2 576.9 156.2 577.1 153.2 576.9C150.1 576.7 146.7 576.1 143.4 575.4C140.1 574.6 136.6 573.4 133.5 572.1C130.3 570.8 127.2 569.2 124.6 567.6C122.1 566.0 119.7 564.1 118.0 562.3C116.3 560.5 114.9 558.6 114.3 556.8C113.6 555.1 113.5 553.4 114.0 551.9C114.4 550.5 115.5 549.1 117.1 548.1C118.7 547.1 120.9 546.3 123.3 545.9C125.8 545.5 128.8 545.3 131.8 545.5C134.9 545.7 138.3 546.3 141.6 547.0C144.9 547.8 148.4 549.0 151.5 550.3C154.7 551.6 157.8 553.2 160.4 554.8C162.9 556.4 165.3 558.3 167.0 560.1C168.7 561.9 170.1 563.8 170.7 565.6C171.4 567.3 171.5 569.0 171.0 570.5Z" stroke="#262626" stroke-width="1.05" stroke-dasharray="0.35 1.75" stroke-linecap="round" fill="none"/>
<circle cx="3.6" cy="591.0" r="3.2" fill="#8484b4"/>
<text x="8.5" y="593.7">CXCL2<tspan style="font-size:4.6px" dy="-2.9">+</tspan><tspan dy="2.9"> neutrophils</tspan></text>
<circle cx="84.0" cy="591.0" r="3.2" fill="#8ca0d4"/>
<text x="88.9" y="593.7">CXCR4<tspan style="font-size:4.6px" dy="-2.9">+</tspan><tspan dy="2.9"> neutrophils</tspan></text>
<circle cx="170.0" cy="591.0" r="3.2" fill="#f0a894"/>
<text x="174.9" y="593.7">LSP1<tspan style="font-size:4.6px" dy="-2.9">+</tspan><tspan dy="2.9"> neutrophils</tspan></text>
<circle cx="3.6" cy="607.0" r="3.2" fill="#b8a8d4"/>
<text x="8.5" y="609.7">APOE<tspan style="font-size:4.6px" dy="-2.9">+</tspan><tspan dy="2.9"> neutrophils</tspan></text>
<circle cx="84.0" cy="607.0" r="3.2" fill="#dc6650"/>
<text x="88.9" y="609.7">TAGLN2<tspan style="font-size:4.6px" dy="-2.9">+</tspan><tspan dy="2.9"> neutrophils</tspan></text>
<circle cx="170.0" cy="607.0" r="3.2" fill="#dc8498"/>
<text x="174.9" y="609.7">NGP<tspan style="font-size:4.6px" dy="-2.9">+</tspan><tspan dy="2.9"> neutrophils</tspan></text>
<circle cx="107.6" cy="19.9" r="3.5" fill="#8484b4"/>
<text x="114.2" y="22.65">CXCL2<tspan style="font-size:4.6px" dy="-2.9">+</tspan><tspan dy="2.9"> neutrophils</tspan></text>
<circle cx="107.6" cy="37.6" r="3.5" fill="#8ca0d4"/>
<text x="114.2" y="40.35">CXCR4<tspan style="font-size:4.6px" dy="-2.9">+</tspan><tspan dy="2.9"> neutrophils</tspan></text>
<circle cx="107.6" cy="54.4" r="3.5" fill="#f0a894"/>
<text x="114.2" y="57.15">LSP1<tspan style="font-size:4.6px" dy="-2.9">+</tspan><tspan dy="2.9"> neutrophils</tspan></text>
<circle cx="107.6" cy="71.1" r="3.5" fill="#b8a8d4"/>
<text x="114.2" y="73.85">APOE<tspan style="font-size:4.6px" dy="-2.9">+</tspan><tspan dy="2.9"> neutrophils</tspan></text>
<circle cx="107.6" cy="88.0" r="3.5" fill="#dc6650"/>
<text x="114.2" y="90.75">TAGLN2<tspan style="font-size:4.6px" dy="-2.9">+</tspan><tspan dy="2.9"> neutrophils</tspan></text>
<circle cx="107.6" cy="105.0" r="3.5" fill="#dc8498"/>
<text x="114.2" y="107.75">NGP<tspan style="font-size:4.6px" dy="-2.9">+</tspan><tspan dy="2.9"> neutrophils</tspan></text>
<circle cx="36.9" cy="161.3" r="3.5" fill="#8484b4"/>
<text x="44.6" y="164.05">CXCL2<tspan style="font-size:4.6px" dy="-2.9">+</tspan><tspan dy="2.9"> neutrophils</tspan></text>
<circle cx="36.9" cy="176.0" r="3.5" fill="#8ca0d4"/>
<text x="44.6" y="178.75">CXCR4<tspan style="font-size:4.6px" dy="-2.9">+</tspan><tspan dy="2.9"> neutrophils</tspan></text>
<circle cx="36.9" cy="190.7" r="3.5" fill="#f0a894"/>
<text x="44.6" y="193.45">LSP1<tspan style="font-size:4.6px" dy="-2.9">+</tspan><tspan dy="2.9"> neutrophils</tspan></text>
<circle cx="121.7" cy="161.3" r="3.5" fill="#b8a8d4"/>
<text x="128.5" y="164.05">APOE<tspan style="font-size:4.6px" dy="-2.9">+</tspan><tspan dy="2.9"> neutrophils</tspan></text>
<circle cx="121.7" cy="176.0" r="3.5" fill="#dc6650"/>
<text x="128.5" y="178.75">TAGLN2<tspan style="font-size:4.6px" dy="-2.9">+</tspan><tspan dy="2.9"> neutrophils</tspan></text>
<circle cx="121.7" cy="190.7" r="3.5" fill="#dc8498"/>
<text x="128.5" y="193.45">NGP<tspan style="font-size:4.6px" dy="-2.9">+</tspan><tspan dy="2.9"> neutrophils</tspan></text>
<rect x="48.00" y="204.6" width="5.89" height="16.2" fill="#d8788a"/>
<rect x="53.59" y="204.6" width="4.21" height="16.2" fill="#a89ccb"/>
<rect x="57.50" y="204.6" width="29.64" height="16.2" fill="#eba08c"/>
<rect x="86.84" y="204.6" width="61.49" height="16.2" fill="#8497c4"/>
<rect x="148.03" y="204.6" width="39.97" height="16.2" fill="#7f7fa8"/>
<line x1="44.2" y1="212.79999999999998" x2="47.7" y2="212.79999999999998" stroke="#222" stroke-width="0.8"/>
<text x="42.6" y="215.49999999999997" text-anchor="end">Vec</text>
<rect x="48.00" y="224.7" width="3.37" height="16.2" fill="#d6583e"/>
<rect x="51.07" y="224.7" width="2.54" height="16.2" fill="#d8788a"/>
<rect x="53.31" y="224.7" width="10.92" height="16.2" fill="#a89ccb"/>
<rect x="63.93" y="224.7" width="16.78" height="16.2" fill="#eba08c"/>
<rect x="80.41" y="224.7" width="23.77" height="16.2" fill="#8497c4"/>
<rect x="103.88" y="224.7" width="84.12" height="16.2" fill="#7f7fa8"/>
<line x1="44.2" y1="232.89999999999998" x2="47.7" y2="232.89999999999998" stroke="#222" stroke-width="0.8"/>
<text x="42.6" y="235.59999999999997" text-anchor="end">201</text>
<rect x="48.00" y="244.8" width="8.12" height="16.2" fill="#d6583e"/>
<rect x="55.82" y="244.8" width="12.87" height="16.2" fill="#a89ccb"/>
<rect x="68.40" y="244.8" width="19.86" height="16.2" fill="#eba08c"/>
<rect x="87.95" y="244.8" width="19.58" height="16.2" fill="#8497c4"/>
<rect x="107.23" y="244.8" width="80.77" height="16.2" fill="#7f7fa8"/>
<line x1="44.2" y1="253.0" x2="47.7" y2="253.0" stroke="#222" stroke-width="0.8"/>
<text x="42.6" y="255.7" text-anchor="end">203</text>
<rect x="48.00" y="265.0" width="2.54" height="16.2" fill="#d6583e"/>
<rect x="50.24" y="265.0" width="1.42" height="16.2" fill="#d8788a"/>
<rect x="51.35" y="265.0" width="10.08" height="16.2" fill="#a89ccb"/>
<rect x="61.13" y="265.0" width="19.58" height="16.2" fill="#eba08c"/>
<rect x="80.41" y="265.0" width="35.78" height="16.2" fill="#8497c4"/>
<rect x="115.89" y="265.0" width="72.11" height="16.2" fill="#7f7fa8"/>
<line x1="44.2" y1="273.2" x2="47.7" y2="273.2" stroke="#222" stroke-width="0.8"/>
<text x="42.6" y="275.9" text-anchor="end">Vec + Ana</text>
<line x1="47.6" y1="200.6" x2="47.6" y2="284.6" stroke="#222" stroke-width="0.9"/>
<line x1="47.2" y1="284.3" x2="194.6" y2="284.3" stroke="#222" stroke-width="0.9"/>
<line x1="48.00" y1="284.3" x2="48.00" y2="287" stroke="#222" stroke-width="0.8"/>
<text x="48.0" y="296.6" text-anchor="middle">0</text>
<line x1="82.92" y1="284.3" x2="82.92" y2="287" stroke="#222" stroke-width="0.8"/>
<text x="82.92" y="296.6" text-anchor="middle">25</text>
<line x1="117.85" y1="284.3" x2="117.85" y2="287" stroke="#222" stroke-width="0.8"/>
<text x="117.85" y="296.6" text-anchor="middle">50</text>
<line x1="152.78" y1="284.3" x2="152.78" y2="287" stroke="#222" stroke-width="0.8"/>
<text x="152.78" y="296.6" text-anchor="middle">75</text>
<line x1="187.70" y1="284.3" x2="187.70" y2="287" stroke="#222" stroke-width="0.8"/>
<text x="187.7" y="296.6" text-anchor="middle">100</text>
<text x="115.5" y="308.8" text-anchor="middle">Cell fraction (%)</text>
<clipPath id="c1"><rect x="189.0" y="25.8" width="108.2" height="64.9"/></clipPath>
<g clip-path="url(#c1)" stroke-linecap="round" fill="none"><rect x="189.0" y="25.8" width="108.2" height="64.9" fill="#04061a"/><g>
<path d="M237.9 62.1l-0.5 1.1M229.2 55.2l-0.5 0.1M270.6 48.0l-0.9 0.2M199.3 29.8l0.3 0.5M246.2 43.6l-1.3 0.1M215.2 82.5l-0.4 0.6M222.3 58.1l0.5 1.2M258.2 31.6l1.3 0.8M232.8 84.5l0.5 0.1M296.9 38.9l-0.4 1.4M292.1 47.0l-0.2 1.2" stroke="#080c30" stroke-width="3.5"/>
<path d="M237.9 81.3l0.2 0.1M197.5 28.9l-0.0 0.0M274.3 34.9l0.8 0.3M202.2 31.9l-0.6 0.3M257.9 90.3l0.0 0.3M278.3 33.4l0.0 0.1M199.7 77.2l0.0 0.1M218.2 42.6l-0.9 0.1M196.8 58.0l0.0 0.7M268.5 72.0l-0.0 0.1M296.5 62.2l-0.1 0.1M197.4 60.0l-0.8 0.0M281.3 83.0l0.1 0.1M199.5 71.6l-0.2 0.7" stroke="#2a40b0" stroke-width="2.0"/>
<path d="M240.5 65.6l-0.7 0.4M292.7 70.2l0.1 0.0M284.5 82.7l0.2 0.4M283.1 72.1l-0.5 0.5M274.1 77.1l0.2 0.2M255.3 29.9l-0.2 0.4M276.0 70.2l-0.1 0.0M253.3 86.3l-0.1 0.2M296.5 48.6l-0.2 0.8M234.1 57.3l-0.1 0.5M208.0 35.5l-0.1 0.1M258.4 88.8l-0.0 0.0M276.6 77.8l0.2 0.4M233.8 52.2l0.0 0.9M238.4 53.9l0.4 0.7M262.1 32.2l0.1 0.2M225.5 82.8l0.5 0.5" stroke="#080c30" stroke-width="2.0"/>
<path d="M221.8 31.7l-0.6 0.8M285.6 77.8l0.5 0.3M238.2 52.0l-0.2 0.7M269.2 59.0l-0.4 0.1M265.5 42.7l-1.2 0.2M265.1 51.6l0.0 0.1M224.1 26.8l0.7 0.1M263.5 59.5l-0.2 0.8M221.6 47.2l0.6 0.4M256.3 31.6l-0.0 0.3" stroke="#0a0e38" stroke-width="3.0"/>
<path d="M193.5 89.5l0.2 1.2M211.1 80.3l0.4 0.6M232.5 84.9l-0.9 0.5M241.5 51.9l0.2 0.3M260.1 86.8l0.8 0.4M255.7 83.4l-0.2 0.0M264.7 80.6l0.5 0.6M264.3 76.8l0.4 0.3M246.8 68.6l-0.4 0.2M291.8 33.0l0.2 0.0M203.7 69.8l0.0 1.5M255.1 84.9l-0.4 0.2" stroke="#0a0e38" stroke-width="3.5"/>
<path d="M269.0 68.0l-0.1 0.5M267.5 36.1l-0.7 0.8M216.7 72.2l-0.4 1.1M201.5 58.6l0.9 0.2M196.8 31.4l0.2 0.1M212.9 88.6l-0.3 0.3M285.2 88.0l-0.4 1.2M264.1 31.2l-0.7 0.5M190.7 67.0l-0.2 0.2M233.4 56.9l0.4 0.1M295.1 51.1l-0.3 0.9M204.2 46.8l0.3 0.0M240.9 33.1l-0.3 1.0M270.4 63.7l0.2 0.8M291.8 43.6l0.2 0.8M234.2 84.8l0.3 0.1" stroke="#2a40b0" stroke-width="3.0"/>
<path d="M195.8 28.1l-1.3 0.0M189.1 81.9l0.1 0.3M210.3 87.5l1.1 0.2M216.8 69.4l-0.9 0.7M208.5 51.9l-0.5 0.4M262.6 72.3l-1.1 0.6M191.6 53.3l1.2 0.7M287.6 44.7l0.0 0.0M289.1 58.3l0.9 0.3M205.1 46.0l0.6 1.3M264.9 27.6l-0.6 0.5" stroke="#3a50b8" stroke-width="3.5"/>
<path d="M192.3 55.9l-0.9 0.5M234.4 50.7l-0.5 0.8M238.1 73.8l-0.1 0.2M251.9 72.7l-0.8 0.6M248.2 87.9l-0.1 0.1M216.5 60.8l0.4 0.4M287.2 62.7l0.2 0.6M213.9 42.2l-0.7 0.8M230.0 29.0l-0.6 0.2M221.7 65.3l-0.1 1.1M213.5 44.8l0.1 0.1M210.8 75.7l0.6 0.9M189.1 61.1l-0.9 0.5M200.7 89.9l0.1 0.0M200.3 68.5l1.0 0.2M206.7 50.6l-0.1 0.1M254.3 80.7l0.2 0.8M247.6 90.5l0.2 0.2M283.0 90.4l-0.0 0.1M248.1 36.7l0.6 0.2M283.4 40.5l0.2 0.7" stroke="#142274" stroke-width="2.5"/>
<path d="M245.2 67.4l0.1 0.1M190.2 56.0l-0.2 0.7M279.1 34.6l0.6 0.2M235.4 28.1l-0.1 0.5M252.4 66.9l0.1 0.0M265.6 85.2l0.3 0.7M222.5 43.6l-0.3 1.1M217.5 62.7l-0.7 0.4M220.8 52.7l-0.5 0.2M216.4 67.0l0.0 0.2M207.5 30.2l0.7 0.1M260.1 78.4l-0.3 0.1M211.9 74.0l0.6 0.1M279.6 70.6l0.4 1.1M221.4 39.7l-1.0 0.4M288.4 47.1l-0.5 0.0M259.5 61.0l-0.4 0.1M263.6 54.8l-0.7 0.5M292.5 68.5l-0.3 0.4M263.2 75.3l0.6 0.8M294.6 76.8l-0.4 0.3M219.8 45.0l-0.8 0.1" stroke="#0a0e38" stroke-width="2.5"/>
<path d="M198.2 68.3l-0.1 1.1M234.5 84.5l0.0 0.0M238.5 55.8l0.0 0.1M271.0 54.3l1.1 0.1M200.5 28.2l-0.4 0.5M200.7 41.2l-0.6 0.4M217.0 43.7l-0.5 0.5M219.8 51.7l0.0 0.0M234.7 72.0l0.5 0.2M259.4 32.7l0.6 0.9M286.8 61.1l0.2 0.8M260.2 76.6l0.1 0.3M192.5 48.6l-0.8 0.7M209.0 28.3l0.9 0.4M277.7 52.3l0.2 0.0M255.9 52.1l0.5 0.1M196.1 37.5l-0.3 0.7M291.1 35.7l-0.1 0.3M284.2 55.3l-0.3 0.1M230.1 43.6l0.2 0.1M219.4 58.6l-0.1 0.6" stroke="#2a40b0" stroke-width="2.5"/>
<path d="M296.7 80.3l0.4 0.6M286.4 73.6l0.1 0.0M284.2 50.7l0.5 0.5M237.3 66.7l0.4 1.1M254.4 32.0l0.2 0.0M214.1 87.1l0.8 0.1M264.2 57.9l0.1 0.8M216.7 38.8l0.5 0.3M256.4 73.0l-0.9 0.5M288.0 36.7l0.6 0.4M263.1 49.4l0.9 0.3M201.6 86.9l0.4 0.3M274.7 50.8l-0.1 0.1M295.7 81.7l1.0 0.8M202.1 75.4l0.3 0.0M241.3 83.8l-0.1 0.1M249.7 85.5l-0.6 0.2M219.7 32.1l-0.1 0.6M248.6 43.5l-0.2 0.3M283.5 85.9l-0.5 1.2M231.3 64.1l0.6 0.3M282.0 39.5l-0.2 0.2M254.4 48.4l-0.2 0.9M218.5 69.1l0.6 0.6" stroke="#0c1450" stroke-width="3.0"/>
<path d="M271.0 59.1l-0.0 0.7M296.0 39.6l0.0 0.0M191.4 87.9l0.0 0.0M238.0 30.6l-0.3 0.4M290.7 62.8l-0.2 0.7M258.0 78.3l-0.4 0.2M261.3 55.4l1.0 0.1M228.8 51.1l-0.0 0.1M253.9 44.3l0.7 0.3M207.8 76.4l0.7 0.2M191.3 37.1l-0.5 0.5M260.7 84.9l-0.2 0.5M231.0 43.9l-0.0 0.0M221.6 58.7l-0.2 0.1M276.6 58.5l0.5 0.4M259.0 50.0l-0.6 0.4M200.4 74.0l0.3 0.2M238.3 57.4l0.0 0.0M194.4 44.0l0.2 0.3M255.0 76.1l-0.0 0.6M243.1 89.4l0.5 0.6M197.1 40.5l0.1 0.9" stroke="#3a50b8" stroke-width="2.0"/>
<path d="M271.9 51.8l1.4 0.3M227.1 70.3l0.2 0.3M201.2 56.4l0.0 0.0M238.1 66.4l0.2 0.1M255.1 29.6l0.1 1.0M204.0 74.9l-0.0 0.0M270.3 57.3l0.1 1.5M239.1 51.3l-0.4 1.0M279.8 55.0l-0.1 0.1M249.2 84.0l-1.2 0.0M290.3 57.1l-0.5 0.0" stroke="#182880" stroke-width="3.5"/>
<path d="M196.2 26.9l1.3 0.1M205.7 84.8l0.6 0.7M285.5 47.0l-0.0 0.2M257.6 78.0l-0.5 0.5M275.8 54.8l0.1 0.3M295.8 59.3l-0.9 0.7M284.5 55.2l-0.3 1.0M198.4 44.3l0.1 0.4M292.3 49.3l-0.7 0.6M224.5 42.4l-1.2 0.0M200.6 54.4l-0.1 0.0M292.0 30.9l0.2 0.2M276.2 32.1l0.2 0.8M216.0 38.7l-0.6 1.0M233.2 31.4l-0.0 0.1M269.4 73.2l0.2 1.0M275.5 54.6l0.1 0.6" stroke="#142274" stroke-width="3.0"/>
<path d="M211.7 84.9l0.1 0.2M218.2 31.5l-0.6 0.1M203.3 31.5l0.3 0.5M197.4 32.1l0.1 0.8M291.4 88.4l0.0 0.0M235.9 75.9l0.1 0.5M277.8 50.8l-0.2 0.7M292.8 64.7l0.1 0.1M242.9 68.0l0.1 0.0M194.8 42.3l0.1 0.9M239.6 80.1l-0.0 0.1M276.3 55.3l-0.1 0.9M268.7 49.2l-0.8 0.0M202.4 32.0l-0.3 0.7M296.9 30.1l-0.4 0.1M269.0 42.6l0.0 0.0M226.8 64.2l0.1 0.0M247.3 89.4l-0.7 0.2M244.6 60.8l-0.0 0.0M221.4 26.8l0.1 0.2" stroke="#182880" stroke-width="2.5"/>
<path d="M234.4 62.5l0.6 0.2M239.2 68.1l-0.0 0.1M243.3 68.2l-0.3 0.1M198.2 67.0l-0.4 0.5M288.1 41.7l-0.2 0.5M243.3 45.0l0.5 0.6M285.5 62.5l-0.9 0.1M210.7 66.1l0.2 0.1M218.0 43.4l-0.5 0.8M237.7 46.1l0.0 0.2M196.8 89.9l-0.4 0.5M204.2 52.6l0.1 0.2M212.9 85.4l0.1 0.1M192.7 41.9l-0.2 0.5M278.7 77.6l0.1 0.1M242.0 57.1l0.4 0.5M242.9 29.1l0.0 0.0M269.8 63.4l0.5 0.5" stroke="#0a0e38" stroke-width="2.0"/>
<path d="M271.0 33.5l-0.3 0.3M224.6 45.0l0.4 0.3M286.9 57.0l-0.8 0.2M295.3 78.0l-0.7 0.1M212.4 52.2l0.2 0.0M204.6 88.1l-0.4 0.1M292.1 73.5l0.6 0.3M265.2 32.3l0.5 0.3M267.2 81.4l0.3 0.5M208.0 27.5l-0.3 0.0M233.7 26.5l-0.0 0.2M236.9 77.9l0.2 0.8M221.8 55.9l0.0 0.3M216.0 37.3l-0.0 0.0M253.9 81.8l-0.1 0.6M253.1 43.2l-0.6 0.2" stroke="#182a8a" stroke-width="2.0"/>
<path d="M249.5 54.8l0.0 0.2M221.6 69.8l0.3 0.1M266.0 87.5l-0.1 0.0M276.8 40.2l-0.0 0.2M287.4 28.2l-0.1 0.3M224.9 79.5l-0.7 0.1M289.3 34.8l-0.3 0.4M225.0 44.8l0.0 0.4M285.9 37.5l-0.6 0.1M208.4 73.4l-0.4 0.6M270.5 84.0l-0.2 0.1M254.3 70.9l-0.2 0.1M261.3 35.9l0.4 0.4M292.6 27.4l-0.1 0.5M271.5 51.8l-0.0 0.1M213.3 71.9l0.0 0.0M274.3 83.3l-0.0 0.2" stroke="#1c3298" stroke-width="2.0"/>
<path d="M221.9 83.2l0.3 0.4M289.0 33.8l0.2 0.5M218.1 56.5l-0.8 0.3M257.6 28.5l-0.7 0.1M193.3 29.7l0.2 0.0M228.2 26.5l-0.1 0.1M229.6 36.7l-0.2 0.7M232.2 39.9l0.5 0.7M286.9 55.0l0.8 0.2M227.9 70.4l0.0 0.0M210.6 56.2l-0.1 0.1M215.0 83.6l0.2 0.4M214.4 66.9l0.1 0.1M219.8 71.4l0.3 0.5M287.4 85.0l0.2 0.2M279.2 33.4l-0.5 0.1M211.7 49.8l-0.0 0.0M220.8 76.3l0.8 0.0M258.6 80.8l-0.1 0.0M249.6 85.7l0.0 0.1M283.5 56.5l0.1 0.7M264.5 41.0l-0.1 0.8M271.6 41.7l0.0 0.6M211.4 68.8l0.7 0.2" stroke="#182880" stroke-width="2.0"/>
<path d="M296.7 64.9l-0.3 0.7M244.8 53.7l0.8 0.4M231.2 84.1l-0.5 0.7M277.2 55.9l-1.0 0.8M294.6 77.4l0.5 0.2M225.5 89.5l-0.2 0.7M260.6 26.6l-0.3 0.2M258.5 29.5l0.1 1.1M193.9 51.8l0.5 0.3M195.1 46.5l-0.7 0.3M282.9 75.7l-0.9 1.0" stroke="#12206a" stroke-width="3.0"/>
<path d="M211.6 67.1l-0.0 0.0M267.3 84.7l0.4 0.5M261.3 53.8l0.1 0.4M291.2 83.9l0.4 0.1" stroke="#0c1450" stroke-width="1.5"/>
<path d="M293.2 41.3l0.2 0.1M193.5 71.8l-0.6 0.7M223.3 38.2l-1.1 0.6M253.4 84.4l-0.1 0.0M249.9 37.3l-1.2 0.5M254.1 33.8l0.5 0.5M268.2 64.6l0.1 0.6M259.3 45.7l0.2 0.2M247.9 81.1l0.1 0.0M195.9 49.5l0.1 0.4M289.3 32.1l1.0 0.7M224.5 46.4l0.5 0.1M206.3 47.2l-0.2 0.8M288.2 70.3l-0.3 0.0M190.8 52.8l0.5 0.8M246.3 90.1l0.1 1.2" stroke="#2238a8" stroke-width="3.0"/>
<path d="M208.0 72.6l-0.4 0.1M202.3 58.9l0.7 0.1M233.7 60.2l-0.1 0.3M282.5 60.5l0.0 0.2M273.2 38.4l0.6 0.4M260.8 74.3l-0.0 0.4M209.6 43.9l0.3 0.3M194.7 62.9l0.1 0.1M227.1 58.3l0.3 0.6M265.9 38.6l0.0 0.3M208.9 61.5l0.0 0.0M267.8 76.2l-0.6 0.2M228.0 89.2l0.1 0.1M216.3 38.0l0.3 0.9M222.2 26.3l-0.0 0.0M276.4 25.8l0.3 0.3M234.3 69.3l-0.1 0.2M275.9 46.5l-0.1 0.0M243.4 48.0l0.0 0.6" stroke="#142274" stroke-width="2.0"/>
<path d="M240.9 68.2l0.3 0.3M241.7 27.6l-0.3 1.2M210.7 66.6l0.0 0.0M231.2 90.7l0.2 0.0M243.9 88.6l-0.2 1.1M211.8 48.1l-0.0 0.1M197.2 39.6l0.3 0.0M195.9 61.3l-0.8 0.7M277.9 80.7l0.4 0.5M262.1 74.3l-0.5 0.0M250.4 27.5l-0.0 0.0M213.0 74.3l0.4 0.0M248.2 80.9l-1.0 0.6M265.4 85.3l-0.5 0.8M222.3 60.3l-0.5 0.3M210.2 43.9l-0.0 0.0M276.8 73.2l-0.2 0.6M245.8 52.2l0.0 0.3M268.3 50.0l-0.9 0.5M237.1 84.0l-0.0 1.3M283.4 29.8l-0.1 0.1M249.3 34.8l0.5 0.7M230.1 44.4l-0.7 0.1M212.0 45.2l0.5 0.2" stroke="#182a8a" stroke-width="3.0"/>
<path d="M219.3 85.3l0.6 0.4M196.5 52.5l-0.2 0.6M243.4 65.1l-0.5 0.5M194.5 52.9l0.1 0.4M210.9 66.8l0.7 0.2M246.2 55.1l-0.1 0.3M259.6 56.0l0.6 0.3M218.0 77.5l-0.3 0.3M257.9 27.5l0.6 0.1M194.8 76.4l-0.1 0.6" stroke="#12206a" stroke-width="2.0"/>
<path d="M208.1 49.7l1.2 0.2M260.1 70.7l0.7 0.7M279.0 53.2l0.0 0.0M262.8 49.4l0.5 0.1M220.5 75.1l-0.2 0.1M222.4 33.3l-0.2 0.5M204.7 84.7l-0.3 0.1M256.3 34.3l-0.4 0.9M255.6 67.4l0.4 1.1M228.9 61.2l0.0 0.1M256.4 79.7l0.4 0.4M209.0 26.7l-0.3 0.4M219.7 51.2l-0.8 0.2M239.5 90.0l-0.1 0.7M207.7 31.2l-0.1 0.3M223.2 36.8l-0.5 0.3M294.6 86.4l-0.1 0.8M208.7 89.9l-0.4 0.5" stroke="#1c3298" stroke-width="3.0"/>
<path d="M199.0 34.8l0.2 0.6M252.8 85.7l0.7 0.5M248.5 68.2l0.2 0.6M295.1 89.2l0.6 0.1M203.4 47.2l0.0 0.0M243.4 45.8l0.0 0.2M214.4 89.5l-0.7 0.7M219.6 35.1l-0.3 0.1M236.4 77.9l-0.4 0.9M215.9 49.3l-0.8 0.6M225.6 55.6l0.1 0.1M203.7 56.8l-0.1 0.0M214.0 45.7l-0.0 0.2M256.4 29.3l0.3 0.0M274.1 29.8l0.4 0.9M266.1 52.1l-0.2 0.3M202.0 57.8l-0.2 0.5M264.8 27.3l0.9 0.1M242.6 63.8l-0.9 0.3M285.0 67.5l0.1 0.8M250.5 43.6l-0.3 0.6M212.8 67.3l0.1 0.5M235.9 35.9l0.7 0.2M293.0 38.5l-0.1 0.1M294.5 79.9l0.0 0.1M217.4 63.8l-0.1 0.3M234.1 60.9l0.2 1.0M272.9 70.9l0.0 0.0M236.0 51.7l0.1 0.2" stroke="#0c1450" stroke-width="2.5"/>
<path d="M264.8 88.3l-0.4 0.0M264.9 82.8l0.3 0.4M273.1 59.9l-0.0 0.1M199.4 77.4l0.3 0.1" stroke="#0a0e38" stroke-width="1.5"/>
<path d="M197.1 30.2l0.2 0.2M247.4 87.2l0.1 0.1M288.0 66.5l0.1 0.3M272.0 75.5l-0.5 0.8M261.3 87.8l-0.7 0.1M227.6 35.8l0.2 0.5M237.1 74.3l0.7 0.1M211.5 61.1l-0.3 0.9M201.8 52.1l0.9 0.5M230.6 86.1l-0.0 1.0M266.4 43.2l0.0 0.0M278.6 62.6l0.1 0.0M261.5 26.1l-0.3 0.8M223.8 31.9l0.4 0.4M268.7 90.0l-1.0 0.2M281.5 65.3l-0.3 0.2M287.6 90.1l-0.3 0.4M192.6 87.7l0.5 0.7M295.3 82.4l0.1 0.4" stroke="#1c3298" stroke-width="2.5"/>
<path d="M297.1 30.7l-0.6 1.0M291.2 27.8l-0.6 0.8M211.7 34.5l-0.1 0.2M196.6 48.0l-0.6 0.3M214.7 62.4l-0.2 1.0M224.7 59.6l-0.1 0.2M224.2 75.8l0.9 0.2M254.0 63.0l0.2 0.2M263.3 86.9l0.0 0.0M219.2 59.7l-0.5 1.0" stroke="#12206a" stroke-width="2.5"/>
<path d="M256.6 50.6l-0.6 1.1M230.4 59.5l-0.5 0.3M244.8 51.8l-0.2 0.0M218.7 65.4l-0.6 0.6M228.6 33.4l-0.1 0.3M262.3 63.8l-0.0 0.1M281.6 80.6l-0.1 0.1M295.2 77.0l0.1 0.1M192.8 64.5l-0.1 0.6M277.7 73.7l0.3 0.3M216.6 36.2l0.6 0.0M224.4 47.5l-0.1 0.9M195.2 61.5l0.2 1.3M290.0 51.0l0.2 0.0M239.3 46.3l-0.2 0.0M275.1 90.5l0.0 0.0M207.0 35.1l-0.0 0.0M291.7 57.7l0.1 0.8M232.6 68.0l0.1 0.0" stroke="#3a50b8" stroke-width="3.0"/>
<path d="M196.8 31.7l0.2 0.5M191.9 28.3l0.0 0.8M253.4 40.3l-0.6 0.5M246.3 42.7l0.0 0.0M264.2 60.0l0.4 0.6M234.3 31.4l0.1 0.6M211.1 50.7l-0.1 0.1M205.3 64.4l0.0 0.0M207.6 63.5l-0.2 0.2M214.4 63.4l0.6 0.8M251.2 42.5l0.1 0.1M241.5 43.5l-0.6 0.7M292.8 27.9l-0.0 0.5M238.1 50.0l-0.3 0.8M197.8 40.3l-0.2 0.6M282.6 89.2l-0.2 0.1M239.5 70.6l-0.3 0.2M227.2 75.1l0.5 0.3M241.9 70.9l0.6 0.1M227.5 49.2l0.1 0.6" stroke="#2238a8" stroke-width="2.0"/>
<path d="M284.2 73.1l0.0 0.8M215.5 58.2l0.6 0.3M277.2 51.6l0.2 0.3M295.9 28.0l-0.2 0.1M237.5 83.0l-0.1 0.4M206.3 66.1l-0.0 0.1M198.6 49.4l0.6 0.5M274.5 86.3l0.0 0.1M238.0 64.0l0.4 0.2M229.9 72.3l-0.2 0.9M262.2 33.8l-0.0 0.0M202.3 60.0l-0.3 0.8M207.0 88.9l-0.5 0.0M292.2 81.1l-0.1 0.1M239.8 59.0l0.2 0.3" stroke="#3a50b8" stroke-width="2.5"/>
<path d="M270.2 27.7l-0.0 0.5M286.4 59.4l-0.3 0.4M297.0 79.9l0.8 0.7M193.9 32.2l-0.6 0.4M197.5 31.2l0.1 0.8M227.9 64.0l0.2 0.4M209.9 70.1l0.2 0.0M232.3 64.3l-0.5 0.1M237.4 90.3l-0.0 0.2M204.2 80.8l0.0 0.6M201.2 55.1l0.9 0.2M241.4 40.7l-0.4 0.7M289.7 38.8l0.6 0.1M204.9 56.2l0.1 1.3M218.1 63.1l0.5 0.6M250.6 87.0l-0.1 0.0M196.7 43.3l0.6 0.4M216.9 77.2l0.8 0.8" stroke="#080c30" stroke-width="3.0"/>
<path d="M260.4 57.4l0.6 1.4M210.7 70.1l-0.4 0.0M228.9 68.2l0.7 1.3M195.9 76.2l0.0 0.1M206.4 63.8l-0.7 0.5M263.6 69.1l-1.2 0.7M256.6 62.2l0.8 0.2M294.2 30.1l0.7 0.1M189.8 64.3l0.1 0.2M225.0 35.6l0.4 0.1M217.1 29.3l-1.0 0.4M204.8 82.3l0.6 0.2" stroke="#0c1450" stroke-width="3.5"/>
<path d="M259.3 62.4l-0.1 0.0M238.7 85.6l-0.2 0.5M269.5 76.3l0.1 0.0M250.4 88.5l0.4 0.2M281.8 45.5l0.4 0.3M273.8 72.6l1.1 0.8M286.0 85.1l-0.3 0.1M223.7 29.3l-0.8 0.6M272.5 66.5l0.4 0.5M276.7 77.2l-0.1 0.2M212.1 64.1l-0.7 0.2M251.7 26.2l-1.0 0.9M245.4 48.6l0.1 0.7M259.4 70.3l-0.4 0.1M259.2 74.4l-0.1 0.7M291.8 68.4l0.0 1.0M260.8 44.6l0.0 0.2" stroke="#182880" stroke-width="3.0"/>
<path d="M238.2 27.4l0.2 0.1M281.1 65.5l-1.3 0.1M223.2 46.2l0.9 0.6M235.5 56.8l0.1 0.5M206.0 90.5l-0.6 0.7M194.6 31.9l-0.3 1.0M208.3 47.5l1.1 0.1M293.2 70.8l0.0 0.2M258.1 27.3l-0.6 0.3M212.7 51.2l-1.3 0.2M204.5 39.1l0.1 0.5M251.4 73.8l-0.9 0.5M237.0 63.1l-1.0 0.7" stroke="#142274" stroke-width="3.5"/>
<path d="M273.3 77.5l0.1 0.0M231.6 77.2l0.3 0.1M291.3 57.8l-0.4 0.5M233.9 36.8l0.1 0.4M219.9 73.3l0.4 0.9M234.9 88.7l0.5 0.6M279.9 67.9l-0.0 0.1M275.3 59.0l0.1 0.0M233.7 62.2l-0.6 0.4M249.4 55.6l-1.0 0.2M225.3 66.4l-1.3 0.3M292.5 48.9l-0.0 0.2M254.8 79.7l1.2 0.6M218.3 73.0l0.5 0.8M264.2 65.6l-0.9 0.2M192.2 86.8l0.2 0.5M242.3 69.2l-0.1 1.2" stroke="#182a8a" stroke-width="3.5"/>
<path d="M266.3 37.4l0.9 0.1M205.8 26.6l0.0 0.1M235.3 49.8l0.1 0.0M225.2 43.6l0.1 0.3M254.6 36.0l-0.2 0.2M284.9 30.5l0.2 0.1M246.8 41.2l0.2 1.0M211.3 48.4l0.2 0.2M210.7 30.4l0.6 0.1M262.0 72.1l0.1 0.0M231.8 31.2l0.5 0.7M249.8 70.4l-0.1 0.0M214.4 63.7l-0.0 0.1M213.1 66.0l0.2 0.0M288.0 69.7l0.1 0.5" stroke="#0c1450" stroke-width="2.0"/>
<path d="M233.4 83.7l-0.1 0.2M227.1 65.7l0.9 0.1M259.8 26.6l-0.4 0.1M224.6 86.1l0.0 0.1M191.6 37.0l0.0 0.0M210.2 80.2l-0.0 0.0M190.9 58.0l0.3 0.0M193.4 66.1l-0.6 0.8M192.4 70.1l0.7 0.3M254.9 64.1l-0.0 0.0M242.4 70.6l-0.2 0.8M288.2 30.9l0.0 0.2M199.3 28.7l-0.7 0.6M233.7 51.1l-0.5 0.5" stroke="#080c30" stroke-width="2.5"/>
<path d="M217.3 72.4l0.4 0.3M262.0 43.4l0.2 0.2M226.9 53.8l-0.5 0.4" stroke="#2a40b0" stroke-width="1.5"/>
<path d="M198.0 54.4l0.4 0.0M219.9 68.3l-0.1 0.3M248.3 78.8l-0.2 0.4M251.3 55.2l-0.8 0.5M245.7 33.3l-0.9 0.2M236.1 69.2l-0.2 0.2M213.6 57.1l-0.3 0.9M214.7 68.8l0.1 0.3M216.0 27.1l-0.0 0.0M261.3 44.4l-0.1 0.3M203.6 45.3l0.4 0.4M259.8 42.7l0.3 0.2M223.1 66.3l-0.0 0.1" stroke="#2238a8" stroke-width="2.5"/>
<path d="M258.1 59.7l0.3 0.3M211.5 81.0l-1.1 0.3M286.5 86.5l-0.8 0.3M230.8 88.8l-0.3 0.3M278.5 67.0l-0.4 1.4M229.8 82.9l0.0 0.2M260.5 30.1l-1.4 0.3M223.2 87.9l-0.4 0.3M229.1 73.1l0.6 0.7M294.4 89.1l-1.2 0.7M221.0 81.6l0.7 0.2M210.0 42.2l0.2 1.5M221.9 40.1l-0.1 0.7" stroke="#2a40b0" stroke-width="3.5"/>
<path d="M218.5 58.1l0.1 0.2M194.5 38.5l0.3 0.1M261.8 57.8l0.0 1.0M226.8 26.1l0.3 0.2M197.2 45.6l0.4 0.6M292.2 74.8l0.1 0.0M278.9 37.8l0.1 0.1M219.6 82.0l-0.9 0.1M235.9 40.7l0.7 0.1M201.8 75.0l-0.6 0.4M229.9 54.9l-0.0 0.1M205.0 71.5l-0.3 0.9M251.0 27.3l0.2 0.0M243.5 53.5l0.1 0.5" stroke="#182a8a" stroke-width="2.5"/>
<path d="M203.0 76.4l-0.5 0.1M217.6 32.5l-0.5 0.3M222.5 59.2l0.5 0.2" stroke="#142274" stroke-width="1.5"/>
<path d="M285.1 90.1l0.5 0.2M284.1 39.0l0.2 0.1M288.2 30.6l1.2 0.9M269.6 59.7l-0.2 1.2M249.2 56.4l-0.0 1.2M284.2 50.6l-0.2 0.4M231.9 86.4l-0.0 0.0M296.6 54.6l0.0 0.0M261.4 48.1l-0.9 0.5M237.8 29.0l0.1 0.9M200.1 45.7l-0.6 0.3M221.8 41.6l-0.2 0.3M296.5 38.6l-0.5 0.4M272.0 70.0l-1.4 0.1" stroke="#12206a" stroke-width="3.5"/>
<path d="M271.4 89.4l0.4 0.2M202.0 46.8l0.4 0.0M216.1 84.8l-0.0 0.2M269.4 45.4l0.3 0.3" stroke="#3a50b8" stroke-width="1.5"/>
<path d="M287.7 74.7l0.1 0.3M260.1 41.2l-0.0 0.1M281.9 86.5l0.4 0.4M240.5 78.9l-0.1 0.5" stroke="#080c30" stroke-width="1.5"/>
<path d="M205.5 66.5l-0.0 0.1M250.2 78.3l-0.2 0.7M240.8 42.5l-0.2 0.2M296.0 78.9l0.4 1.0M243.0 76.4l-1.0 0.5M219.4 54.4l-0.6 0.1M233.5 34.4l0.8 0.3M262.6 31.3l1.0 0.8M263.6 49.4l-0.0 0.0M198.8 50.4l0.3 0.7" stroke="#2238a8" stroke-width="3.5"/>
<path d="M264.6 71.5l-0.1 0.7M242.0 75.2l0.0 0.0M250.4 85.0l1.3 0.2M245.3 74.0l0.0 0.0M264.2 70.4l1.3 0.2M196.6 51.1l-1.2 1.0M224.1 34.9l-0.9 0.9M290.6 89.1l-0.9 0.4M289.8 48.0l-0.7 0.9M249.7 61.1l0.5 0.5" stroke="#1c3298" stroke-width="3.5"/>
<path d="M228.3 43.6l-0.3 0.3" stroke="#1c3298" stroke-width="1.5"/>
<path d="M249.5 35.6l0.3 0.0" stroke="#2238a8" stroke-width="1.5"/>
<path d="M195.6 40.2l-0.7 0.2" stroke="#182880" stroke-width="1.5"/>
<path d="M194.9 56.5l0.1 0.1" stroke="#182a8a" stroke-width="1.5"/>
<path d="M215.9 70.4l0.7 0.4M217.1 45.5l-0.4 0.2" stroke="#efe0b0" stroke-width="2.0" stroke-opacity="0.85"/>
<path d="M229.9 85.1l0.0 0.3" stroke="#d8c8e0" stroke-width="3.5" stroke-opacity="0.85"/>
<path d="M242.5 72.7l-0.6 0.3M223.6 70.8l-0.5 0.8M200.8 75.6l-0.6 1.1M212.9 56.5l-0.3 0.0" stroke="#e8c090" stroke-width="3.0" stroke-opacity="0.85"/>
<path d="M197.1 37.5l-0.5 0.2" stroke="#b0a8e0" stroke-width="4.0" stroke-opacity="0.85"/>
<path d="M245.9 67.3l0.1 0.1M262.5 36.0l1.3 0.6" stroke="#f2e6c8" stroke-width="3.5" stroke-opacity="0.85"/>
<path d="M233.1 83.0l1.4 0.7M261.9 33.8l0.2 1.4" stroke="#b0a8e0" stroke-width="3.5" stroke-opacity="0.85"/>
<path d="M199.6 73.3l-0.0 0.2M222.9 64.8l-0.6 0.8M238.0 70.1l0.7 0.0M225.9 27.2l0.7 0.3" stroke="#c8b8e8" stroke-width="3.5" stroke-opacity="0.85"/>
<path d="M247.5 66.3l-0.8 1.2M233.8 58.8l0.5 0.1" stroke="#e8c090" stroke-width="3.5" stroke-opacity="0.85"/>
<path d="M288.0 60.8l-0.9 0.1" stroke="#d8c8e0" stroke-width="2.5" stroke-opacity="0.85"/>
<path d="M224.8 68.5l1.1 0.2M238.2 31.6l-0.7 1.2" stroke="#ffffff" stroke-width="3.5" stroke-opacity="0.85"/>
<path d="M241.1 67.2l0.1 0.2M233.0 58.8l0.3 0.9M229.8 85.5l-0.7 0.7" stroke="#efe0b0" stroke-width="2.5" stroke-opacity="0.85"/>
<path d="M193.7 53.5l-0.0 0.0M203.8 77.8l-0.2 0.8" stroke="#e8c090" stroke-width="2.0" stroke-opacity="0.85"/>
<path d="M261.8 38.0l-0.1 0.1" stroke="#f2e6c8" stroke-width="2.0" stroke-opacity="0.85"/>
<path d="M241.5 69.5l-1.0 1.1M198.8 71.2l-1.7 0.1" stroke="#efe0b0" stroke-width="3.5" stroke-opacity="0.85"/>
<path d="M238.2 43.4l-0.3 0.6M275.1 61.8l-0.4 0.9M289.1 63.6l0.4 0.3M197.6 73.7l-0.3 0.7M261.8 79.0l0.1 0.6" stroke="#c8b8e8" stroke-width="2.5" stroke-opacity="0.85"/>
<path d="M199.8 71.3l0.4 0.2M252.0 38.6l-0.1 0.0" stroke="#ffffff" stroke-width="2.5" stroke-opacity="0.85"/>
<path d="M199.9 62.1l-0.2 0.2M225.6 67.9l-0.2 0.8" stroke="#f2e6c8" stroke-width="2.5" stroke-opacity="0.85"/>
<path d="M239.4 73.1l0.2 0.7" stroke="#c8b8e8" stroke-width="2.0" stroke-opacity="0.85"/>
<path d="M206.9 78.5l-0.8 0.1M213.8 65.8l0.9 0.1" stroke="#d8c8e0" stroke-width="2.0" stroke-opacity="0.85"/>
<path d="M276.7 61.1l0.4 0.3M247.2 65.3l0.5 0.3M216.9 53.8l-1.0 0.1" stroke="#d8c8e0" stroke-width="3.0" stroke-opacity="0.85"/>
<path d="M287.5 65.1l0.5 0.3M263.6 34.3l-0.1 1.1M231.8 57.1l0.3 0.7" stroke="#b0a8e0" stroke-width="2.5" stroke-opacity="0.85"/>
<path d="M208.4 79.1l0.3 0.1" stroke="#f2e6c8" stroke-width="1.5" stroke-opacity="0.85"/>
<path d="M219.0 53.2l0.3 0.1M218.3 74.8l-0.8 0.0" stroke="#efe0b0" stroke-width="3.0" stroke-opacity="0.85"/>
<path d="M225.0 70.6l0.7 1.2" stroke="#ffffff" stroke-width="3.0" stroke-opacity="0.85"/>
<path d="M241.3 41.2l0.0 0.6M250.9 34.4l-0.8 0.7" stroke="#c8b8e8" stroke-width="3.0" stroke-opacity="0.85"/>
<path d="M251.6 41.1l0.0 0.4" stroke="#f2e6c8" stroke-width="3.0" stroke-opacity="0.85"/>
<path d="M245.8 67.0l-1.1 0.1M249.6 33.0l0.0 0.4" stroke="#b0a8e0" stroke-width="3.0" stroke-opacity="0.85"/>
<path d="M204.0 40.8l0.5 0.7" stroke="#ffffff" stroke-width="2.0" stroke-opacity="0.85"/>
<path d="M248.4 33.8l-0.3 0.2" stroke="#efe0b0" stroke-width="1.5" stroke-opacity="0.85"/>
<path d="M240.5 32.1l0.1 0.0" stroke="#e8c090" stroke-width="2.5" stroke-opacity="0.85"/>
<path d="M237.8 33.5l-0.1 0.5" stroke="#b0a8e0" stroke-width="2.0" stroke-opacity="0.85"/>
</g></g>
<clipPath id="c2"><rect x="300.0" y="25.8" width="108.0" height="64.9"/></clipPath>
<g clip-path="url(#c2)" stroke-linecap="round" fill="none"><rect x="300.0" y="25.8" width="108.0" height="64.9" fill="#04061a"/><g>
<path d="M320.8 54.0l-0.7 0.2M301.9 54.9l0.8 0.2M349.3 49.6l-0.3 1.0M360.0 72.2l-0.3 0.1M313.0 48.2l0.6 0.7M391.2 57.5l0.0 0.0M363.4 66.3l0.2 0.1M395.6 26.7l0.2 0.1M354.7 86.2l0.4 1.0M334.1 70.7l-0.0 0.2M302.6 53.4l0.3 0.1M354.8 30.8l0.9 0.5M307.6 52.6l-0.2 0.2M397.5 56.4l0.6 0.2M302.0 60.8l0.6 0.7M311.0 80.7l0.1 0.1M392.9 61.0l0.0 0.8M383.7 77.5l0.1 0.2" stroke="#142274" stroke-width="2.5"/>
<path d="M401.5 58.6l-0.1 0.1M320.2 37.4l0.5 0.3M327.4 44.3l0.3 0.0M398.3 58.7l0.2 0.8M322.9 38.3l1.0 0.1M351.7 88.8l-0.2 0.9M313.6 73.6l0.1 0.2M393.1 73.5l0.0 0.2M366.1 77.6l0.4 0.4M302.7 28.3l-0.1 0.3M358.0 27.1l0.1 0.1M380.1 36.4l0.1 0.0M305.0 37.6l-0.1 0.3M340.4 77.2l-0.7 1.0M353.5 83.1l0.5 0.0M343.3 49.7l0.8 0.0M306.0 29.9l-0.2 0.1M359.0 54.0l1.1 0.3M381.2 86.2l0.1 0.1M364.9 85.9l-0.4 0.3M300.3 83.4l0.0 0.6" stroke="#0a0e38" stroke-width="2.5"/>
<path d="M357.3 85.0l0.6 1.1M369.9 27.4l-0.8 0.6M313.3 59.1l0.5 1.1M323.8 41.8l-1.2 0.9M407.1 84.9l-0.9 0.2M370.1 88.4l-0.6 0.3M375.9 30.2l0.7 0.3M370.2 84.7l0.7 0.7M394.9 43.1l-0.1 0.0M318.1 50.7l-0.7 0.1M321.9 90.3l0.2 0.5M314.3 86.3l-0.5 0.5" stroke="#0c1450" stroke-width="3.5"/>
<path d="M338.7 43.1l1.1 0.5M384.5 67.0l-0.1 0.3M358.4 54.6l-0.1 0.1M320.5 81.0l0.0 1.0M348.6 88.4l-0.5 0.4M332.7 61.3l0.4 0.2M307.7 27.1l0.3 0.1M339.4 79.6l1.1 0.4M348.3 28.3l-0.3 0.2M327.3 34.4l0.4 0.4M329.4 54.3l0.2 0.2M370.5 69.6l-0.2 0.6M393.9 41.7l-0.7 1.0M395.7 73.4l0.8 0.4M324.6 29.2l-0.2 0.0M317.2 43.6l0.1 0.3M320.3 64.4l-0.0 0.2" stroke="#1c3298" stroke-width="3.0"/>
<path d="M404.9 85.4l-0.7 0.0M341.1 46.8l-0.4 0.5M363.2 57.9l1.3 0.1M315.3 34.2l-0.8 0.7M402.6 46.7l-0.0 0.1M352.8 27.6l1.1 0.5M364.1 55.5l-0.0 0.2M310.5 60.3l-0.1 0.0M369.2 67.8l1.3 0.2M353.5 81.5l-0.3 0.3M335.7 55.8l-0.9 0.7M328.4 69.6l0.6 0.0M381.9 35.5l-0.6 0.0M359.4 45.5l0.6 1.1M395.9 37.5l0.9 0.8M374.7 33.4l-0.1 0.9M394.1 38.5l0.9 0.3M339.4 80.2l-0.4 0.8M329.2 39.0l0.5 1.0M351.2 45.4l-0.5 1.3M333.9 37.0l-0.0 0.1M340.8 42.6l0.7 1.0M340.8 27.3l-0.7 0.9M313.5 50.9l0.0 0.4" stroke="#182880" stroke-width="3.0"/>
<path d="M382.2 60.3l-0.7 0.3M375.9 29.2l-0.7 0.9M319.5 75.7l-1.0 0.1M386.2 78.1l-0.0 0.1M382.6 87.7l-0.9 0.6M377.1 67.3l0.3 0.4M364.7 44.2l-0.6 0.5M301.9 44.5l-0.1 0.5M350.2 70.1l-0.2 0.2M366.7 40.5l-0.5 0.0M357.3 84.9l-0.7 0.3M364.4 78.6l0.8 0.2M404.8 34.7l0.7 0.7M321.3 26.5l-0.3 1.0M380.9 51.1l-0.0 0.2M400.5 50.2l0.3 0.0M300.1 37.4l-0.4 1.2" stroke="#080c30" stroke-width="3.5"/>
<path d="M336.8 46.6l-0.1 0.3M338.5 44.7l-0.4 0.8M331.2 87.7l-0.6 0.3M359.7 41.0l0.4 0.1M324.6 56.5l0.5 0.5M340.0 49.6l0.1 0.0M352.6 30.6l-0.0 0.1M359.4 31.3l0.1 0.4M354.6 29.7l0.4 0.4M320.3 55.8l0.8 0.1M373.2 73.0l-0.1 0.1M379.3 32.1l-0.4 0.7M322.3 73.4l-0.7 0.2M402.1 39.0l-0.5 0.6M369.2 35.2l0.4 0.2" stroke="#182a8a" stroke-width="2.0"/>
<path d="M405.9 50.5l-0.7 0.8M378.4 70.7l0.0 0.9M300.2 88.7l-0.0 0.8M328.4 63.5l-0.4 0.4M310.9 84.7l-0.3 0.9M300.4 41.7l0.2 0.3M382.8 57.7l0.7 0.8M375.1 58.4l-0.2 0.2M377.5 71.0l-0.7 0.3M312.4 77.3l-1.0 0.4M326.6 41.0l-0.4 0.5M337.5 51.8l0.3 0.3M391.2 84.1l0.3 0.1" stroke="#080c30" stroke-width="3.0"/>
<path d="M391.5 84.3l0.6 0.5M380.1 39.2l0.2 0.2M308.8 62.1l0.7 0.3M335.1 87.5l-0.1 0.1M341.3 90.1l-0.5 0.2M393.9 47.6l0.4 0.2M377.9 71.9l-0.1 0.1M384.7 37.5l-0.2 0.7M405.7 54.7l-0.9 0.0M383.6 56.2l0.3 0.7M346.9 34.4l0.2 0.7M317.8 52.8l0.9 0.4M386.8 42.9l0.3 0.5M301.1 83.9l0.0 0.2M310.2 80.3l0.5 0.0M320.3 81.6l0.3 0.7M384.6 64.8l0.8 0.8M314.7 26.4l-0.1 0.3M359.6 47.9l-0.2 0.5M391.6 63.7l-0.5 0.7M357.3 75.9l0.2 0.3" stroke="#12206a" stroke-width="2.5"/>
<path d="M310.3 65.9l0.8 0.5M301.3 56.9l-1.2 0.1M353.7 78.3l0.2 0.5M305.6 38.7l0.5 0.5M361.8 87.9l0.2 0.0M338.9 42.5l-0.0 0.0M371.0 77.5l-0.3 0.7M338.6 75.5l-0.0 0.1M389.4 56.3l-1.0 0.7M370.0 34.5l0.0 0.3M402.4 72.3l-0.4 1.2M367.1 78.1l-0.5 0.1M375.3 56.6l-0.0 0.2M356.9 36.3l0.9 0.4M341.0 29.8l-1.1 0.1M316.5 40.9l-1.2 0.5M325.4 27.9l-1.1 0.4M391.6 41.3l0.7 0.7M399.1 56.1l0.7 0.1M329.1 42.2l-0.4 0.4M390.8 35.1l0.9 0.1" stroke="#182a8a" stroke-width="3.0"/>
<path d="M350.2 36.8l0.7 0.0M399.2 64.4l0.2 0.9M347.5 82.2l-0.0 0.1M402.1 33.6l0.9 0.6M392.3 78.8l-0.0 0.6M380.4 53.2l0.0 1.1M328.5 68.0l-0.0 0.9M341.3 63.3l0.8 0.2M398.1 55.1l-0.9 0.3M356.7 68.9l0.6 0.5M341.2 62.3l0.1 0.1M385.2 28.4l-0.3 0.2M395.7 70.4l-0.4 0.2M380.5 47.7l0.0 0.0M339.9 63.4l-0.2 0.2M372.2 33.6l1.3 0.1" stroke="#2a40b0" stroke-width="3.0"/>
<path d="M364.5 63.8l-0.1 0.3M303.0 27.6l-0.3 0.7M301.9 27.6l0.3 0.0M313.7 50.3l0.3 0.2M366.1 57.9l-0.2 0.7M385.8 46.3l0.1 1.0M386.0 81.8l-0.7 0.2M302.5 27.3l0.1 0.3M401.8 33.4l0.0 0.4M340.7 28.7l0.2 0.4M308.8 47.4l-0.4 0.4M309.3 50.1l0.8 0.5M392.1 49.9l-0.8 0.6M338.3 35.6l0.5 0.3M337.3 39.0l0.0 0.1M327.4 44.5l0.6 0.2M372.5 26.2l-0.2 0.1M401.3 41.1l-1.0 0.3M407.5 86.9l0.0 0.1M336.5 64.8l0.1 0.8M339.4 57.9l0.6 0.3M328.7 90.2l1.0 0.0M354.3 72.7l-0.5 0.9" stroke="#182880" stroke-width="2.5"/>
<path d="M312.9 32.5l-0.7 1.3M397.1 80.6l-1.3 0.3M314.9 73.4l-0.2 0.5M314.5 43.5l-0.3 0.1M342.8 77.4l0.0 1.2M346.7 64.3l-1.5 0.1M362.9 73.6l-0.4 0.4M334.8 74.3l-0.3 0.3M386.9 90.0l-0.2 0.6" stroke="#142274" stroke-width="3.5"/>
<path d="M325.5 63.2l-0.0 0.5M378.4 44.0l-0.2 0.7M304.4 41.3l-0.1 0.5M322.2 48.9l0.0 0.0M303.9 36.4l-0.1 0.0M405.7 60.4l-0.0 0.2M375.5 63.0l0.4 0.3M359.2 62.8l-0.6 0.5M380.9 51.7l-0.4 0.5M391.4 88.4l0.9 0.2M320.7 76.6l-0.1 0.1M359.2 67.6l0.5 0.4M335.7 76.9l-0.0 0.0M357.7 60.8l-0.1 0.0M397.0 31.8l0.6 0.1M365.1 39.1l-0.2 0.9M369.1 44.6l-0.1 0.0M390.5 41.8l-0.2 0.2M334.9 34.1l0.2 0.4M381.9 35.1l-0.0 0.0" stroke="#1c3298" stroke-width="2.0"/>
<path d="M337.8 34.9l0.2 0.0M338.2 74.7l1.2 0.3M386.3 58.1l0.0 0.1M330.9 69.9l-0.0 0.3M302.3 83.8l-1.3 0.5M315.9 55.3l0.2 0.4M313.8 70.8l-0.3 0.3M338.7 41.7l-1.1 0.5M358.0 59.7l0.3 0.4M308.0 78.3l-0.0 0.0M404.3 39.4l0.5 0.3M370.1 89.7l0.4 1.1M333.0 45.8l0.5 0.5M366.0 89.3l0.8 0.0M372.4 39.4l1.0 0.7M364.6 27.7l-0.4 1.0M329.1 50.5l-0.6 0.2M347.0 31.2l0.3 0.2M316.4 81.8l0.5 1.2M355.1 44.8l0.3 0.2M384.1 46.1l-0.5 0.1M323.0 88.6l0.5 1.0M308.6 40.8l-0.3 0.4" stroke="#0c1450" stroke-width="3.0"/>
<path d="M345.7 48.7l1.1 0.7M379.5 48.8l0.1 0.4M388.2 41.5l0.5 0.3M396.5 52.2l0.4 0.4M345.7 63.0l-0.5 0.9M307.4 39.2l0.2 0.9M323.6 35.6l0.3 0.1M317.9 57.9l0.3 0.1M335.0 63.5l0.1 0.6M351.1 46.1l-0.2 0.1M393.8 81.5l-0.3 0.7M339.2 35.7l-0.1 0.3M361.3 64.1l0.7 0.2" stroke="#3a50b8" stroke-width="3.5"/>
<path d="M347.6 50.9l0.5 0.3M394.7 88.0l0.6 0.2M391.0 45.6l-0.8 0.1M308.9 68.7l-0.3 0.1M314.8 54.2l-0.4 0.5M407.4 52.0l0.4 0.2M368.6 40.5l-0.1 0.2M340.3 41.6l0.3 0.4M390.7 81.6l-0.1 0.1M383.9 59.1l-0.6 0.1M405.2 27.8l-0.4 0.0M378.8 78.7l-0.2 0.1M359.1 73.6l0.0 0.1M388.3 50.4l0.2 0.3M388.1 38.3l-0.0 0.3M379.4 73.6l0.1 0.0M314.4 36.3l0.3 0.2M306.5 30.6l-0.5 0.1M389.3 53.6l-0.2 0.6M335.5 50.0l-0.0 0.0" stroke="#2a40b0" stroke-width="2.0"/>
<path d="M338.5 46.3l-0.3 0.2M303.9 41.3l0.2 0.1M310.1 44.1l-0.1 0.2M314.3 38.0l-0.0 0.2M392.1 47.1l-0.9 0.7M407.0 82.4l-0.6 1.0M360.0 70.6l-0.4 0.6M383.4 81.8l0.1 0.4M304.1 42.6l-0.0 0.0M392.0 39.7l0.6 0.2M310.6 67.9l-0.5 0.4M378.1 74.5l0.2 0.2M384.5 34.3l0.2 0.4M347.9 87.5l-0.1 0.0M312.0 39.1l-0.2 0.7M383.2 40.8l-0.6 0.7M402.2 85.9l0.2 0.8M390.3 74.9l-0.0 0.0M367.0 69.5l0.0 0.0M306.6 55.8l0.1 0.0M391.6 63.7l0.6 0.1M395.8 42.8l0.0 0.1M405.2 56.4l0.1 0.3" stroke="#2a40b0" stroke-width="2.5"/>
<path d="M315.5 51.7l1.0 0.5M382.0 35.8l0.3 0.1M401.2 53.8l0.5 0.8M372.7 36.0l0.2 1.3M317.7 55.8l-0.0 0.0M396.7 76.1l-0.1 1.4M317.4 35.2l-0.9 0.5M360.6 76.9l0.2 0.3M319.5 70.9l0.0 0.0M342.6 58.2l0.8 0.3M402.3 53.7l-0.0 0.2M326.7 89.5l0.9 0.4M313.4 48.0l0.4 0.5M355.9 85.4l0.1 0.5M388.5 37.8l1.1 0.1M355.6 85.3l-0.0 0.3" stroke="#12206a" stroke-width="3.5"/>
<path d="M310.3 85.0l-0.2 0.2M368.2 83.2l-0.1 0.3M379.2 73.6l0.0 0.1M377.7 90.3l0.2 0.6M337.0 59.3l0.3 0.3M354.2 52.7l0.6 0.7M399.5 78.4l-0.1 0.8M377.6 58.8l0.3 0.0M342.0 45.8l0.3 0.2M320.6 48.6l0.1 0.7M403.8 90.0l0.1 0.1M360.7 85.2l-0.1 0.0M321.4 60.1l0.7 0.1M378.4 57.0l0.4 0.5M385.8 55.3l0.0 0.1M327.6 26.8l0.1 0.4M334.4 59.3l-0.2 0.4M404.4 81.4l0.0 0.3" stroke="#182880" stroke-width="2.0"/>
<path d="M402.6 67.1l0.2 0.1M368.7 25.9l-0.2 0.1M309.8 88.5l0.1 0.5M355.6 71.2l-0.8 0.2M406.3 50.2l-0.1 0.7M367.0 33.5l-0.0 0.1M305.2 58.0l0.3 0.9M366.7 48.3l-0.5 0.1M305.4 48.5l0.0 0.4M401.7 27.7l-0.0 0.2M395.2 59.6l-0.4 0.1M312.6 69.4l-0.0 0.0M405.7 39.9l0.6 0.5M318.8 71.2l0.0 0.7M318.9 84.4l0.3 0.1M366.0 72.5l-0.7 0.5" stroke="#3a50b8" stroke-width="2.0"/>
<path d="M368.0 63.1l0.2 0.1M357.9 27.8l0.0 0.1M342.2 68.0l-0.1 0.2" stroke="#142274" stroke-width="1.5"/>
<path d="M325.9 27.6l0.3 0.1M314.3 89.0l0.2 0.2M304.0 40.3l0.1 0.2M310.3 66.3l0.5 0.5M350.6 79.1l0.2 0.4M346.8 75.1l0.3 0.3M324.9 65.7l-0.0 0.0M303.7 34.1l-1.0 0.7M348.3 59.1l0.0 0.3M379.0 55.6l-0.3 0.1M359.3 89.9l0.0 0.1M389.8 75.1l-0.5 0.3M358.3 56.1l0.1 0.3" stroke="#2238a8" stroke-width="3.0"/>
<path d="M387.1 81.3l0.2 0.3M300.8 83.4l-0.2 0.0M309.1 55.3l0.0 0.1M326.0 61.0l0.2 0.7M379.3 81.4l0.1 0.0M369.3 70.8l-0.2 0.1M374.3 88.6l0.7 0.0M330.3 61.1l0.3 0.2M401.7 43.4l-0.5 0.1M387.1 61.3l0.0 0.3M337.0 84.7l-0.1 0.9M307.2 43.3l0.0 0.2M373.8 44.6l0.1 0.0M358.6 60.7l-0.1 0.3M344.7 44.8l0.3 0.5M326.0 73.6l0.3 0.7M306.4 44.7l-0.9 0.0M394.7 44.0l0.1 0.5M347.6 39.4l0.1 0.1" stroke="#2238a8" stroke-width="2.0"/>
<path d="M373.5 62.2l0.1 0.1M302.8 57.4l0.3 0.6M392.8 79.7l-0.9 0.6M357.7 51.8l0.1 0.1M370.0 36.6l-0.7 0.4M328.9 33.5l-0.6 0.5M310.3 84.5l-0.5 0.5M394.3 78.7l0.3 0.1M334.8 90.5l0.5 0.0M303.2 90.6l-0.4 0.1M306.6 40.3l-0.4 0.3M319.1 56.1l0.7 0.2M390.7 36.2l-0.7 0.2M365.1 35.8l0.0 0.5M327.5 48.8l0.9 0.1M400.4 67.1l-0.0 0.0" stroke="#2238a8" stroke-width="2.5"/>
<path d="M367.4 26.2l0.5 0.2M320.5 58.3l0.1 0.3M348.3 81.1l0.2 0.0M365.7 47.6l-0.5 0.8M377.8 62.6l-0.7 0.2M378.1 71.7l-0.1 0.1M388.4 33.9l-0.5 0.5M397.2 62.0l-0.1 0.0M365.3 56.8l0.5 0.9M327.2 67.0l0.0 0.1M393.9 52.1l0.0 0.7M325.6 79.2l-0.8 0.5M369.3 44.2l0.3 1.1M359.9 40.9l-0.1 0.1M374.8 76.3l-0.9 0.2M358.5 80.3l0.5 0.0M377.1 82.4l0.0 1.1M394.6 26.7l0.5 0.2M300.4 58.4l1.0 0.0M367.8 67.7l0.2 0.4M406.3 66.2l0.1 0.2" stroke="#0c1450" stroke-width="2.5"/>
<path d="M379.2 56.2l0.2 0.1M346.1 44.8l0.2 0.6M338.4 63.9l-0.7 0.1M354.6 63.1l0.1 0.0M325.3 88.1l-0.5 0.4M367.5 40.4l-0.0 0.2M314.4 46.1l0.3 0.8M369.7 72.5l-0.6 0.6M345.3 36.4l0.4 0.1M378.9 58.0l-0.0 0.6M406.5 52.3l-0.2 0.1M303.8 70.2l-0.3 0.1M316.1 27.1l-0.1 0.1M358.0 88.9l0.0 0.3M352.4 44.7l-0.8 0.5M398.4 27.2l-0.1 0.3M396.8 71.6l-0.0 0.1M362.1 35.4l-0.0 0.6" stroke="#080c30" stroke-width="2.0"/>
<path d="M312.0 70.6l-0.2 0.6M397.8 77.2l-0.1 0.3M341.0 37.4l-0.2 0.1M389.6 61.7l-0.4 0.4M381.3 85.6l-0.6 0.9M362.5 41.7l-0.0 0.6M378.9 81.2l-0.0 0.2M402.0 57.9l-0.3 0.4M301.9 82.7l1.0 0.2M389.0 73.6l-0.0 1.1M400.4 45.4l0.5 1.4M388.9 38.8l0.1 0.1M386.9 71.4l-0.2 0.4M369.9 89.1l-0.8 1.0M365.7 29.4l0.5 0.8M340.6 66.8l-0.7 0.1" stroke="#182a8a" stroke-width="3.5"/>
<path d="M354.6 58.7l0.1 0.2M314.9 43.4l-1.1 0.8M351.9 81.9l-0.2 0.1M379.6 82.7l0.2 1.0M384.8 64.2l-1.1 0.1M319.9 68.6l0.5 0.0M407.8 45.9l-0.4 0.3M361.1 49.2l1.4 0.5M376.6 69.7l-1.3 0.9" stroke="#182880" stroke-width="3.5"/>
<path d="M328.1 81.0l0.4 0.1M369.2 66.7l-0.6 0.8M354.3 34.0l-0.5 0.4M380.1 65.9l0.7 0.1M402.3 85.3l0.5 0.1M365.4 29.6l-0.5 0.2M381.4 38.1l0.2 0.9M329.6 57.0l0.3 0.0M352.9 52.9l-0.3 0.1M326.5 42.6l0.0 0.1M374.5 80.8l-0.9 0.6M404.7 67.8l0.3 0.3M396.0 57.5l-0.5 0.4M353.4 47.5l-0.1 0.2" stroke="#182a8a" stroke-width="2.5"/>
<path d="M406.6 28.2l1.1 0.2M347.3 78.6l0.3 0.1M366.5 31.3l-0.1 0.3M359.4 58.6l-0.1 0.3M335.4 26.5l-0.2 0.0M307.6 52.6l0.8 0.5M356.2 44.4l0.3 0.9M353.1 40.3l-0.1 0.1M346.3 70.3l0.4 0.7M383.8 46.4l0.8 0.6M395.1 38.2l0.5 0.1" stroke="#3a50b8" stroke-width="2.5"/>
<path d="M399.8 40.5l-0.6 0.9M394.4 39.5l0.1 0.8M308.6 85.2l-0.4 0.3M406.7 34.7l0.0 0.0M378.3 90.3l0.2 0.2M333.9 62.9l-0.8 0.1M360.9 56.6l0.4 0.0M386.2 81.4l0.4 0.9M404.7 58.8l0.3 0.1M345.7 50.7l-0.2 0.5M315.4 32.6l0.1 0.0M365.4 53.3l0.7 0.7M371.9 28.1l-0.2 0.7M332.4 78.5l-0.7 0.0M368.7 29.3l0.7 0.1M330.7 70.5l-0.1 0.3M398.6 68.8l0.1 0.0M333.1 75.4l-0.1 0.2" stroke="#1c3298" stroke-width="2.5"/>
<path d="M378.0 63.9l-0.4 1.4M403.5 26.8l-0.5 0.9M332.6 45.3l-0.8 0.3M387.5 86.2l0.1 0.1M301.9 76.8l0.5 1.1M374.9 29.4l0.1 0.6M357.7 69.6l0.1 0.1M340.5 74.6l-0.2 0.4" stroke="#0a0e38" stroke-width="3.5"/>
<path d="M316.0 31.4l-0.2 0.1M353.7 89.8l-0.1 0.6M352.1 86.4l1.2 0.2M317.0 27.7l0.2 0.6M346.3 31.7l0.5 0.2M326.2 89.3l-0.3 0.2M336.7 29.2l0.2 0.4M327.7 30.9l0.2 0.0M354.0 46.3l0.6 0.3M308.2 33.7l-0.6 1.3M369.9 88.3l-1.1 0.2M390.3 78.7l-0.8 0.4M331.3 32.4l-0.3 0.0M339.7 29.9l1.2 0.5M396.6 64.4l1.0 0.1M314.1 58.3l-0.5 0.0M310.3 51.5l-0.1 0.6" stroke="#142274" stroke-width="3.0"/>
<path d="M383.6 73.6l0.4 0.1M401.3 81.2l-0.1 0.1M332.2 75.9l-0.3 0.7M395.3 88.0l0.9 0.3M322.2 32.3l-0.1 0.2M351.2 29.7l-0.1 0.0M360.8 60.5l-0.6 0.5M323.2 78.1l-0.0 0.3M333.9 36.7l-1.0 0.5M332.6 66.9l0.1 0.5M328.1 35.1l-0.1 0.0M314.6 88.7l0.3 0.2M397.5 73.1l0.7 0.8M368.8 64.6l0.8 0.2M347.6 82.5l-0.1 0.0M354.1 87.3l-0.7 0.3M341.9 77.8l-0.0 0.0M373.8 59.3l-0.4 0.2M399.2 38.4l-0.2 0.3" stroke="#080c30" stroke-width="2.5"/>
<path d="M394.8 29.8l0.0 0.3M342.6 81.1l-0.6 0.6M346.4 36.0l-0.4 0.1M338.3 66.2l0.0 0.1M373.5 76.1l0.1 0.8M372.9 85.0l-0.1 0.0M406.0 58.4l-0.0 0.1M403.0 38.7l-0.1 0.4M377.7 26.4l-0.1 0.1M322.6 27.0l0.0 0.0M314.7 39.1l-0.3 0.1M378.7 57.6l0.5 0.7M381.1 30.3l0.0 0.0M334.0 46.4l0.1 0.1M350.8 89.2l-0.2 0.1M393.5 79.5l-0.2 0.6M325.0 67.0l-0.5 0.3M384.4 47.4l-0.3 0.7M340.9 41.2l-0.0 0.9M380.2 61.1l0.8 0.2" stroke="#0c1450" stroke-width="2.0"/>
<path d="M362.1 63.8l-0.2 0.7M398.0 43.5l0.3 0.5" stroke="#182a8a" stroke-width="1.5"/>
<path d="M403.0 67.0l-0.6 0.3M306.6 74.7l-0.9 0.7M370.3 70.2l-1.0 0.7M385.5 43.0l0.7 0.6M383.7 75.9l-0.3 0.1M400.8 66.6l0.1 0.1M364.8 57.5l1.2 0.0M332.4 82.6l-1.0 0.6M309.1 32.7l-0.2 0.2M375.8 28.9l-1.0 0.2M317.8 48.6l0.6 0.4" stroke="#1c3298" stroke-width="3.5"/>
<path d="M392.2 80.5l-0.0 0.0M311.9 43.9l0.0 0.4M312.1 67.3l-0.7 0.2M315.6 33.9l0.6 0.2M387.7 37.8l0.7 0.6M387.9 89.7l-0.1 0.1M406.9 42.3l0.3 0.4M336.2 35.5l0.0 0.1M396.3 32.7l-0.1 0.2M360.7 55.1l0.3 0.7M350.9 59.6l-0.1 0.2M387.3 69.4l-0.5 0.1M323.1 44.1l-0.3 0.4M302.8 40.0l-0.0 0.0M372.5 45.8l-0.5 0.1M384.7 43.8l0.1 0.5M389.8 81.7l-0.0 0.1M383.6 33.8l0.6 0.1M320.6 45.3l-0.4 0.1" stroke="#0a0e38" stroke-width="2.0"/>
<path d="M354.3 41.4l-0.3 0.8M335.3 46.7l-0.4 0.7M309.6 84.8l-0.6 0.4M404.6 27.0l-0.2 0.1M404.8 75.3l0.2 0.0M337.1 53.1l-0.3 0.5M398.6 48.0l-0.0 0.1M305.7 84.3l-0.7 0.3M372.9 28.4l1.0 0.4M400.5 53.9l-1.2 0.0M326.7 67.7l0.8 0.6M331.6 54.2l-0.4 0.2M404.8 33.1l-0.7 0.4M318.3 34.5l-0.1 0.9M381.1 37.9l-0.1 0.2M347.8 31.7l-0.0 0.1M354.3 52.6l0.1 0.8" stroke="#12206a" stroke-width="3.0"/>
<path d="M309.8 83.7l-0.5 0.6M378.7 73.3l-0.8 0.2M317.9 50.6l-0.3 1.3M403.6 29.9l-0.9 0.6M354.2 67.1l-0.7 1.0M351.9 50.9l0.5 0.0M369.9 59.7l-1.3 0.1M334.9 51.1l-0.3 0.5M368.7 43.6l0.3 1.1M405.5 88.2l0.0 0.4M356.5 26.9l0.8 0.7M403.8 41.1l-0.2 0.9M403.6 33.3l0.5 0.6M389.0 76.0l-0.1 0.1M396.0 40.0l-0.3 0.3M392.0 36.9l-0.5 1.0M339.7 76.4l-0.4 1.1M301.6 60.7l0.0 0.1M407.1 67.3l-0.1 1.1M307.0 48.4l-0.6 0.2M365.7 45.3l-0.2 1.1" stroke="#0a0e38" stroke-width="3.0"/>
<path d="M380.0 68.8l0.3 0.1M303.7 83.5l-0.2 0.0" stroke="#0a0e38" stroke-width="1.5"/>
<path d="M305.6 67.6l0.1 0.5M386.3 44.8l0.1 0.2M399.9 32.8l0.1 0.2M317.3 51.1l0.0 0.2M334.9 63.1l-0.8 0.8M366.6 76.3l0.5 0.5M398.4 37.1l0.0 0.2M333.3 84.3l0.4 0.1M393.2 75.7l0.3 1.1M381.0 34.3l-0.0 0.6M331.1 78.1l0.4 0.6M352.5 55.4l0.6 0.4M337.9 49.5l1.0 0.3M354.2 61.5l0.1 0.2M406.2 62.2l-0.4 0.4M357.5 43.5l-0.0 0.4M362.4 58.7l1.0 0.2M381.1 58.3l-0.1 1.1M390.9 44.8l-1.0 0.4M397.1 43.1l-0.9 0.0M362.5 32.7l-1.0 0.2M320.9 89.8l0.3 0.9" stroke="#3a50b8" stroke-width="3.0"/>
<path d="M377.0 58.6l-0.1 1.0M304.0 60.8l0.5 0.4M383.3 64.1l0.6 1.3M303.0 62.3l-0.9 0.4M358.3 67.9l0.2 1.1M306.7 49.1l0.1 0.3M306.9 79.7l-0.3 0.8M391.1 76.0l-0.0 0.0M312.9 79.8l-0.2 0.6M399.2 81.0l0.6 0.5M329.9 63.3l-0.2 0.7" stroke="#2238a8" stroke-width="3.5"/>
<path d="M342.1 43.6l0.4 0.2M406.4 85.1l-0.2 0.2M381.0 61.8l0.2 0.1M376.9 62.9l-0.0 0.1M338.2 83.1l0.2 0.2M394.8 77.5l0.1 0.3M322.4 69.4l-0.4 0.1M393.0 47.3l-0.2 0.5M367.0 79.1l-0.7 0.4M328.4 79.3l-0.0 0.0M322.8 51.2l0.7 0.6M384.8 81.1l-0.4 0.1M321.9 46.1l-0.5 0.1" stroke="#142274" stroke-width="2.0"/>
<path d="M400.1 58.5l0.0 0.0M342.9 76.6l0.2 0.3M355.7 81.8l0.6 0.0M373.3 56.6l-0.3 0.0M369.5 75.3l-0.1 0.2M332.8 85.6l0.0 0.0M308.9 28.3l-0.1 0.5M304.6 89.7l-0.4 0.2M376.0 56.0l-0.6 0.3M379.5 35.2l0.4 0.1M310.7 39.5l0.7 0.1M347.4 55.2l-0.3 0.3M390.0 84.5l-0.7 0.1M382.8 70.8l-0.1 0.2M390.1 60.1l-0.6 0.1M388.2 80.5l-0.1 0.0M404.0 87.1l-0.5 0.5M400.6 46.9l0.2 0.1M389.5 41.4l0.4 0.5M383.4 60.9l0.7 0.2M357.7 77.4l-0.1 0.0M407.3 79.0l-0.5 0.3" stroke="#12206a" stroke-width="2.0"/>
<path d="M363.1 43.0l-0.3 0.4M390.0 61.8l0.1 0.4M391.4 47.8l-0.1 0.3M380.8 69.7l0.3 0.6M329.7 40.8l-0.4 1.2M329.2 80.8l-0.4 0.6M400.0 37.9l0.7 1.1M361.9 69.0l0.3 0.0M322.1 38.6l0.5 1.1M398.1 41.5l-0.1 0.1" stroke="#2a40b0" stroke-width="3.5"/>
<path d="M350.0 75.0l-0.2 0.5M395.8 72.4l0.3 0.6M387.1 27.3l-0.6 0.4" stroke="#2a40b0" stroke-width="1.5"/>
<path d="M391.1 39.0l-0.5 0.5" stroke="#080c30" stroke-width="1.5"/>
<path d="M301.4 51.5l0.0 0.3M408.0 80.3l0.4 0.4" stroke="#3a50b8" stroke-width="1.5"/>
<path d="M391.0 54.1l-0.3 0.0" stroke="#2238a8" stroke-width="1.5"/>
<path d="M393.0 45.5l0.6 0.3M397.1 79.3l0.6 0.0" stroke="#182880" stroke-width="1.5"/>
<path d="M395.2 72.1l0.3 0.0" stroke="#1c3298" stroke-width="1.5"/>
<path d="M322.4 48.7l-0.5 0.2M341.4 88.1l-0.0 0.1" stroke="#0c1450" stroke-width="1.5"/>
<path d="M394.4 53.6l0.8 0.1M364.3 70.7l-0.0 0.1M345.1 72.2l0.2 0.5M320.1 63.2l0.2 0.3M395.0 58.3l-0.0 0.1M334.1 74.1l0.4 0.0M356.3 68.9l0.3 0.0M320.3 59.9l-0.3 0.4M331.3 27.2l0.4 0.4" stroke="#ffffff" stroke-width="2.0" stroke-opacity="0.85"/>
<path d="M342.9 51.7l0.4 0.2M378.5 56.7l0.0 0.0M376.4 34.7l-0.1 0.4M385.2 38.3l0.7 0.0M367.4 70.3l-0.0 0.1M339.2 67.8l-0.0 0.1M388.7 71.3l-0.4 0.1" stroke="#e0f0c8" stroke-width="2.0" stroke-opacity="0.85"/>
<path d="M342.4 47.4l0.3 0.1M332.8 60.4l-0.6 0.3M387.5 48.5l0.1 0.1M324.6 67.3l0.1 0.1M334.1 69.0l0.1 0.2M324.6 93.3l0.1 0.2M340.1 53.1l0.2 0.1" stroke="#c8d8e8" stroke-width="2.0" stroke-opacity="0.85"/>
<path d="M364.5 42.7l0.1 0.6M305.5 64.7l-0.1 0.1M356.0 67.8l0.0 0.1M348.5 76.2l0.1 0.0M337.9 66.1l0.4 0.0M357.0 70.8l-0.2 0.4M346.8 58.1l0.0 0.0" stroke="#f0f0d0" stroke-width="1.5" stroke-opacity="0.85"/>
<path d="M326.5 69.1l-0.6 0.3M358.0 59.7l0.5 1.0M364.6 73.6l-0.0 0.2M340.8 59.3l-0.2 0.1M341.6 73.9l-0.0 0.0M331.4 68.9l0.6 0.2M353.6 32.9l-0.2 0.3" stroke="#e8f0f0" stroke-width="2.5" stroke-opacity="0.85"/>
<path d="M362.8 63.5l-0.1 0.1" stroke="#f0f0d0" stroke-width="2.5" stroke-opacity="0.85"/>
<path d="M345.5 75.8l0.3 0.3M349.9 59.9l0.0 0.9M317.0 49.1l-0.0 0.6M342.1 42.0l-0.2 0.7M361.0 62.2l-0.5 0.6" stroke="#f0f0d0" stroke-width="2.0" stroke-opacity="0.85"/>
<path d="M325.8 35.7l0.2 0.6M335.5 55.6l-0.5 0.2M370.2 56.7l0.5 0.3M345.5 65.4l0.5 0.7M340.5 21.3l0.8 0.1M341.5 48.8l-0.0 0.0" stroke="#e8f0f0" stroke-width="2.0" stroke-opacity="0.85"/>
<path d="M339.2 98.4l0.1 0.0M322.0 86.3l-0.0 0.6M392.8 34.6l-0.2 0.4M343.9 52.1l0.1 0.2" stroke="#e8f0f0" stroke-width="1.5" stroke-opacity="0.85"/>
<path d="M365.1 40.5l-0.7 0.4M389.5 39.2l-0.1 0.1" stroke="#d8e8d8" stroke-width="2.5" stroke-opacity="0.85"/>
<path d="M400.1 72.7l-0.7 0.1M345.9 57.1l0.5 0.6M396.1 75.9l1.0 0.4M352.2 71.6l0.2 0.1M390.0 58.1l-0.1 0.7M337.4 24.8l0.1 0.2" stroke="#ffffff" stroke-width="2.5" stroke-opacity="0.85"/>
<path d="M305.7 64.3l1.0 0.0M336.7 97.9l0.7 0.7M320.5 77.9l-1.1 0.0M351.8 47.8l0.0 0.4M373.0 58.2l-0.1 0.0" stroke="#c8d8e8" stroke-width="2.5" stroke-opacity="0.85"/>
<path d="M370.5 39.2l-0.2 0.2M437.8 73.9l-0.5 0.1M356.1 66.3l0.2 0.4" stroke="#e0f0c8" stroke-width="1.5" stroke-opacity="0.85"/>
<path d="M377.8 26.8l-0.4 0.3M340.4 43.0l-0.1 0.6M353.9 56.4l-0.0 0.2M358.2 67.0l0.4 0.4M341.1 55.1l0.0 0.0" stroke="#d8e8d8" stroke-width="1.5" stroke-opacity="0.85"/>
<path d="M366.6 42.5l0.4 0.5M323.7 40.0l-0.0 0.3M330.8 54.6l0.2 0.1M374.0 42.6l0.4 0.6M308.4 47.1l-0.8 0.2M335.1 22.3l-0.1 0.1M338.1 57.3l0.3 0.5" stroke="#d8e8d8" stroke-width="2.0" stroke-opacity="0.85"/>
<path d="M372.5 60.6l0.2 0.0" stroke="#e8f0f0" stroke-width="1.0" stroke-opacity="0.85"/>
<path d="M324.7 45.7l0.3 0.2M355.3 71.8l-0.1 0.3M353.9 59.2l-0.5 0.0" stroke="#ffffff" stroke-width="1.0" stroke-opacity="0.85"/>
<path d="M361.4 51.4l-0.1 0.3M327.4 48.8l-0.1 0.1" stroke="#e0f0c8" stroke-width="1.0" stroke-opacity="0.85"/>
<path d="M380.3 50.9l-0.3 0.0" stroke="#d8e8d8" stroke-width="1.0" stroke-opacity="0.85"/>
<path d="M323.0 89.8l-0.1 0.0M335.0 83.5l0.2 0.3M399.3 77.3l-0.1 0.1" stroke="#c8d8e8" stroke-width="1.5" stroke-opacity="0.85"/>
<path d="M373.3 50.2l0.5 0.1M375.6 40.8l0.1 0.6M345.0 73.6l-0.2 0.0M353.2 60.1l0.2 0.1" stroke="#ffffff" stroke-width="1.5" stroke-opacity="0.85"/>
</g></g>
<clipPath id="c3"><rect x="410.3" y="25.8" width="108.6" height="64.9"/></clipPath>
<g clip-path="url(#c3)" stroke-linecap="round" fill="none"><rect x="410.3" y="25.8" width="108.6" height="64.9" fill="#04061a"/><g>
<path d="M517.3 41.6l0.0 1.1M421.6 33.6l-1.0 1.0M421.2 83.0l-0.7 1.0M448.6 59.8l0.9 1.2M505.1 69.5l-0.5 0.2M427.6 54.5l0.4 1.0M456.1 67.4l-0.1 0.1M416.0 43.2l-0.6 0.8M466.6 38.0l0.4 0.8M488.5 40.5l-0.3 0.1M484.9 55.9l-0.7 0.0M415.9 33.5l0.5 0.2M504.4 49.9l-0.7 0.6M506.4 73.2l-0.5 0.1M445.0 32.1l0.5 0.9M516.3 55.9l-0.4 0.3" stroke="#1a2488" stroke-width="3.5"/>
<path d="M436.8 34.0l-0.2 0.5M431.8 71.8l0.3 0.1M468.5 43.6l-0.0 0.4M418.3 30.4l-0.0 0.4M425.9 77.7l-0.0 0.0M433.5 49.1l-0.1 0.9M490.5 27.8l0.4 0.5M415.2 75.1l0.1 0.0M479.4 79.0l0.7 0.3M436.5 51.4l-0.0 0.5M431.1 41.5l-0.6 0.1M458.4 65.6l0.5 0.5M446.8 79.5l0.1 0.0M440.4 52.2l0.3 0.1M460.3 65.4l0.3 0.0M480.0 61.7l-0.1 0.1M499.3 50.5l0.0 0.1M482.7 83.4l-0.0 0.0M482.2 78.6l-0.4 0.3" stroke="#24309e" stroke-width="2.0"/>
<path d="M493.6 50.4l-0.3 0.5M461.6 51.2l0.5 0.6M440.4 26.0l-1.1 0.0M444.0 52.9l0.0 0.2M506.0 72.8l-1.1 0.1M517.2 47.1l0.5 1.2M449.0 38.7l-1.0 0.5M418.8 31.9l-0.1 0.7M484.3 51.3l-0.1 0.2M457.2 29.9l-0.2 0.0M512.9 69.3l-0.2 0.1M463.6 70.7l0.4 0.3M498.1 68.6l-0.9 0.6M482.3 83.5l0.1 0.1M421.4 60.2l0.7 0.1M465.7 63.4l-0.0 0.1M502.3 49.8l-0.6 1.0" stroke="#3040b4" stroke-width="3.0"/>
<path d="M511.3 52.8l0.0 0.2M455.7 62.1l-0.4 0.6M465.2 73.0l0.8 0.6M510.1 78.8l-0.4 0.1M449.8 68.3l0.0 0.0M477.5 88.2l0.1 0.0M487.3 65.5l-0.8 0.9M434.9 68.5l-0.0 0.3M462.8 65.1l0.2 0.7M442.7 66.9l-0.3 0.3M447.1 79.1l0.6 0.1M476.4 64.8l-1.0 0.1M512.1 65.7l0.2 1.0M511.0 28.4l-0.7 0.5M442.0 68.6l-0.0 0.8M433.8 34.0l0.2 0.7" stroke="#2834a8" stroke-width="2.5"/>
<path d="M476.3 42.9l-0.1 0.4M422.3 87.7l0.2 0.3M497.2 63.6l1.2 0.1M487.2 82.0l0.8 0.3M420.0 55.9l-0.4 1.0M504.5 75.7l-0.9 0.2M437.9 64.4l-0.0 0.2M414.3 55.8l0.7 0.2M423.8 28.9l0.0 0.1M495.4 50.9l-0.1 0.2M441.2 87.6l-0.7 1.0M482.9 77.2l0.7 0.1M472.5 60.8l-0.0 0.7M437.1 82.3l-0.0 0.2M442.2 28.6l0.0 1.0M419.6 82.4l-0.4 0.4" stroke="#2e3cb4" stroke-width="2.5"/>
<path d="M429.9 74.0l-0.1 0.5M428.9 33.0l0.8 0.9M486.0 26.9l-0.5 0.6M448.2 34.5l-0.7 0.1M498.3 34.0l0.1 0.1M412.1 60.3l0.5 0.5M511.7 45.6l-0.3 1.1M493.6 60.9l-0.1 0.0M469.5 56.5l0.1 1.1M507.1 72.2l-1.0 0.1M500.5 45.3l1.3 0.4M451.3 54.2l-0.1 0.0" stroke="#2834a8" stroke-width="3.5"/>
<path d="M424.0 42.8l0.9 0.1M413.6 51.5l-0.7 0.3M419.2 54.9l0.2 0.8M476.8 27.5l-0.1 0.6M448.0 31.0l-0.1 0.4M505.1 58.1l0.2 0.4M425.6 63.6l0.7 0.4M415.6 84.4l-0.2 0.8M502.9 79.3l-0.8 0.5M426.6 73.7l0.5 0.4M437.9 82.4l0.1 0.1M503.8 59.7l-0.0 0.3M443.7 79.1l0.8 0.3M505.3 88.6l0.8 0.2M450.1 69.2l-0.1 0.5M454.4 34.8l-0.8 0.2M493.0 44.9l0.5 0.1" stroke="#2834a8" stroke-width="2.0"/>
<path d="M443.8 55.2l0.6 0.4M456.1 28.6l0.5 0.4M436.8 60.4l-0.3 0.6M515.7 40.9l0.3 0.3M469.5 28.6l0.5 0.5M503.1 35.1l-0.3 0.2M412.4 51.0l-0.2 0.7M432.0 27.4l0.0 0.2M491.3 45.6l0.2 0.7M448.4 60.8l0.2 0.1M487.9 70.4l0.2 0.5M502.1 54.0l-0.1 1.0M443.4 85.5l-0.4 0.2M510.9 46.3l0.0 0.6" stroke="#3040b4" stroke-width="2.0"/>
<path d="M499.4 90.3l0.2 0.9M426.6 50.7l-0.4 0.4M449.4 88.2l-0.6 0.3M501.6 84.3l-0.2 0.2M460.2 28.2l0.0 0.0M413.9 63.5l0.5 0.2M478.1 72.4l0.3 0.3M479.1 53.0l-1.0 0.3M446.9 28.0l-0.1 0.5M484.0 35.6l-0.9 0.5M484.8 65.7l0.4 0.8M444.2 28.3l1.0 1.0M469.9 70.3l-0.1 0.3M509.6 63.1l1.2 0.4M511.9 74.9l0.8 0.1M481.4 37.0l0.4 0.2M445.9 62.9l-0.2 0.3M478.2 78.4l-0.8 0.6M478.6 65.7l-0.3 0.4M413.8 66.5l-0.0 0.0M446.6 72.0l0.1 0.3M455.6 76.6l-0.2 0.1" stroke="#141c6a" stroke-width="3.0"/>
<path d="M483.6 34.2l-0.2 0.1M480.1 88.2l0.0 0.0M414.1 55.3l-0.3 0.8M460.2 34.4l-0.0 0.4M472.5 56.8l-0.0 0.0M475.1 57.3l1.0 0.4M485.8 77.1l0.1 0.3M491.6 35.1l0.6 0.7M513.0 72.2l0.5 0.6M453.2 67.5l-0.0 0.0M471.0 73.7l-0.5 0.7M477.5 44.6l-0.8 0.4M460.4 78.0l-0.4 0.6M481.4 63.3l0.1 0.1M516.6 64.6l0.5 0.6M485.6 88.8l-0.0 0.0M454.4 82.1l0.0 0.2M422.6 69.1l0.3 0.2M432.5 75.6l-0.1 0.1M465.1 66.1l-0.8 0.3M421.8 34.6l-0.2 0.1" stroke="#0e1450" stroke-width="2.5"/>
<path d="M433.6 26.5l0.8 0.5M414.1 56.9l0.1 0.5M504.3 85.2l-0.3 0.1M431.8 79.6l0.7 0.2M440.0 60.0l-0.4 0.5M496.7 28.1l-0.0 0.1M425.6 88.8l0.5 0.8M447.1 77.6l-0.7 1.1M471.5 29.1l-0.1 0.3M480.7 41.7l-0.0 0.1M441.1 36.3l0.4 0.4M429.0 52.9l0.4 0.1M432.8 38.0l0.2 1.5M431.8 69.5l1.5 0.1M420.5 78.3l-1.4 0.2" stroke="#161e78" stroke-width="3.5"/>
<path d="M477.2 80.0l-0.7 0.6M479.4 89.9l-0.1 0.1M453.7 65.4l0.2 0.4M489.9 52.8l1.0 0.3M452.8 83.5l0.2 0.4M492.3 27.2l0.8 0.6M465.3 28.1l-0.4 0.7M508.3 64.6l-0.4 0.7M509.5 84.7l-0.0 0.2M468.4 75.2l0.0 0.0M487.1 86.6l0.0 0.0M468.2 40.1l-0.9 0.1M496.3 30.8l-0.1 0.0" stroke="#1e2a96" stroke-width="2.5"/>
<path d="M466.2 76.2l-0.0 0.2M453.8 48.3l0.3 0.7M439.1 29.7l0.1 0.5M515.8 85.6l-0.3 0.0M431.1 85.0l0.3 0.5M456.4 26.1l0.4 0.4M444.9 43.1l-0.9 0.1M429.1 29.0l-0.0 0.6M481.5 52.2l0.9 0.1M424.8 62.4l0.1 0.1" stroke="#1e2a96" stroke-width="2.0"/>
<path d="M516.4 75.1l-0.1 1.4M458.5 77.4l-0.6 0.1M510.7 30.1l-1.4 0.0M412.1 57.4l-0.6 0.5M455.6 80.5l0.5 1.0M429.1 34.9l0.2 0.1M517.2 49.0l-1.2 0.1M503.3 41.2l-0.2 0.8M439.2 31.0l0.3 0.1M483.0 41.9l0.1 0.2M476.2 78.3l0.1 0.1" stroke="#3040b4" stroke-width="3.5"/>
<path d="M459.5 33.2l0.4 0.4M458.8 56.2l-0.3 1.2M420.8 27.6l-0.1 0.0M490.1 73.4l1.1 0.0M509.7 69.6l-0.3 0.1M457.7 74.5l0.0 0.9M472.9 29.1l1.0 1.0M414.8 90.3l-0.0 0.1M488.3 68.1l-0.1 0.8M413.9 33.1l-0.9 0.2M491.2 47.2l-0.2 0.3M450.1 53.3l-0.3 0.1M435.3 57.5l0.6 0.3M440.9 78.9l-0.3 0.1M502.9 57.0l0.2 0.0" stroke="#2e3cb4" stroke-width="3.0"/>
<path d="M515.5 41.1l-0.5 1.1M456.4 56.0l0.5 0.2M496.8 75.3l0.2 0.1M447.0 32.6l0.8 0.6M495.8 71.0l0.3 0.3M416.7 69.4l-0.4 1.1M430.7 61.7l0.9 0.8M473.5 34.4l-0.1 0.3M487.2 76.6l-0.5 1.0M503.5 55.2l-0.1 0.1M483.8 50.6l0.0 0.8M454.3 87.0l-0.3 0.6M511.8 80.9l-0.1 0.1M431.6 29.6l-0.9 0.5M465.5 88.6l-0.5 0.1M480.7 87.4l-0.0 0.3M426.2 52.2l-0.1 0.1M516.7 33.3l0.6 0.8M427.5 43.9l0.4 0.1M501.9 88.5l-0.3 1.2M471.9 55.4l0.2 0.0M461.4 28.0l1.0 0.7M518.9 82.2l1.2 0.3M472.4 39.9l0.0 0.2" stroke="#161e78" stroke-width="3.0"/>
<path d="M508.2 48.0l0.2 0.0M479.7 58.4l-0.4 0.1M457.3 69.0l0.5 0.1M473.6 77.0l-0.4 0.1M497.5 41.7l0.2 0.1" stroke="#141c6a" stroke-width="1.5"/>
<path d="M444.1 73.7l0.1 0.0M451.9 35.0l0.1 0.6" stroke="#24309e" stroke-width="1.5"/>
<path d="M478.8 74.4l-0.6 0.4M493.9 84.5l0.5 0.3M445.8 33.0l-0.3 0.8M415.2 28.5l-0.0 0.4M514.7 56.2l-0.8 0.2M430.1 34.8l-0.1 0.0M449.5 66.7l-0.1 0.0M505.8 85.2l0.0 0.3M425.9 83.8l-0.6 0.1M433.5 32.5l-0.0 0.0M469.3 28.6l-0.0 0.9M467.8 61.9l0.3 0.4M483.0 40.6l-0.2 0.7M458.1 69.1l-0.2 0.2M436.8 80.3l-0.1 0.0M422.3 81.0l-0.4 0.3M427.6 40.9l0.2 0.1M491.8 71.5l0.4 0.8M454.6 39.0l-0.1 0.0M518.8 80.3l-0.5 0.5M436.4 44.2l0.4 0.3M457.8 43.9l0.6 0.2M493.5 64.7l-0.4 0.5M423.7 60.5l-0.5 0.1" stroke="#1a2488" stroke-width="2.0"/>
<path d="M458.4 81.7l0.0 0.9M450.7 71.5l0.2 0.1M462.1 68.2l-0.0 0.3M491.9 60.1l-0.3 0.9M445.1 56.5l0.4 0.1M503.1 45.1l0.6 0.2M517.1 86.6l-0.0 0.0M467.8 66.1l0.5 0.7M475.4 83.9l-0.1 0.3M468.2 33.5l0.1 0.1" stroke="#141c6a" stroke-width="2.0"/>
<path d="M516.2 87.9l0.3 0.4M516.0 71.3l0.1 0.0M499.0 47.9l0.1 0.0M464.0 52.9l0.1 0.9M507.4 37.5l0.4 0.9M442.6 44.5l0.5 0.5M469.4 48.6l-0.2 1.2M411.6 49.7l-0.6 0.1M493.8 50.4l-0.4 1.1M426.4 68.9l-0.4 0.3M415.1 87.1l0.2 0.3M506.0 59.3l0.2 0.2M454.2 90.6l-0.7 0.2M417.9 71.1l0.0 0.0M418.8 86.8l-0.9 0.3M430.3 34.8l0.2 0.4" stroke="#0e1450" stroke-width="3.5"/>
<path d="M496.7 29.2l0.1 0.3M474.3 83.1l0.0 0.2M457.8 39.8l0.3 0.1M441.2 59.0l0.9 0.6M435.5 87.9l0.5 0.6M453.0 66.2l-1.1 0.0M494.1 52.7l1.3 0.4M441.8 41.0l-0.8 0.8M448.7 39.2l0.1 0.2M453.9 59.7l-0.5 0.7M450.9 77.2l-0.5 0.2M474.4 50.3l-1.0 0.8M466.8 60.8l-0.2 0.4M426.8 32.2l0.1 1.3M474.6 59.2l-0.0 0.2M457.9 56.3l0.4 1.2M498.7 85.4l-0.3 0.5M434.7 83.5l1.1 0.7M504.9 62.5l0.3 0.0" stroke="#2834a8" stroke-width="3.0"/>
<path d="M514.6 83.0l-0.3 0.1M414.8 72.8l0.3 0.2M436.4 77.0l0.0 0.4M477.3 62.5l0.1 0.0M435.5 88.3l-0.4 0.2M436.4 49.5l0.3 0.1M468.5 30.7l0.8 0.0M512.8 45.6l0.2 0.2M429.5 29.6l0.1 0.1M422.4 35.2l-0.8 0.1M501.6 57.2l0.0 0.0M477.7 37.0l-0.2 0.5M501.2 38.6l0.7 0.2M484.3 83.2l-0.2 0.1M512.9 47.9l-0.2 0.8M429.0 90.0l-0.1 0.1M416.1 28.4l-0.5 0.4M488.2 82.5l-0.3 0.2M416.3 56.3l0.4 0.4" stroke="#161e78" stroke-width="2.0"/>
<path d="M452.7 58.9l0.3 0.2M497.9 33.0l0.1 0.1M431.2 31.7l0.2 0.1M419.7 52.9l0.3 0.1M437.4 25.9l-0.2 0.0M454.8 80.3l0.1 0.1M471.4 47.6l-0.3 0.1M457.9 80.7l0.1 0.1M515.9 65.1l-0.1 0.3M504.8 38.4l-0.2 0.3M491.0 70.3l0.6 0.3M469.6 26.9l0.1 0.0M474.2 44.8l-0.1 0.0M457.9 87.6l-0.1 0.0M484.9 37.0l-0.1 0.4M481.8 40.0l0.9 0.4M498.7 60.9l0.3 0.1M442.1 85.0l-0.7 0.2M481.2 28.2l0.2 0.5M512.7 49.2l-0.2 1.0M434.9 30.1l-0.8 0.4M505.7 46.4l-0.1 0.7M445.8 36.5l-0.5 0.4M416.9 73.6l0.6 0.4M434.1 63.9l0.5 0.1M434.3 64.2l0.4 0.2M412.2 67.8l-0.0 0.3M463.9 90.2l0.3 0.1M508.5 87.4l0.6 0.6M498.3 72.8l-0.0 0.8M506.0 71.2l0.6 0.5M494.2 29.0l0.5 0.4M492.5 35.7l0.2 0.1M459.1 41.2l-0.4 0.2M437.9 35.3l-0.3 0.1" stroke="#0e1450" stroke-width="2.0"/>
<path d="M498.7 45.4l0.0 0.2M417.8 63.8l-0.2 0.2" stroke="#3040b4" stroke-width="1.5"/>
<path d="M422.0 85.1l-0.4 0.3M494.9 43.3l-0.6 0.4M506.6 51.2l-0.6 0.3M411.1 46.1l0.0 0.2M434.7 51.0l0.3 1.0M414.8 56.6l-0.0 0.9M496.8 57.4l-0.6 0.1M515.3 64.1l-0.1 0.1M432.5 47.7l0.4 0.4M442.6 71.5l-0.1 0.6M449.4 40.1l0.2 0.5M460.2 68.4l-0.5 0.0M454.0 78.7l0.0 1.0M481.7 74.1l-0.5 0.4M422.6 31.5l-0.3 0.3M454.8 72.9l-0.1 0.1M433.1 45.0l-0.3 0.3M450.0 80.0l-0.4 0.4M493.8 82.4l-0.2 0.2M475.9 44.5l-0.1 0.2M423.7 54.2l-0.3 0.2M424.7 32.1l-0.2 0.8M421.2 69.2l0.4 0.5M471.3 87.0l0.0 0.1M509.0 74.8l0.0 0.1M491.1 45.5l-0.2 0.8" stroke="#161e78" stroke-width="2.5"/>
<path d="M507.7 33.3l0.3 0.5M518.0 41.6l0.8 0.3M511.0 56.7l-0.3 0.2M477.9 66.4l0.7 0.4M467.8 43.3l-0.9 0.5M464.0 67.6l-0.0 0.0M424.1 68.1l0.0 0.0M508.9 55.9l1.1 0.3M454.3 51.5l-0.8 0.1M412.4 82.0l-0.5 0.0M515.6 36.7l0.2 0.1M441.9 80.9l-0.8 0.8M416.6 37.8l0.3 0.4M482.3 41.9l0.2 0.2M476.6 46.9l-0.2 0.7M428.7 47.6l0.3 0.1M448.8 43.4l-0.3 0.2M417.3 35.6l0.2 0.1" stroke="#3040b4" stroke-width="2.5"/>
<path d="M513.5 75.2l-0.1 0.2M427.0 79.5l0.9 0.0M480.5 89.8l0.4 0.9M472.8 72.4l0.7 0.2M463.2 65.5l0.3 0.5M473.6 55.0l0.5 0.5M431.1 55.9l0.1 0.1M412.3 53.3l0.3 0.6M518.2 81.9l1.4 0.3M476.1 46.5l-0.2 0.6M471.0 46.0l0.3 0.1M480.3 28.4l0.0 0.1M445.4 46.6l0.5 0.3M460.3 84.2l1.2 0.3M492.6 72.3l-0.0 0.3M439.0 72.4l-0.4 1.4M492.2 25.8l-0.4 0.1M436.0 82.5l-0.5 1.1M486.9 59.2l1.3 0.2" stroke="#1e2a96" stroke-width="3.5"/>
<path d="M504.1 86.4l-0.3 0.1M471.1 81.5l-0.9 0.1M449.5 71.4l-0.4 0.3M422.1 55.8l0.3 0.1M426.8 51.3l0.5 0.1M444.6 89.8l-0.0 0.1M512.9 69.4l-0.3 0.1M478.9 34.9l-0.3 0.4M418.9 28.7l-0.6 0.4M503.1 40.2l0.6 0.1M513.0 86.0l0.3 0.6M477.5 81.6l-0.3 0.4M494.3 37.8l0.5 0.6M515.6 88.9l0.1 0.1M514.3 51.6l-0.7 0.4M518.6 84.4l0.1 0.3M487.7 57.2l-0.4 0.7M457.5 62.5l0.7 0.4M469.2 46.3l-0.5 0.0M415.7 65.3l0.0 0.2M498.9 37.5l0.5 0.7M497.0 27.9l0.0 0.1M431.1 82.8l0.4 0.4M491.8 50.8l0.1 0.4" stroke="#2e3cb4" stroke-width="2.0"/>
<path d="M415.5 89.8l-0.9 0.3M437.2 65.0l-0.3 0.3M447.2 85.3l-0.7 0.3M439.1 37.7l0.3 0.3M420.0 46.4l-0.4 0.1M514.8 78.7l-0.1 0.4M470.6 67.1l0.2 0.4M425.4 87.3l0.8 0.1M501.9 28.2l-1.1 0.3M492.2 33.2l0.7 0.2M475.7 55.3l-0.2 0.2M481.8 50.6l-0.5 0.5M490.7 59.3l-1.2 0.1M498.5 62.1l-0.1 0.0M447.7 47.5l0.3 0.7M505.0 65.3l0.2 0.2M504.0 76.7l-0.2 0.8M496.6 35.7l-0.7 0.2" stroke="#141c6a" stroke-width="2.5"/>
<path d="M486.1 40.5l0.1 0.1M426.7 53.6l-0.0 0.2M422.0 52.6l1.0 0.7M454.7 86.3l0.3 0.7M420.2 54.7l-0.6 0.7M413.1 50.3l-0.3 0.5M472.5 62.4l0.4 0.9M514.7 69.0l-0.5 0.3M422.7 54.9l0.1 0.1M416.2 38.7l-0.1 0.5M496.6 77.8l0.2 0.2M509.6 71.3l0.1 0.6M437.4 47.4l0.2 0.4M414.6 63.5l0.4 0.8M474.7 73.2l0.4 0.0" stroke="#24309e" stroke-width="3.0"/>
<path d="M508.6 49.4l-0.1 1.0M488.4 68.0l0.3 0.5M471.3 67.0l-0.2 0.3M470.7 89.4l-0.2 0.2M485.7 65.6l0.1 0.1M447.7 68.6l-0.0 0.0M491.1 37.2l0.3 0.0M426.4 35.6l0.3 1.3M478.9 27.4l-0.7 1.3" stroke="#24309e" stroke-width="3.5"/>
<path d="M432.1 30.4l0.1 0.3M451.5 65.8l0.4 0.7" stroke="#161e78" stroke-width="1.5"/>
<path d="M471.7 74.1l0.8 0.3M433.0 81.5l0.2 0.1M428.3 61.1l0.1 0.5M436.6 66.9l-0.3 0.1M499.9 86.7l0.3 0.5M457.5 80.9l-0.2 0.2M423.7 58.3l-0.2 0.4M502.9 33.5l0.0 0.0M510.5 65.1l0.3 0.2M467.5 45.1l-0.1 0.3M448.4 71.0l0.9 0.2M447.3 51.3l-0.4 0.4M443.3 43.3l0.7 0.4M507.7 73.6l-0.3 0.4" stroke="#24309e" stroke-width="2.5"/>
<path d="M501.9 74.7l0.0 0.6M476.8 44.3l-1.0 0.4M425.5 72.8l0.1 0.0M513.1 45.1l-1.0 0.1M498.2 26.3l-0.3 0.2M512.4 45.0l-0.2 1.0M474.0 90.0l-0.6 0.7M513.8 87.5l0.6 0.4M430.6 44.9l-0.1 0.0M433.8 49.6l-0.0 0.1M479.5 70.7l0.7 0.7M415.9 81.0l-0.1 0.1M490.1 25.9l0.5 0.4M435.0 76.6l-0.0 0.0M459.3 29.4l-0.6 0.7M476.4 89.5l0.1 0.0M422.0 86.5l-0.0 0.2M486.1 63.7l-0.0 0.2" stroke="#1a2488" stroke-width="2.5"/>
<path d="M419.6 58.1l-0.2 0.8M454.3 44.2l-0.1 0.2M516.6 27.6l-0.5 0.7M439.6 36.9l0.1 1.0M470.2 65.5l-0.0 0.0M486.9 87.0l0.7 0.1M470.9 77.3l-0.4 0.3M472.7 73.7l-0.0 0.0M442.9 53.7l-0.2 0.5M425.3 81.8l0.2 0.7M499.6 56.6l0.2 1.3M499.3 33.1l-0.8 0.5M440.6 69.5l-0.2 0.1M500.7 47.9l-0.6 0.1M488.9 85.4l-0.4 0.4M509.2 49.1l1.3 0.2M441.3 73.4l0.9 0.0M444.8 50.0l0.2 0.4" stroke="#1e2a96" stroke-width="3.0"/>
<path d="M441.6 35.3l-0.1 1.3M422.5 86.9l-0.4 0.3M486.0 73.7l0.8 0.9M438.8 32.3l1.1 0.6M465.4 33.9l-0.1 0.3M503.3 41.2l-0.4 0.1M513.2 59.7l1.2 0.5M433.4 76.9l-0.2 0.1M444.2 44.7l-0.3 0.6M504.7 69.7l0.4 0.6M462.4 75.8l-0.7 0.4M482.9 70.5l-0.1 0.0" stroke="#0e1450" stroke-width="3.0"/>
<path d="M467.2 90.6l-1.1 0.2M454.6 63.4l-0.1 0.6M465.1 89.2l1.5 0.5M510.3 85.1l-0.8 0.0M448.8 77.0l-1.2 0.3M414.5 51.1l1.2 0.7M418.9 55.3l0.6 0.2M509.6 40.6l0.3 0.9M512.6 70.8l-0.5 0.0M510.7 46.6l0.1 0.2M518.4 64.5l-0.0 0.0" stroke="#2e3cb4" stroke-width="3.5"/>
<path d="M417.0 47.4l0.9 0.1M466.4 41.3l-0.0 0.0M455.4 62.4l0.4 0.6M443.7 64.5l0.8 0.6M450.6 35.9l-0.1 0.2M424.9 86.0l0.1 0.0M454.8 78.2l-0.0 0.1M418.5 80.4l0.1 0.3" stroke="#141c6a" stroke-width="3.5"/>
<path d="M512.8 53.7l-0.1 0.8M487.2 57.9l0.0 0.4M485.5 32.4l0.1 0.0M477.8 35.2l-1.1 0.7M428.6 27.7l0.4 0.3M449.4 43.7l0.1 0.4M507.9 68.4l-0.5 0.2M482.9 88.6l-0.2 0.4M518.6 42.4l0.8 0.2M474.0 74.8l-0.1 0.0M485.8 52.6l0.0 0.2M490.9 64.4l-0.2 0.3M473.9 36.7l0.1 0.0M426.0 90.1l0.5 0.1" stroke="#1a2488" stroke-width="3.0"/>
<path d="M484.4 78.4l0.2 0.1M501.6 86.7l-0.0 0.6M469.5 71.2l-0.2 0.1" stroke="#2e3cb4" stroke-width="1.5"/>
<path d="M425.2 52.4l0.3 0.2" stroke="#1a2488" stroke-width="1.5"/>
<path d="M502.6 29.0l-0.1 0.0M461.8 47.9l-0.6 0.0M437.2 66.0l0.7 0.8" stroke="#a8b0e8" stroke-width="2.5" stroke-opacity="0.85"/>
<path d="M456.5 50.1l0.3 0.2M446.5 51.5l0.1 0.4M453.6 63.5l-0.4 0.0M463.5 54.2l-0.4 0.4M439.4 82.2l-0.1 0.1M441.9 79.5l0.0 0.0M460.4 49.6l-0.5 0.3M451.6 42.5l0.1 0.0M447.5 71.3l0.2 0.4" stroke="#a8b0e8" stroke-width="1.5" stroke-opacity="0.85"/>
<path d="M445.9 67.9l-0.9 0.6" stroke="#c4ccf0" stroke-width="3.0" stroke-opacity="0.85"/>
<path d="M494.1 27.6l0.4 0.8M467.1 34.9l0.8 0.1M447.5 46.9l0.4 0.6M451.8 47.9l-0.3 0.4M451.0 36.0l0.0 0.0" stroke="#f4f0e0" stroke-width="2.5" stroke-opacity="0.85"/>
<path d="M454.3 48.9l-0.0 0.3" stroke="#c4ccf0" stroke-width="1.0" stroke-opacity="0.85"/>
<path d="M442.7 80.2l0.4 0.1M475.6 31.2l-0.2 0.5M468.5 79.9l-0.4 0.5M455.4 41.9l-0.3 0.6M446.9 41.9l0.4 0.1M427.9 33.1l0.0 0.9M436.1 75.3l0.6 0.2M425.8 30.5l0.5 0.5M473.7 30.2l0.1 0.8M452.6 53.3l0.0 0.0M474.9 50.6l-0.0 0.0M459.2 50.5l-0.2 0.8M456.4 51.4l0.3 0.8M435.4 29.3l0.7 0.3" stroke="#d8dcf4" stroke-width="2.0" stroke-opacity="0.85"/>
<path d="M507.8 53.2l-0.0 0.1M438.0 31.3l-0.2 0.3M466.7 31.6l-0.5 0.2M457.1 41.7l0.6 0.3M448.2 44.8l0.2 0.0M475.4 22.8l0.5 0.1M498.6 30.1l0.3 0.1M445.6 43.1l-0.2 0.1M458.9 49.0l0.1 0.2" stroke="#eef0fa" stroke-width="1.5" stroke-opacity="0.85"/>
<path d="M459.9 47.3l0.1 0.1M446.7 63.4l0.0 0.3M453.3 55.4l0.2 0.3M440.3 76.4l-0.0 0.5M410.2 33.3l-0.3 0.4M450.9 49.6l0.0 0.1M459.9 61.1l0.2 0.0M466.4 39.3l0.1 0.3M455.0 29.6l-0.0 0.4M487.2 28.0l-0.2 0.0" stroke="#ffffff" stroke-width="2.0" stroke-opacity="0.85"/>
<path d="M457.1 34.3l-0.2 0.1M464.9 49.8l-0.1 0.0M445.2 66.5l0.5 0.1M447.6 46.1l-0.4 0.1M457.1 50.1l-0.3 0.1" stroke="#ffffff" stroke-width="1.5" stroke-opacity="0.85"/>
<path d="M433.1 39.4l-0.2 0.1M464.7 57.4l-0.0 0.7M444.2 72.8l0.2 0.5M485.3 74.6l0.0 0.0M464.5 63.8l0.2 0.7M448.3 67.1l0.2 0.4M454.3 68.7l-0.1 0.1M465.6 34.5l-0.1 0.1M473.9 44.2l-0.1 0.1M495.1 71.9l0.7 0.3" stroke="#eef0fa" stroke-width="2.0" stroke-opacity="0.85"/>
<path d="M456.6 49.5l0.2 0.2M433.0 51.7l0.1 0.1M455.3 43.8l0.2 0.1M440.1 44.0l-0.1 0.0M471.1 42.7l-0.0 0.1" stroke="#f4f0e0" stroke-width="1.5" stroke-opacity="0.85"/>
<path d="M455.3 59.4l0.5 0.3M466.2 54.8l0.1 0.1M447.5 34.1l-0.4 0.3M474.9 38.3l-0.7 0.1" stroke="#a8b0e8" stroke-width="2.0" stroke-opacity="0.85"/>
<path d="M445.6 29.2l-0.1 0.0M493.0 31.5l0.3 0.2M455.5 55.9l0.7 0.5M447.4 46.2l0.1 0.3M417.1 81.7l0.0 0.1M450.5 34.6l-0.4 0.2M451.2 57.6l0.2 0.0M463.5 40.7l-0.2 0.9M458.4 49.0l0.5 0.3M435.2 68.0l0.8 0.5" stroke="#c4ccf0" stroke-width="2.0" stroke-opacity="0.85"/>
<path d="M453.2 45.3l-0.0 0.0M460.6 29.6l-0.1 0.2M469.0 38.7l-0.3 0.0M446.1 37.3l-0.1 0.2M459.9 35.3l0.1 0.0" stroke="#c4ccf0" stroke-width="1.5" stroke-opacity="0.85"/>
<path d="M458.6 45.4l-0.5 0.8M459.2 30.5l-0.2 0.8M457.3 46.4l0.6 0.5M445.9 53.0l0.0 0.1M454.1 64.8l-0.9 0.2M463.9 73.5l-1.0 0.0M447.8 77.2l-0.7 0.8" stroke="#c4ccf0" stroke-width="2.5" stroke-opacity="0.85"/>
<path d="M446.4 34.6l0.1 0.4M463.8 44.5l-0.2 0.3M490.5 78.6l0.1 0.9M448.0 67.0l0.9 0.8M452.7 54.1l-0.4 0.2M437.6 45.1l0.4 0.2M446.1 71.1l-0.7 0.8M447.1 45.6l0.4 0.2M464.8 58.5l-0.7 0.4M451.6 51.5l-0.5 0.3M467.1 44.4l-0.1 0.1" stroke="#ffffff" stroke-width="2.5" stroke-opacity="0.85"/>
<path d="M454.3 44.2l-0.1 0.1M453.2 67.4l-0.0 0.5" stroke="#ffffff" stroke-width="1.0" stroke-opacity="0.85"/>
<path d="M471.5 31.1l-0.3 0.2M440.8 40.8l0.1 0.0M440.1 68.9l0.5 0.6M456.7 63.4l-0.8 0.2" stroke="#f4f0e0" stroke-width="2.0" stroke-opacity="0.85"/>
<path d="M449.0 36.3l-0.1 0.0M466.8 47.8l-0.6 0.1M447.6 72.0l0.4 0.4M475.9 67.9l-0.4 0.5M456.1 24.7l-0.3 1.1M485.7 40.3l-0.8 0.1M452.0 70.8l0.1 0.5" stroke="#eef0fa" stroke-width="2.5" stroke-opacity="0.85"/>
<path d="M443.3 52.2l0.1 0.2M514.3 61.0l0.1 0.2M484.1 64.2l-0.5 0.0M450.3 65.5l-0.4 0.4M443.5 47.9l-0.1 0.2" stroke="#d8dcf4" stroke-width="1.5" stroke-opacity="0.85"/>
<path d="M453.1 40.1l-0.3 0.3M463.7 37.0l-0.7 0.0M473.6 45.6l-1.0 0.3M437.3 42.2l0.7 0.8M459.0 42.7l-0.3 0.1" stroke="#eef0fa" stroke-width="3.0" stroke-opacity="0.85"/>
<path d="M448.4 68.6l0.3 0.2M475.2 44.9l0.0 0.1M442.8 41.0l0.3 0.8M469.8 41.4l0.3 0.2M466.0 39.5l-0.0 0.2" stroke="#d8dcf4" stroke-width="2.5" stroke-opacity="0.85"/>
<path d="M502.0 57.6l0.1 0.0M492.8 43.8l0.1 0.1" stroke="#d8dcf4" stroke-width="1.0" stroke-opacity="0.85"/>
<path d="M416.7 54.1l-0.4 0.1M492.3 43.3l0.1 0.0M462.0 53.7l0.0 0.4M427.8 69.1l-0.2 0.1" stroke="#a8b0e8" stroke-width="1.0" stroke-opacity="0.85"/>
<path d="M471.8 32.5l0.3 0.3" stroke="#f4f0e0" stroke-width="3.0" stroke-opacity="0.85"/>
<path d="M447.8 73.0l0.5 1.0M432.3 79.3l-0.4 0.6M486.1 63.8l-0.1 0.1" stroke="#ffffff" stroke-width="3.0" stroke-opacity="0.85"/>
<path d="M464.2 52.9l-0.1 0.0" stroke="#f4f0e0" stroke-width="1.0" stroke-opacity="0.85"/>
<path d="M463.4 31.3l0.2 0.2M461.7 51.8l-1.0 0.3" stroke="#d8dcf4" stroke-width="3.0" stroke-opacity="0.85"/>
</g></g>
<clipPath id="c4"><rect x="189.0" y="94.8" width="52.9" height="31.9"/></clipPath>
<g clip-path="url(#c4)" stroke-linecap="round" fill="none"><rect x="189.0" y="94.8" width="52.9" height="31.9" fill="#060918"/><g>
<path d="M223.3 96.4l0.1 0.4M206.1 106.8l0.1 0.0M197.5 97.8l0.0 0.0M220.2 122.7l-0.2 0.3M198.9 121.5l-0.5 0.2M226.7 102.9l-0.0 0.1M211.2 101.8l-0.7 0.2M205.4 104.3l0.0 0.6M203.2 107.4l-0.1 0.0M220.4 121.3l0.4 0.2M189.4 106.9l-0.1 0.1M225.9 116.2l-0.2 0.2M230.7 98.5l0.0 0.1M220.6 125.9l-0.1 0.5M210.2 113.2l0.0 0.0M223.8 95.2l-0.1 0.5M199.7 103.0l0.0 0.2M214.6 106.3l0.0 0.4M230.3 115.1l0.0 0.5M218.2 101.1l-0.3 0.2M233.5 120.5l0.3 0.1M208.5 126.0l-0.1 0.3M224.2 104.0l0.3 0.2M203.5 113.2l-0.2 0.5" stroke="#0e1440" stroke-width="1.5"/>
<path d="M195.0 110.0l0.2 0.3M207.9 95.4l-0.3 0.4M218.5 116.5l-0.3 0.3M218.6 111.8l0.3 0.1M229.9 100.2l0.1 0.4M238.4 106.1l-0.4 0.3M219.4 110.4l-0.2 0.2M204.9 113.5l0.2 0.6M217.5 119.7l0.0 0.0M192.7 125.0l0.5 0.2M192.6 102.7l-0.2 0.1M189.5 117.7l0.2 0.3M216.7 97.4l-0.4 0.4M241.7 100.6l0.4 0.6M224.1 111.3l0.1 0.2M192.0 115.4l-0.1 0.5M216.8 124.3l0.7 0.4M240.3 122.9l0.1 0.3M226.8 125.8l-0.6 0.0" stroke="#18205e" stroke-width="1.5"/>
<path d="M228.6 120.2l-0.8 0.3M223.8 109.5l0.6 0.1M192.8 126.6l0.1 0.1M213.0 123.1l-0.1 0.3M214.7 113.9l-0.6 0.0M208.1 108.9l0.5 0.4M232.1 124.3l-0.5 0.5M204.5 99.8l0.2 0.1M202.6 126.2l-0.7 0.4M196.4 100.4l0.4 0.3M233.2 104.6l0.6 0.3M219.9 108.5l-0.4 0.3M232.8 110.7l0.5 0.6M237.7 105.2l0.0 0.0M198.6 103.4l0.5 0.6" stroke="#131a52" stroke-width="2.0"/>
<path d="M212.1 120.3l0.5 0.4M224.7 115.8l0.2 0.2M234.2 104.3l0.0 0.1M228.1 105.0l-0.0 0.0M236.7 96.6l-0.3 0.2M236.7 119.3l-0.1 0.1M193.6 101.6l0.2 0.0M238.3 106.7l0.3 0.2M191.3 99.5l0.4 0.8M227.3 102.5l-0.4 0.6M209.3 116.6l0.1 0.1M239.7 99.7l0.2 0.3M201.9 124.4l0.1 0.2M225.7 110.6l-0.5 0.1M219.6 116.1l-0.5 0.6M191.8 95.7l0.1 0.4M195.8 98.4l-0.5 0.5" stroke="#0c1238" stroke-width="2.0"/>
<path d="M228.4 97.0l-0.1 0.0M213.9 118.1l-0.1 0.1M200.2 103.7l0.3 0.1M232.6 104.7l-0.0 0.1M233.3 120.5l0.4 0.5M220.5 97.5l0.1 0.0M223.6 116.9l0.1 0.2M217.0 116.5l-0.2 0.2M194.0 122.9l-0.5 0.3M238.6 122.2l-0.1 0.1M224.6 112.2l0.4 0.2M220.9 95.5l-0.5 0.0M229.4 99.8l0.1 0.1M224.9 125.9l-0.2 0.3M238.2 112.3l0.0 0.2M206.3 97.9l0.4 0.0M238.1 98.6l-0.0 0.6M226.9 95.5l0.5 0.1M240.6 107.2l0.0 0.0M195.5 118.7l-0.0 0.0M227.4 95.5l-0.3 0.0M216.2 119.9l0.1 0.1M208.1 119.1l-0.2 0.6M239.1 105.3l0.0 0.0M228.7 118.3l0.2 0.4M198.6 96.1l0.1 0.0M198.2 103.8l0.1 0.1" stroke="#0c1238" stroke-width="1.5"/>
<path d="M240.1 125.9l0.3 0.3M196.2 126.2l0.2 0.0M192.1 126.5l-0.2 0.0M225.0 102.7l0.4 0.1M227.2 124.8l-0.0 0.1M207.6 114.7l0.1 0.4M240.4 98.7l-0.2 0.1M221.3 118.3l-0.5 0.0M240.1 95.5l-0.0 0.0M199.3 115.3l0.0 0.1M201.3 126.3l-0.1 0.1M197.6 103.8l0.0 0.0M220.5 114.5l0.1 0.2" stroke="#0c1238" stroke-width="1.0"/>
<path d="M216.7 108.7l-0.2 0.2M227.9 103.3l-0.0 0.5M225.8 126.6l0.0 0.3M218.6 116.4l0.4 0.2M192.4 124.6l0.1 0.2M199.0 124.7l0.2 0.0M236.7 96.2l0.0 0.0M211.4 106.8l-0.1 0.3M236.5 108.3l0.2 0.6M237.1 125.8l0.0 0.4M200.9 113.3l-0.6 0.2M240.8 107.0l0.4 0.1M226.0 123.8l0.1 0.5M194.8 96.9l-0.4 0.4M236.7 115.1l0.1 0.0M207.6 105.7l0.1 0.0M205.9 117.1l-0.1 0.2M201.3 120.4l0.3 0.4M193.2 124.6l-0.4 0.4M239.8 99.3l-0.0 0.0M236.0 105.5l-0.2 0.2M231.3 103.9l0.3 0.1" stroke="#101848" stroke-width="1.5"/>
<path d="M227.1 113.7l-0.4 0.0M232.5 101.3l-0.1 0.3M241.5 117.3l0.1 0.6M233.6 123.7l0.3 0.9M208.3 115.4l-0.0 0.0M205.3 97.8l-0.7 0.1M234.0 117.3l-0.6 0.2M228.3 101.1l-0.1 0.2M197.3 111.3l0.5 0.4M234.9 97.8l0.3 0.7M229.2 99.9l0.1 0.5M200.8 113.7l-0.2 0.2M209.6 102.3l0.3 0.3M209.3 118.5l-0.1 0.1M200.9 115.2l0.0 0.1M223.3 99.0l-0.1 0.6M226.4 100.4l-0.5 0.5M196.4 110.1l0.7 0.2M197.7 119.4l0.2 0.6M198.5 117.9l-0.2 0.3M233.8 99.8l0.1 0.0" stroke="#101848" stroke-width="2.0"/>
<path d="M228.7 121.2l-0.8 0.3M220.0 94.8l-0.3 0.4M207.2 109.6l-0.4 0.7M229.7 106.3l0.0 0.0M222.4 112.2l-0.0 0.1M231.1 100.0l-0.0 0.3M199.9 126.0l-0.0 0.0M240.8 124.4l0.6 0.6M199.3 113.6l-0.1 0.1M236.5 102.4l0.1 0.2M208.6 99.6l0.7 0.2M211.7 122.6l-0.1 0.1M198.3 112.3l0.7 0.4M231.9 125.3l0.3 0.2M208.2 96.4l0.0 0.0M221.1 102.9l0.6 0.4M237.1 126.1l-0.0 0.1" stroke="#18205e" stroke-width="2.0"/>
<path d="M219.1 107.1l0.0 0.1M222.6 120.5l0.4 0.2M214.4 96.3l-0.0 0.2M195.2 97.2l-0.5 0.1M231.6 111.0l0.1 0.1M212.2 94.9l-0.4 0.3M217.8 122.7l-0.2 0.2M191.2 112.7l-0.0 0.1" stroke="#131a52" stroke-width="1.0"/>
<path d="M226.9 116.6l0.4 0.6M208.4 96.7l-0.1 0.1M205.0 100.9l0.3 0.5M224.6 96.3l0.5 0.3M214.4 108.1l0.0 0.4M196.4 106.2l-0.1 0.1M208.4 116.5l0.4 0.4M240.2 123.0l0.1 0.1M216.7 105.9l-0.2 0.0M207.6 99.4l0.2 0.4M229.1 105.6l0.3 0.5M192.6 121.7l-0.3 0.1M232.2 95.9l-0.4 0.1M196.9 112.4l-0.0 0.1M213.9 121.1l0.1 0.6M194.8 109.1l-0.0 0.1M207.8 118.4l0.0 0.1M238.0 121.0l0.5 0.1M197.3 98.6l-0.2 0.0M230.9 102.6l-0.3 0.3M189.3 98.9l-0.4 0.1M197.1 120.7l0.1 0.2M229.4 120.1l0.1 0.1M222.0 110.8l0.5 0.2M232.4 109.0l-0.4 0.2M193.4 106.3l-0.2 0.1" stroke="#131a52" stroke-width="1.5"/>
<path d="M237.4 101.4l0.2 0.3M239.3 123.5l-0.0 0.1M236.9 122.5l0.1 0.0M193.7 105.7l0.4 0.2M226.0 121.0l-0.3 0.2M226.5 103.6l0.2 0.1M203.4 110.0l0.3 0.3" stroke="#0e1440" stroke-width="1.0"/>
<path d="M222.1 117.9l0.5 0.2M196.1 125.1l0.2 0.3M208.3 114.5l0.5 0.1M222.6 96.9l-0.4 0.2M237.7 116.0l-0.1 0.1M206.6 98.6l0.5 0.1M205.8 115.6l0.1 0.2M220.7 112.8l0.2 0.2M196.2 101.2l0.0 0.0M238.9 121.0l-0.1 0.1M205.7 103.0l0.3 0.1M231.4 112.7l-0.0 0.0M197.2 109.8l-0.1 0.2M223.9 125.0l0.1 0.0M212.4 119.9l0.0 0.0M196.4 113.8l0.0 0.1" stroke="#101848" stroke-width="1.0"/>
<path d="M212.3 111.3l-0.2 0.1M215.4 114.9l0.7 0.2M236.2 124.9l0.5 0.1M193.9 103.2l0.2 0.2M216.5 122.6l-0.8 0.3M229.4 100.9l-0.3 0.3M218.5 109.4l-0.5 0.4M240.9 106.4l0.1 0.1M211.8 122.0l-0.3 0.7M232.8 112.2l0.9 0.1M189.5 121.0l-0.5 0.1M204.9 107.6l-0.2 0.1M226.1 106.9l0.4 0.4M214.0 98.0l0.3 0.4M211.4 112.4l0.1 0.0M190.0 124.2l0.1 0.1M202.7 120.0l0.1 0.8M204.9 104.7l0.8 0.3M201.5 119.8l0.6 0.2M223.3 105.5l-0.3 0.2" stroke="#0e1440" stroke-width="2.0"/>
<path d="M222.9 97.5l-0.2 0.2M210.8 107.1l0.4 0.1M237.2 123.1l-0.0 0.2M204.5 97.0l-0.4 0.1M225.3 124.2l-0.0 0.0M216.3 116.5l0.3 0.3M228.7 118.9l0.3 0.1M190.3 103.9l-0.0 0.1" stroke="#18205e" stroke-width="1.0"/>
<path d="M230.4 116.1l0.1 0.1M233.1 114.0l-0.2 0.4M201.2 97.1l-0.2 0.2M241.8 106.8l-0.3 0.0M240.2 97.6l-0.3 0.0M213.8 115.2l-0.1 0.2M194.2 101.9l-0.2 0.1M232.5 123.8l-0.0 0.1M230.5 123.0l0.2 0.0M234.6 123.1l-0.3 0.2M240.5 104.5l-0.0 0.2M221.5 103.4l0.1 0.0M232.2 110.2l-0.0 0.1M217.5 107.6l-0.0 0.0M204.8 104.5l0.1 0.0M209.0 100.9l0.1 0.2" stroke="#e0e4f8" stroke-width="1.0" stroke-opacity="0.85"/>
<path d="M205.4 111.2l0.2 0.2M189.6 122.6l-0.1 0.1M205.4 121.7l0.1 0.3M198.0 121.6l-0.1 0.0M228.2 100.8l0.1 0.1M204.9 120.7l0.2 0.1M225.4 104.8l-0.1 0.0M190.9 119.8l-0.2 0.4M234.8 111.3l0.3 0.1M191.6 117.5l-0.3 0.2M214.2 111.9l-0.0 0.0M199.6 120.9l0.0 0.1M236.8 123.8l-0.2 0.5M234.6 106.2l0.1 0.1M220.9 99.3l-0.2 0.0M228.0 120.6l0.2 0.2" stroke="#9aa8e0" stroke-width="1.0" stroke-opacity="0.85"/>
<path d="M236.2 117.7l-0.2 0.2M226.6 95.7l0.0 0.2M239.0 124.4l-0.2 0.0M217.8 111.6l0.0 0.0M206.3 102.6l0.1 0.3M208.4 112.0l0.0 0.0M226.8 120.2l-0.3 0.0M192.4 124.1l0.1 0.1M240.3 124.6l-0.2 0.0" stroke="#ffffff" stroke-width="0.5" stroke-opacity="0.85"/>
<path d="M223.4 103.9l-0.0 0.1M238.8 98.1l0.1 0.2M234.7 124.4l-0.1 0.1M217.1 121.1l0.0 0.1M231.2 112.5l0.2 0.1M238.8 115.0l-0.0 0.0M199.5 119.8l0.0 0.0M209.6 102.3l0.0 0.1M226.5 121.4l0.0 0.2" stroke="#9aa8e0" stroke-width="0.5" stroke-opacity="0.85"/>
<path d="M190.6 103.5l0.0 0.1M203.2 126.3l0.4 0.1M193.6 115.1l-0.4 0.1M241.5 101.8l0.1 0.3M238.5 120.2l-0.0 0.1M202.9 114.6l0.0 0.0M205.1 100.9l-0.1 0.0M205.9 114.6l-0.1 0.3M204.1 118.2l0.1 0.1M233.5 125.2l-0.1 0.1" stroke="#ffffff" stroke-width="1.0" stroke-opacity="0.85"/>
<path d="M207.5 111.8l-0.5 0.1M217.6 111.5l0.0 0.0" stroke="#c8d0f0" stroke-width="1.5" stroke-opacity="0.85"/>
<path d="M205.0 105.4l0.0 0.1M203.9 114.1l-0.1 0.1M197.2 108.7l-0.0 0.1M211.7 98.6l-0.1 0.2M236.9 103.7l-0.0 0.0M214.7 112.0l-0.1 0.0M219.8 100.2l0.2 0.2M210.8 101.0l0.0 0.0M228.8 118.6l-0.2 0.1M226.8 116.2l-0.2 0.1" stroke="#c8d0f0" stroke-width="1.0" stroke-opacity="0.85"/>
<path d="M206.8 126.1l-0.1 0.1M239.5 100.2l-0.1 0.2M214.9 109.6l0.1 0.2M218.6 107.1l-0.0 0.0M208.1 119.4l0.2 0.0M226.4 118.0l-0.1 0.1M198.7 115.8l0.1 0.0M207.6 109.1l0.1 0.2M231.4 102.1l-0.2 0.2" stroke="#c8d0f0" stroke-width="0.5" stroke-opacity="0.85"/>
<path d="M215.1 98.8l-0.0 0.0M192.1 106.2l0.3 0.1M215.7 114.5l0.1 0.1M191.4 122.4l0.1 0.0M200.1 124.4l-0.1 0.1" stroke="#e0e4f8" stroke-width="0.5" stroke-opacity="0.85"/>
<path d="M237.3 107.8l-0.0 0.0" stroke="#e0e4f8" stroke-width="1.5" stroke-opacity="0.85"/>
<path d="M241.4 119.1l-0.0 0.0M228.8 109.4l-0.2 0.4" stroke="#9aa8e0" stroke-width="1.5" stroke-opacity="0.85"/>
<path d="M193.2 102.0l0.3 0.1" stroke="#ffffff" stroke-width="1.5" stroke-opacity="0.85"/>
</g></g>
<clipPath id="c5"><rect x="244.0" y="94.8" width="53.2" height="31.9"/></clipPath>
<g clip-path="url(#c5)" stroke-linecap="round" fill="none"><rect x="244.0" y="94.8" width="53.2" height="31.9" fill="#05060f"/><g>
<path d="M277.8 121.5l0.5 0.7M270.7 125.5l-0.0 0.2M246.6 106.8l0.1 0.2M286.3 96.2l-0.9 0.1M247.9 103.7l0.3 0.0M266.0 98.0l-0.6 0.4M272.5 121.4l-0.0 0.0M246.3 119.6l0.6 0.0M289.6 116.9l0.6 0.2M250.0 103.6l0.7 0.3M272.4 109.0l0.1 0.1M286.5 100.7l0.3 0.5M255.8 112.2l0.1 0.4M259.1 96.3l-0.7 0.4M256.4 112.1l-0.5 0.2M280.6 112.5l0.2 0.6M281.0 107.2l0.5 0.0M272.4 114.9l-0.1 0.9M274.7 115.4l0.2 0.1M294.2 95.9l-0.6 0.5M278.4 96.7l0.3 0.6M248.2 98.7l-0.7 0.1M254.6 122.0l0.1 0.1M289.2 120.5l-0.0 0.0M271.0 122.5l0.2 0.1M269.9 104.1l0.4 0.2M267.5 104.6l-0.2 0.3M280.1 126.1l-0.5 0.5M276.1 119.2l-0.2 0.5M278.5 96.0l0.4 0.6M258.9 102.0l0.1 0.2" stroke="#10122e" stroke-width="2.0"/>
<path d="M292.3 125.9l-0.3 0.0M284.3 106.9l0.2 0.2M270.6 121.8l-0.2 0.4M282.5 112.2l-0.2 0.1M278.1 112.3l0.5 0.5M273.6 122.0l-0.6 0.4M264.3 107.7l-0.0 0.2M275.7 102.2l0.1 0.5M295.6 114.3l0.0 0.1M286.2 105.1l0.1 0.1M278.0 112.3l0.1 0.0M257.7 121.3l-0.0 0.5M280.7 98.8l0.0 0.0M287.4 115.5l-0.1 0.3M265.1 122.0l0.1 0.0M257.2 105.0l0.0 0.0M276.2 109.3l0.0 0.5M257.8 95.4l-0.0 0.1M292.9 97.7l-0.3 0.1M244.2 119.6l0.3 0.5M277.8 124.2l0.6 0.0M251.1 98.3l-0.4 0.3M268.6 119.8l-0.1 0.0" stroke="#0c0e26" stroke-width="1.5"/>
<path d="M259.5 101.7l-0.0 0.0M285.5 126.1l-0.2 0.1M260.7 105.0l-0.0 0.2M245.3 116.1l0.5 0.1M277.5 101.2l0.2 0.0M292.2 123.8l-0.0 0.2M246.4 114.3l-0.0 0.3M255.9 100.8l-0.1 0.2" stroke="#10122e" stroke-width="1.0"/>
<path d="M276.4 114.9l0.5 0.0M286.8 106.6l0.4 0.1M278.8 112.0l-0.2 0.5M293.0 109.6l0.7 0.2M250.3 105.7l-0.0 0.4M286.3 119.0l-0.4 0.1M273.5 105.2l0.3 0.5M261.3 103.0l0.5 0.2M288.4 106.4l0.0 0.0M265.9 121.7l0.1 0.2M254.4 98.2l-0.4 0.2M244.6 123.0l0.5 0.2M265.5 125.5l-0.1 0.1M276.5 116.6l-0.0 0.1M283.4 103.6l-0.3 0.1M281.0 95.5l0.0 0.1M273.9 126.4l-0.1 0.3M282.1 124.9l-0.5 0.2M288.1 103.2l0.0 0.6M290.2 109.5l-0.4 0.2M268.6 99.8l-0.1 0.6M253.4 105.2l0.1 0.2M285.7 115.7l-0.4 0.1M245.7 103.3l0.3 0.1M284.2 113.3l-0.0 0.2" stroke="#10122e" stroke-width="1.5"/>
<path d="M275.8 104.1l0.0 0.2M275.5 121.9l0.0 0.0M295.4 100.1l-0.0 0.0M279.3 121.1l-0.0 0.2M286.9 111.2l-0.2 0.1M285.0 95.5l0.4 0.3M268.8 111.1l0.2 0.2" stroke="#0a0c20" stroke-width="1.0"/>
<path d="M259.4 115.7l-0.5 0.0M271.3 116.2l0.2 0.1M250.6 125.6l0.1 0.1M253.8 104.8l0.0 0.1M256.7 95.8l0.1 0.0M267.5 124.5l0.2 0.2M294.5 102.7l-0.1 0.2M260.8 123.4l-0.5 0.2M276.6 120.0l0.1 0.4M286.6 119.4l0.2 0.1M257.3 100.6l0.5 0.0M276.8 98.2l0.0 0.1M294.0 108.2l0.4 0.4M295.2 117.3l0.3 0.1M267.0 113.3l0.1 0.0" stroke="#0a0c20" stroke-width="1.5"/>
<path d="M254.8 103.0l-0.0 0.5M259.4 124.8l0.1 0.3M284.5 113.7l-0.0 0.0M286.1 102.2l-0.2 0.3M245.3 118.2l0.1 0.0M288.1 103.0l0.0 0.3M270.5 109.8l0.2 0.2M284.1 101.0l0.2 0.4M285.8 109.8l-0.5 0.0M275.3 100.3l0.1 0.4M250.4 99.5l0.3 0.2M252.1 111.5l-0.1 0.0M295.1 104.2l-0.1 0.4M274.8 117.8l0.0 0.1M250.3 120.5l0.3 0.0M272.1 111.6l-0.2 0.1M257.1 109.0l0.2 0.3M289.9 104.9l0.3 0.1M262.2 124.5l0.1 0.1M266.3 113.5l-0.2 0.0" stroke="#14162e" stroke-width="1.5"/>
<path d="M269.7 112.3l0.1 0.4M268.0 103.0l-0.1 0.1M252.1 125.7l-0.0 0.0M272.3 111.4l0.0 0.6M254.7 109.6l0.2 0.5M270.0 113.7l0.3 0.0M281.3 122.3l0.0 0.0M258.3 95.7l-0.0 0.6M244.4 114.8l-0.2 0.0M294.9 104.4l0.1 0.2M286.5 102.7l0.4 0.1M253.9 122.6l-0.3 0.0M245.0 100.1l-0.1 0.2M281.9 104.4l-0.0 0.1M280.9 99.5l-0.0 0.5M249.8 126.2l0.1 0.5M292.9 115.3l-0.1 0.7M266.2 97.4l-0.7 0.4M293.0 122.0l-0.0 0.0M263.9 100.7l0.3 0.4M250.7 118.1l0.6 0.5M280.0 120.0l-0.4 0.4M259.8 108.1l0.1 0.3" stroke="#0a0c20" stroke-width="2.0"/>
<path d="M288.1 113.9l-0.0 0.0M258.0 96.8l0.3 0.0M252.5 105.3l-0.3 0.2M259.4 119.1l-0.0 0.0M289.0 111.8l0.0 0.0M284.9 120.9l-0.0 0.1M292.4 101.9l0.5 0.1M265.8 100.4l-0.1 0.0" stroke="#14162e" stroke-width="1.0"/>
<path d="M273.1 114.3l-0.2 0.5M255.7 125.6l-0.2 0.5M251.5 113.8l0.3 0.2M290.4 102.4l-0.1 0.4M288.9 96.6l-0.2 0.0M248.8 113.0l-0.0 0.0M253.7 115.3l-0.0 0.4M273.7 105.7l0.1 0.0M273.0 109.6l-0.1 0.3M272.2 110.7l0.2 0.0M253.5 101.2l-0.3 0.1M282.3 101.7l-0.0 0.1" stroke="#0c0e26" stroke-width="1.0"/>
<path d="M294.2 115.6l0.4 0.3M268.7 111.8l-0.5 0.0M276.8 124.4l0.1 0.2M285.2 106.7l-0.1 0.2M294.5 122.5l0.0 0.2M292.0 103.2l-0.0 0.3M294.7 107.5l-0.2 0.2M281.6 112.1l-0.7 0.5M293.4 124.9l-0.5 0.4M248.8 102.9l0.6 0.5M247.3 125.3l-0.2 0.1" stroke="#0c0e26" stroke-width="2.0"/>
<path d="M258.3 120.5l0.0 0.1M282.9 97.2l-0.2 0.5M275.2 124.0l-0.3 0.3M266.4 102.3l-0.1 0.0M246.5 114.5l-0.1 0.3M248.4 111.0l0.5 0.6M286.7 122.4l-0.7 0.2M260.5 102.9l0.2 0.1M247.3 123.8l-0.5 0.1M271.5 124.4l-0.1 0.0M257.3 112.5l0.1 0.3M275.2 120.7l0.1 0.4M264.3 95.3l-0.6 0.5M259.9 96.0l-0.1 0.1M284.6 98.0l0.5 0.2M290.0 112.5l0.7 0.1M278.7 100.4l-0.2 0.1" stroke="#14162e" stroke-width="2.0"/>
<path d="M249.3 114.9l-0.3 0.2M288.2 98.4l-0.2 0.2M296.9 126.1l0.2 0.2M275.6 121.9l0.0 0.3M282.5 115.6l-0.1 0.0M279.5 102.5l-0.1 0.2M264.6 99.2l0.0 0.3M281.9 103.2l-0.1 0.4M270.0 108.4l-0.1 0.2M293.7 120.2l-0.1 0.3" stroke="#a05020" stroke-width="1.0" stroke-opacity="0.85"/>
<path d="M260.7 95.2l-0.0 0.0M260.5 122.3l0.0 0.1M287.8 125.0l-0.1 0.0M266.4 96.0l0.0 0.0M263.6 98.4l-0.1 0.2" stroke="#a05020" stroke-width="0.5" stroke-opacity="0.85"/>
<path d="M247.9 116.0l0.1 0.1M272.6 106.9l0.1 0.1M265.8 122.0l-0.0 0.0M250.4 101.6l0.4 0.4M262.4 117.0l0.4 0.0M287.1 114.2l-0.0 0.2" stroke="#f0a050" stroke-width="1.0" stroke-opacity="0.85"/>
<path d="M272.9 104.1l-0.1 0.1M295.0 115.2l0.1 0.0M278.1 118.0l-0.1 0.1M266.2 97.3l0.0 0.0M274.6 119.0l-0.3 0.1M283.1 99.4l0.3 0.1M264.3 123.7l0.0 0.0" stroke="#c86a28" stroke-width="1.0" stroke-opacity="0.85"/>
<path d="M283.7 97.7l-0.3 0.2M252.4 100.7l-0.0 0.0M245.0 104.0l0.0 0.2M244.4 104.6l0.1 0.3M254.9 121.3l-0.0 0.1" stroke="#e08a38" stroke-width="0.5" stroke-opacity="0.85"/>
<path d="M280.9 107.3l-0.2 0.3M284.8 96.3l0.0 0.2" stroke="#e08a38" stroke-width="1.5" stroke-opacity="0.85"/>
<path d="M246.4 121.8l0.2 0.2M249.3 109.0l-0.2 0.2M273.3 100.9l0.3 0.1M257.6 99.8l-0.0 0.3" stroke="#e08a38" stroke-width="1.0" stroke-opacity="0.85"/>
<path d="M262.1 106.1l0.0 0.0M255.9 107.5l0.1 0.2M281.6 99.3l-0.2 0.0" stroke="#c86a28" stroke-width="0.5" stroke-opacity="0.85"/>
<path d="M251.0 95.7l0.2 0.1" stroke="#f0a050" stroke-width="1.5" stroke-opacity="0.85"/>
<path d="M281.3 117.2l-0.1 0.0" stroke="#f0a050" stroke-width="0.5" stroke-opacity="0.85"/>
<path d="M294.8 96.6l-0.3 0.4" stroke="#a05020" stroke-width="1.5" stroke-opacity="0.85"/>
</g></g>
<clipPath id="c6"><rect x="300.0" y="94.8" width="52.7" height="31.9"/></clipPath>
<g clip-path="url(#c6)" stroke-linecap="round" fill="none"><rect x="300.0" y="94.8" width="52.7" height="31.9" fill="#060918"/><g>
<path d="M341.4 123.2l0.3 0.2M326.8 96.9l0.2 0.2M347.9 120.8l0.3 0.2M311.1 116.4l0.2 0.0M321.1 102.7l0.3 0.3M329.6 104.9l0.0 0.1M302.2 95.3l0.1 0.2M323.2 113.7l0.2 0.3M342.8 105.1l-0.1 0.4M308.5 113.6l0.0 0.1M339.2 118.1l0.0 0.0" stroke="#131a52" stroke-width="1.0"/>
<path d="M330.3 111.7l0.3 0.6M300.9 121.8l0.8 0.1M319.2 99.1l-0.3 0.1M336.9 116.5l-0.3 0.0M309.8 99.9l-0.1 0.1M351.3 122.7l0.3 0.4M313.9 101.3l0.2 0.3M322.4 112.9l-0.7 0.2M315.7 124.6l-0.3 0.6M338.4 108.4l-0.1 0.2M302.7 121.3l0.2 0.3M326.2 123.6l-0.1 0.0M305.3 119.1l0.3 0.0M300.2 103.3l-0.0 0.5M331.1 101.2l0.0 0.0M330.5 111.4l0.0 0.4M331.6 121.5l0.0 0.2M318.3 101.4l-0.1 0.2M343.2 118.2l-0.8 0.0M304.6 125.3l-0.3 0.2M339.8 103.0l-0.0 0.2M314.2 108.8l0.2 0.8" stroke="#131a52" stroke-width="2.0"/>
<path d="M324.5 114.8l0.2 0.1M350.2 111.3l0.0 0.0M311.0 115.7l-0.6 0.2M347.4 110.6l0.3 0.3M339.3 110.5l-0.1 0.4M317.9 120.2l0.0 0.2M343.2 104.7l-0.4 0.3M341.4 117.5l0.1 0.3M320.5 125.0l0.1 0.1M300.7 104.9l-0.2 0.2M352.6 121.0l0.2 0.1M301.7 95.1l0.5 0.1M307.3 122.8l-0.0 0.0M341.7 124.1l0.4 0.2M350.7 126.2l0.2 0.1M323.7 107.0l-0.0 0.2M314.7 119.7l0.1 0.0M313.8 121.5l0.3 0.3M350.7 120.8l0.5 0.4M346.6 122.1l-0.1 0.0M320.9 125.2l0.2 0.1M319.2 97.9l0.0 0.3M318.7 118.6l0.0 0.4M312.8 95.9l0.0 0.2" stroke="#131a52" stroke-width="1.5"/>
<path d="M349.6 113.2l0.2 0.0M332.0 95.1l-0.0 0.1M310.6 99.5l-0.1 0.5M334.5 107.5l-0.0 0.1M351.4 98.7l-0.0 0.0M311.7 118.1l0.0 0.2M316.7 122.9l0.2 0.2M336.2 98.0l0.0 0.5M330.8 100.8l-0.0 0.3M329.2 98.0l0.0 0.0M316.7 100.7l0.2 0.1" stroke="#0c1238" stroke-width="1.0"/>
<path d="M320.8 118.3l0.3 0.2M325.5 98.8l0.1 0.0M304.2 97.4l-0.2 0.0M352.4 123.5l-0.1 0.1M322.3 97.4l-0.4 0.3M322.5 119.2l0.3 0.2M335.8 109.7l0.4 0.0M327.0 126.3l-0.2 0.3M310.0 106.9l0.1 0.3M310.7 106.6l0.1 0.4M325.8 111.9l0.0 0.0M333.2 105.8l0.2 0.1" stroke="#101848" stroke-width="1.0"/>
<path d="M300.4 114.6l0.0 0.1M325.6 125.0l-0.4 0.0M334.8 115.6l0.2 0.1M316.2 120.2l-0.1 0.4M334.0 95.3l0.3 0.2M305.7 103.7l-0.4 0.4M308.0 115.4l0.1 0.2M352.5 121.4l0.6 0.3M323.7 122.1l0.0 0.1M331.5 106.7l-0.2 0.6M346.3 95.7l0.0 0.5M314.2 110.9l0.4 0.4M302.6 124.6l0.1 0.3M336.5 119.8l-0.2 0.4M304.2 125.2l-0.5 0.4M351.5 100.5l-0.0 0.0M351.7 98.9l0.5 0.2M300.7 106.0l0.1 0.1M324.5 106.7l0.3 0.2M325.2 122.8l0.3 0.2M342.9 122.5l0.5 0.4M325.7 108.1l0.4 0.2M327.0 110.8l-0.1 0.1M308.4 123.3l0.3 0.0" stroke="#0c1238" stroke-width="1.5"/>
<path d="M314.2 122.8l0.2 0.3M304.7 123.5l0.6 0.2M301.7 126.3l0.1 0.7M318.3 98.3l-0.3 0.2M315.4 124.6l-0.1 0.1M305.7 110.7l0.0 0.1M303.8 107.1l0.0 0.0M341.1 109.2l0.1 0.3M329.8 114.4l-0.0 0.6M342.5 111.2l-0.3 0.4M323.9 97.9l0.2 0.1M321.2 102.7l0.2 0.5M320.7 110.8l-0.1 0.2M348.5 115.1l-0.0 0.4M344.6 97.2l-0.3 0.2M321.1 119.7l-0.2 0.2M310.7 125.1l-0.2 0.1M323.3 112.7l-0.0 0.4M301.9 109.3l-0.1 0.1M322.2 98.9l-0.3 0.3M336.6 125.2l0.1 0.3M320.4 112.6l-0.4 0.2M324.1 105.6l0.5 0.0M308.4 95.3l-0.1 0.1" stroke="#0e1440" stroke-width="1.5"/>
<path d="M313.1 95.8l0.1 0.1M352.2 104.0l0.2 0.3M314.1 97.0l-0.0 0.0M307.8 112.2l0.1 0.6M313.3 108.8l0.2 0.8M330.8 105.4l-0.2 0.0M340.5 99.3l-0.3 0.7M312.3 108.7l0.6 0.5M305.7 97.6l-0.3 0.6M340.1 116.9l-0.0 0.1M322.0 103.3l-0.5 0.5M328.0 98.0l-0.2 0.7M318.1 121.1l0.1 0.3M328.8 102.1l0.4 0.2M302.4 110.0l-0.5 0.3M351.2 104.3l-0.4 0.3M350.6 122.0l0.1 0.1M314.1 125.3l-0.8 0.2M312.8 116.4l-0.0 0.1" stroke="#18205e" stroke-width="2.0"/>
<path d="M342.0 99.7l-0.1 0.2M318.5 116.8l-0.3 0.4M348.4 112.4l0.5 0.0M312.6 120.6l-0.1 0.0M329.9 116.4l0.8 0.5M346.2 123.4l-0.4 0.7M314.8 113.3l-0.9 0.1M346.9 111.1l-0.1 0.1M345.4 106.6l-0.7 0.3M310.3 96.8l-0.4 0.5M325.8 106.0l0.4 0.8M324.2 121.3l0.2 0.3M336.3 121.8l0.0 0.2M341.7 102.7l0.3 0.2M313.9 122.6l0.0 0.1M337.7 103.9l0.5 0.2M324.2 95.8l0.1 0.1" stroke="#0e1440" stroke-width="2.0"/>
<path d="M348.0 97.0l-0.4 0.4M325.0 98.6l0.2 0.8M320.1 98.8l0.4 0.7M349.5 102.0l-0.1 0.8M304.6 123.5l-0.1 0.1M310.2 116.3l-0.7 0.3M349.1 124.9l0.1 0.4M335.9 96.8l-0.4 0.4M311.7 118.1l0.1 0.4" stroke="#101848" stroke-width="2.0"/>
<path d="M309.9 106.4l-0.6 0.5M351.6 107.4l-0.2 0.4M351.5 100.9l-0.1 0.1M323.8 117.6l0.1 0.1M345.3 110.3l-0.1 0.0M311.4 105.8l0.0 0.2M335.4 125.7l0.1 0.3M325.2 108.3l0.0 0.1M341.0 121.5l0.0 0.1M329.6 123.4l0.5 0.1M329.1 97.4l-0.1 0.7M340.2 108.0l-0.3 0.5M312.8 116.9l0.7 0.4M341.2 122.4l0.5 0.2M315.9 105.4l0.6 0.7M338.2 101.9l0.2 0.6M315.8 107.8l-0.3 0.7M321.2 125.5l-0.3 0.1M313.7 109.1l0.1 0.3" stroke="#0c1238" stroke-width="2.0"/>
<path d="M337.5 115.9l0.0 0.2M315.7 104.0l-0.2 0.3M312.1 104.5l0.0 0.0M348.1 123.1l0.0 0.0M348.4 112.6l-0.4 0.1M340.5 111.8l-0.1 0.1M343.2 126.4l-0.4 0.1M310.3 119.6l-0.0 0.0M304.0 106.9l-0.0 0.1M312.4 104.5l-0.4 0.1M331.6 108.2l0.0 0.0M345.4 114.4l0.4 0.3M335.4 97.4l-0.3 0.0M321.0 105.2l-0.1 0.2M347.7 116.7l0.2 0.5M327.1 112.6l-0.4 0.4M304.9 100.9l-0.1 0.2M315.0 105.8l-0.0 0.1M334.3 118.6l-0.0 0.0M320.6 122.7l-0.0 0.1M331.1 99.2l0.1 0.1M335.1 121.7l-0.0 0.0M321.6 118.2l-0.1 0.1" stroke="#18205e" stroke-width="1.5"/>
<path d="M348.0 117.9l-0.4 0.2M313.1 116.1l0.2 0.3M322.7 113.4l-0.1 0.5M315.5 104.7l-0.1 0.0M349.5 124.1l-0.0 0.0M317.9 98.8l0.3 0.1M325.5 121.8l0.2 0.0M306.5 108.9l0.2 0.6M307.6 117.6l0.1 0.0M351.6 113.6l0.1 0.1M303.7 101.5l0.5 0.0M319.5 119.9l0.1 0.1M313.2 105.1l-0.4 0.3M301.0 124.8l0.2 0.4M347.4 123.7l0.4 0.1M332.2 123.9l-0.2 0.4M314.8 97.9l0.2 0.1M339.6 121.4l-0.7 0.1M306.7 117.6l0.0 0.4M343.4 100.0l0.0 0.0M347.6 105.4l-0.0 0.0" stroke="#101848" stroke-width="1.5"/>
<path d="M340.8 104.2l0.2 0.2M305.3 96.5l0.1 0.1M339.4 118.7l0.1 0.1M343.1 103.4l0.0 0.0M330.6 96.7l0.5 0.2M344.0 116.0l0.3 0.0M339.1 96.1l-0.1 0.0M341.0 108.1l0.5 0.2M306.7 102.8l-0.1 0.0M342.5 115.5l0.1 0.1M347.4 107.0l0.0 0.0M301.7 104.0l0.2 0.1M339.8 123.3l-0.1 0.1M344.7 117.0l-0.1 0.2" stroke="#0e1440" stroke-width="1.0"/>
<path d="M311.1 116.5l0.3 0.0M300.4 115.0l0.2 0.5M327.5 113.4l-0.0 0.1M311.4 121.4l0.1 0.3M317.1 112.9l-0.5 0.0M331.9 124.6l0.1 0.0M311.8 122.5l0.1 0.0M340.2 100.0l-0.1 0.1M332.3 101.8l-0.2 0.5M300.7 112.2l0.3 0.1" stroke="#18205e" stroke-width="1.0"/>
<path d="M306.7 102.7l0.3 0.3M333.1 120.8l0.0 0.2M340.6 113.2l-0.0 0.1M315.8 95.9l0.1 0.3M312.7 118.8l-0.2 0.2M331.5 118.5l0.2 0.2M307.1 112.6l0.0 0.0M314.2 124.5l-0.2 0.2M318.4 118.1l-0.3 0.3M333.0 105.3l0.2 0.3M326.7 105.8l0.3 0.1M341.7 104.7l0.3 0.1" stroke="#9aa8e0" stroke-width="1.0" stroke-opacity="0.85"/>
<path d="M335.0 103.8l0.1 0.1M301.7 124.3l-0.2 0.0M341.8 109.1l0.1 0.1M328.4 103.2l0.0 0.0M311.7 108.7l-0.0 0.0M304.9 106.8l0.0 0.0" stroke="#ffffff" stroke-width="0.5" stroke-opacity="0.85"/>
<path d="M348.6 100.2l-0.1 0.1M309.1 111.0l0.0 0.0M330.5 116.5l0.1 0.0M320.4 99.5l-0.0 0.1M312.9 99.4l0.0 0.0" stroke="#e0e4f8" stroke-width="0.5" stroke-opacity="0.85"/>
<path d="M348.4 102.4l0.0 0.0M320.2 117.0l-0.1 0.2M320.3 104.6l0.0 0.2M313.4 99.4l-0.2 0.1M332.0 103.3l-0.0 0.0M352.0 108.6l0.1 0.1M349.9 97.6l0.0 0.0M344.9 121.4l-0.0 0.0M352.7 122.1l-0.1 0.1" stroke="#c8d0f0" stroke-width="0.5" stroke-opacity="0.85"/>
<path d="M301.5 102.7l0.1 0.1M313.9 102.5l-0.0 0.4M327.7 110.5l0.1 0.1M345.4 114.8l-0.0 0.0M345.4 99.2l0.2 0.0M314.2 97.8l-0.1 0.0M338.3 119.4l0.2 0.3M338.5 114.3l-0.2 0.3M330.4 116.6l0.1 0.0M300.5 111.9l0.1 0.2M345.1 118.4l0.2 0.1M341.4 102.2l-0.1 0.1M300.3 123.4l0.0 0.3M341.2 105.4l0.3 0.3M328.2 104.7l-0.2 0.3" stroke="#e0e4f8" stroke-width="1.0" stroke-opacity="0.85"/>
<path d="M307.2 100.2l-0.1 0.1" stroke="#9aa8e0" stroke-width="1.5" stroke-opacity="0.85"/>
<path d="M323.3 96.3l0.2 0.1M327.1 103.5l0.1 0.3M335.8 124.1l0.1 0.0M324.2 112.1l0.1 0.2M343.1 112.7l-0.1 0.2M346.9 99.0l0.0 0.0M312.9 110.1l0.2 0.1M325.6 114.7l-0.1 0.3M350.6 106.9l-0.1 0.0M317.3 124.7l0.2 0.0M349.8 113.0l0.2 0.2M348.2 123.3l0.2 0.1M306.4 122.8l-0.5 0.1" stroke="#ffffff" stroke-width="1.0" stroke-opacity="0.85"/>
<path d="M318.1 113.5l0.3 0.4M347.0 119.2l0.2 0.2M308.8 117.3l0.1 0.4M324.9 118.3l-0.0 0.1M312.8 126.1l-0.1 0.1M340.4 104.4l0.2 0.1M327.5 113.5l0.1 0.0M308.1 105.4l0.3 0.4M348.4 113.2l-0.2 0.2M315.1 111.9l-0.1 0.2" stroke="#c8d0f0" stroke-width="1.0" stroke-opacity="0.85"/>
<path d="M321.7 114.3l-0.1 0.2M329.1 119.6l-0.1 0.1M300.5 106.0l0.0 0.1M325.0 107.8l-0.1 0.1M347.9 112.2l0.1 0.1M311.3 110.0l-0.0 0.1M349.4 109.2l0.0 0.0" stroke="#9aa8e0" stroke-width="0.5" stroke-opacity="0.85"/>
<path d="M323.3 113.7l-0.0 0.1" stroke="#e0e4f8" stroke-width="1.5" stroke-opacity="0.85"/>
<path d="M330.2 99.3l-0.2 0.3" stroke="#c8d0f0" stroke-width="1.5" stroke-opacity="0.85"/>
</g></g>
<clipPath id="c7"><rect x="354.8" y="94.8" width="53.2" height="31.9"/></clipPath>
<g clip-path="url(#c7)" stroke-linecap="round" fill="none"><rect x="354.8" y="94.8" width="53.2" height="31.9" fill="#050c16"/><g>
<path d="M401.8 111.5l0.7 0.5M391.6 101.5l-0.2 0.4M355.5 101.4l-0.4 0.1M386.6 123.2l-0.6 0.3M387.7 116.3l-0.1 0.1M383.4 118.3l-0.0 0.0M374.8 104.7l0.3 0.3M405.2 111.1l-0.7 0.5M403.0 101.1l-0.7 0.4M396.9 125.7l-0.0 0.1" stroke="#0c2032" stroke-width="2.0"/>
<path d="M372.1 123.6l-0.1 0.0M399.2 125.0l0.2 0.1M398.3 109.3l0.5 0.7M406.6 106.7l0.2 0.1M385.4 113.5l-0.6 0.2M398.8 103.4l-0.2 0.1" stroke="#0c2032" stroke-width="2.5"/>
<path d="M381.7 124.4l-0.8 0.1M384.0 109.1l0.4 0.8M392.3 116.6l-0.6 0.7M391.4 112.7l0.1 0.2" stroke="#0c222c" stroke-width="2.5"/>
<path d="M373.3 110.4l-0.1 0.0M369.3 113.7l-0.3 0.6M370.9 105.9l-0.1 0.1M389.6 101.3l0.1 0.0M387.1 112.5l0.1 0.2M369.9 120.3l-0.5 0.2M373.4 115.7l0.4 0.1M384.0 112.6l-0.1 0.1M361.5 121.1l0.0 0.2M404.2 108.6l0.6 0.2M400.1 109.0l-0.0 0.1M389.6 120.7l-0.3 0.2M355.8 115.7l-0.2 0.2" stroke="#0c222c" stroke-width="1.5"/>
<path d="M383.1 109.8l-0.1 0.3M374.4 102.9l0.2 0.1M392.7 125.1l0.2 0.2M404.8 117.4l0.5 0.3M380.9 96.7l-0.4 0.5M378.8 119.9l0.2 0.1M394.4 126.7l0.2 0.2M368.6 98.2l-0.5 0.2M374.9 125.7l0.1 0.0M373.9 120.2l0.3 0.5M382.6 111.5l0.1 0.1M362.1 123.7l0.1 0.0M405.0 104.7l-0.5 0.2M394.5 99.6l-0.1 0.4" stroke="#0a1826" stroke-width="1.5"/>
<path d="M378.8 102.2l-0.2 0.4M405.3 97.9l0.3 0.2M358.9 124.8l-0.0 0.8M357.0 98.2l0.4 0.6M381.5 116.4l-0.1 0.2M394.1 105.7l0.4 0.1M391.3 125.6l-0.3 0.6M391.6 119.5l0.7 0.2M384.6 110.0l0.0 0.0M395.6 110.8l0.1 0.0M372.8 111.5l-0.1 0.8M356.8 122.5l-0.1 0.0M404.3 95.1l-0.1 0.6M366.3 113.5l0.4 0.1M407.5 103.0l-0.5 0.6M390.7 104.7l-0.1 0.4M404.7 116.4l-0.0 0.4M360.2 121.3l-0.3 0.4" stroke="#0a1826" stroke-width="2.0"/>
<path d="M379.2 119.8l-0.6 0.0M369.8 108.0l-0.0 0.1M393.5 96.8l-0.4 0.9M356.9 102.1l0.7 0.4M398.8 98.4l-0.0 1.0M372.6 119.6l0.2 0.3M387.2 124.4l0.5 0.7M400.1 101.9l0.7 0.0M404.2 107.7l-0.0 0.0M357.9 106.3l0.1 0.1M367.6 98.0l-0.4 0.1" stroke="#0e2436" stroke-width="2.5"/>
<path d="M387.7 123.3l0.1 0.7M391.4 109.0l0.0 0.0M369.9 113.5l-0.2 0.2M393.8 106.8l0.1 0.1M389.5 101.6l-0.1 0.2M387.5 94.9l0.3 0.3M394.7 102.7l0.2 0.1M390.0 101.9l0.1 0.2M369.4 103.7l-0.1 0.0M401.0 100.8l-0.4 0.2M389.4 95.8l-0.3 0.5M373.6 118.5l0.1 0.2M404.3 114.6l-0.1 0.2M381.6 95.8l-0.1 0.1M363.2 99.7l0.0 0.3" stroke="#0e2436" stroke-width="1.5"/>
<path d="M380.7 118.8l-0.3 0.1M368.5 109.6l0.1 0.0M364.1 95.3l0.2 0.1M379.3 107.1l-0.3 0.1M398.4 109.0l-0.1 0.1M373.8 109.5l0.5 0.3M389.6 116.2l0.0 0.3M354.9 120.3l0.8 0.2M375.8 103.3l-0.2 0.8M379.1 108.3l0.2 0.4M363.1 112.0l-0.6 0.3M374.4 101.0l0.6 0.3M358.8 117.3l-0.1 0.0M384.8 122.0l-0.1 0.1" stroke="#101c3c" stroke-width="2.0"/>
<path d="M403.9 121.1l0.6 0.2M390.0 99.9l-0.7 0.0M362.2 116.7l-0.0 0.6M405.3 95.7l-0.2 0.1M386.9 113.6l0.3 0.1M375.2 121.0l0.2 0.6M395.6 109.3l-0.4 0.1M407.5 102.6l-0.0 0.0M392.8 104.8l0.0 0.2M385.0 104.2l-0.3 0.4M363.8 122.8l0.1 0.2M363.2 122.2l-0.2 0.1" stroke="#0e2a2e" stroke-width="2.0"/>
<path d="M364.3 117.4l0.2 0.2M398.7 111.3l-0.1 0.6M359.4 119.0l0.0 0.2M363.4 102.0l0.1 0.3M403.9 108.4l0.1 0.1M362.2 123.1l0.0 0.4M394.4 96.5l-0.2 0.1M380.9 95.4l-0.2 0.4M391.5 114.5l-0.2 0.1M403.0 96.7l0.5 0.1M378.3 99.8l0.2 0.0M388.2 105.1l-0.0 0.1M355.8 101.8l-0.3 0.1M361.4 118.8l-0.3 0.6" stroke="#101c3c" stroke-width="1.5"/>
<path d="M370.9 116.4l-0.1 0.5M359.5 105.8l0.1 0.4M371.8 115.5l-0.5 0.3M355.7 122.4l-0.4 0.5M365.6 98.0l0.9 0.4M374.3 116.7l-0.3 0.7M362.3 114.3l-0.5 0.2M357.2 96.5l-0.4 0.3" stroke="#101c3c" stroke-width="2.5"/>
<path d="M386.2 95.6l0.1 0.0M361.8 104.0l-0.1 0.3M355.3 106.7l0.2 0.0M366.1 121.1l-0.1 0.3M365.9 122.7l-0.0 0.0M376.1 125.1l0.2 0.3M355.4 115.7l0.1 0.8M385.5 95.5l0.3 0.1M355.2 125.4l-0.0 0.1M359.7 98.6l0.1 0.3M356.9 101.2l0.4 0.2M382.9 121.8l-0.4 0.4M396.4 101.4l-0.2 0.0M360.5 100.7l-0.2 0.4M375.3 114.3l0.3 0.1M358.4 118.0l-0.5 0.1M376.3 98.9l0.5 0.2M387.0 118.1l0.3 0.0M403.5 125.2l-0.2 0.6M359.0 110.6l0.3 0.2M377.8 98.0l-0.0 0.3" stroke="#0e2a2e" stroke-width="1.5"/>
<path d="M366.8 96.4l0.6 0.1M386.1 117.3l0.0 0.1M391.0 99.9l0.1 0.1M364.9 115.5l0.5 0.1M391.7 112.0l0.1 0.4M360.9 126.0l-0.6 0.0M400.9 112.8l-0.7 0.0M370.5 108.3l0.4 0.2M396.2 119.2l0.3 0.1M362.0 116.7l-0.4 0.7M405.4 112.7l-0.4 0.1M367.7 121.0l-0.4 0.4M390.1 109.8l-0.2 0.4" stroke="#0a1a2c" stroke-width="1.5"/>
<path d="M392.4 109.1l-0.5 0.2M404.5 104.4l0.1 0.0M380.9 109.1l0.0 0.1M363.6 121.3l-0.4 0.3M398.3 122.6l0.0 0.6M393.1 103.9l-0.1 0.1M373.6 106.4l-0.2 0.1M371.7 126.0l0.5 0.6M357.8 124.6l0.6 0.1M384.6 118.8l-0.0 0.0M372.3 123.8l0.3 0.1M387.3 111.6l0.0 0.2M375.3 110.3l-0.5 0.1M370.4 97.6l-0.2 0.2M406.8 109.3l-0.6 0.3" stroke="#0c2032" stroke-width="1.5"/>
<path d="M387.8 118.3l-0.0 0.2M370.5 101.4l-1.0 0.4M369.0 116.2l-0.7 0.3M381.5 126.6l0.0 0.8M384.7 104.9l0.6 0.4M367.8 101.9l-0.4 0.0M393.2 107.6l-0.8 0.3M407.4 118.4l-0.6 0.4M378.7 114.4l-0.6 0.8M371.5 109.3l0.8 0.6M385.0 113.7l-0.6 0.0M370.8 97.2l-0.9 0.7M380.9 95.0l0.4 0.0M379.8 99.5l0.8 0.2" stroke="#0e2a2e" stroke-width="2.5"/>
<path d="M375.3 120.7l-0.3 0.8M356.7 102.3l0.6 0.4M389.1 121.7l0.0 0.1M363.9 111.4l-0.0 0.0M407.6 107.0l0.0 0.0M395.0 99.2l0.1 0.6M407.4 122.4l0.5 0.3M388.8 120.2l-0.1 0.5M405.2 125.7l0.1 0.0M379.3 117.9l-0.6 0.6M398.5 116.6l0.4 0.4M383.4 96.3l0.2 0.6M374.1 97.6l-0.2 0.8M358.2 98.4l-0.1 0.1M388.0 114.4l-0.6 0.5M361.0 121.0l-0.3 0.5M357.0 105.7l0.2 0.3" stroke="#0e2436" stroke-width="2.0"/>
<path d="M377.0 96.7l0.5 0.7M399.4 120.9l0.0 0.5M394.0 115.1l-0.2 0.1M355.7 104.2l-0.3 0.8M401.5 117.0l-0.2 0.5M387.5 105.3l0.4 0.1" stroke="#0c222c" stroke-width="2.0"/>
<path d="M387.7 97.6l-0.2 0.0M372.7 114.9l-0.9 0.1M363.2 112.7l-0.8 0.2M359.9 115.8l0.4 0.9M378.1 102.4l0.3 0.2M361.0 116.6l-0.4 0.2M404.6 101.6l-0.0 0.1M372.9 100.1l-0.3 0.5M406.6 102.1l0.0 0.1M381.5 116.4l-0.2 0.1" stroke="#0a1a2c" stroke-width="2.0"/>
<path d="M363.9 117.2l0.0 0.0M362.9 102.5l-0.1 0.3M380.2 120.1l-0.1 0.2" stroke="#0e2436" stroke-width="1.0"/>
<path d="M394.5 120.0l-0.0 0.8M360.5 114.8l-0.5 0.8M359.4 124.1l-0.6 0.5M397.9 118.9l-0.0 0.1M364.7 96.9l1.0 0.1M378.9 96.7l-1.0 0.2" stroke="#0a1826" stroke-width="2.5"/>
<path d="M391.7 111.4l0.1 0.8M378.2 110.9l0.2 0.7M362.2 116.6l0.4 0.8M356.6 119.2l-0.2 0.9M404.9 101.9l0.3 1.0M395.6 97.6l-0.5 0.7M373.3 122.8l0.8 0.4M374.2 115.6l-0.2 1.0M366.8 115.3l0.9 0.3" stroke="#0a1a2c" stroke-width="2.5"/>
<path d="M375.0 124.5l-0.1 0.4M361.8 102.8l0.0 0.1" stroke="#101c3c" stroke-width="1.0"/>
<path d="M399.7 115.2l-0.3 0.2" stroke="#0a1a2c" stroke-width="1.0"/>
<path d="M360.8 114.8l-0.1 0.3M406.0 119.8l0.1 0.2" stroke="#0c222c" stroke-width="1.0"/>
<path d="M393.5 122.5l0.0 0.3M392.9 119.6l-0.2 0.1" stroke="#0a1826" stroke-width="1.0"/>
<path d="M358.0 95.8l-0.2 0.1M397.3 96.8l0.2 0.2M363.0 107.7l-0.2 0.5M371.9 100.8l0.2 0.4M396.8 125.0l0.1 0.3" stroke="#1e6a58" stroke-width="1.5" stroke-opacity="0.85"/>
<path d="M366.7 98.0l0.0 0.2M406.9 123.0l0.2 0.3M389.6 98.4l-0.2 0.1M374.5 105.2l0.1 0.3" stroke="#2a8068" stroke-width="1.0" stroke-opacity="0.85"/>
<path d="M368.1 126.3l-0.3 0.3M400.7 125.4l0.1 0.2M396.2 97.3l0.3 0.0M357.8 117.3l-0.1 0.1M361.0 123.7l-0.0 0.1M388.5 101.1l-0.0 0.0" stroke="#1e6a58" stroke-width="1.0" stroke-opacity="0.85"/>
<path d="M370.5 124.7l-0.1 0.4M382.2 111.3l0.0 0.3M367.4 121.3l-0.0 0.1" stroke="#2a8068" stroke-width="1.5" stroke-opacity="0.85"/>
<path d="M361.7 106.7l0.1 0.1M407.2 120.1l0.1 0.0M364.8 100.8l0.3 0.3M387.9 103.0l0.2 0.2M361.4 122.1l-0.6 0.1M364.2 122.0l0.3 0.3M369.6 120.2l-0.2 0.4M385.5 119.7l0.2 0.5M382.1 110.9l-0.1 0.0" stroke="#2a6a70" stroke-width="1.5" stroke-opacity="0.85"/>
<path d="M386.2 102.2l-0.3 0.2M373.6 104.8l0.0 0.1M407.5 107.1l-0.4 0.0M380.9 99.7l0.2 0.2M401.8 98.5l0.4 0.0" stroke="#2a6a70" stroke-width="1.0" stroke-opacity="0.85"/>
<path d="M386.4 97.6l0.1 0.4M391.8 105.5l-0.3 0.2M359.5 100.9l0.0 0.0M364.1 113.6l-0.1 0.1M370.8 114.5l0.0 0.1" stroke="#184e48" stroke-width="1.5" stroke-opacity="0.85"/>
<path d="M397.9 100.4l0.2 0.1M377.0 106.0l-0.1 0.1M391.3 102.1l-0.3 0.1M399.6 95.7l-0.4 0.3M356.3 95.9l0.1 0.0M366.5 98.6l0.0 0.2M361.9 118.7l-0.1 0.1M385.4 113.0l0.0 0.2M376.3 100.9l0.0 0.0M395.3 123.1l-0.2 0.2" stroke="#184e48" stroke-width="1.0" stroke-opacity="0.85"/>
<path d="M391.0 109.0l-0.1 0.1M382.5 102.7l0.1 0.0" stroke="#2a6a70" stroke-width="0.5" stroke-opacity="0.85"/>
<path d="M363.4 125.1l-0.2 0.0" stroke="#1e6a58" stroke-width="0.5" stroke-opacity="0.85"/>
</g></g>
<clipPath id="c8"><rect x="410.3" y="94.8" width="52.7" height="31.9"/></clipPath>
<g clip-path="url(#c8)" stroke-linecap="round" fill="none"><rect x="410.3" y="94.8" width="52.7" height="31.9" fill="#060918"/><g>
<path d="M424.5 102.5l0.1 0.0M450.2 125.5l-0.6 0.0M419.0 97.8l-0.1 0.5M432.3 99.9l0.4 0.2M448.7 94.8l-0.1 0.6M421.4 106.0l-0.3 0.6M448.3 101.0l0.6 0.4M448.8 102.0l-0.1 0.1M424.9 115.7l-0.0 0.4M421.9 102.2l-0.5 0.6M434.5 125.7l-0.4 0.2M424.3 96.1l0.2 0.5M459.3 96.2l0.4 0.5M447.5 115.8l-0.4 0.2M447.3 113.4l0.8 0.4M447.0 119.4l0.0 0.0" stroke="#0c1238" stroke-width="2.0"/>
<path d="M444.7 105.9l0.0 0.1M445.5 99.6l-0.0 0.2M424.2 94.9l-0.0 0.2M441.8 116.7l-0.3 0.2M423.1 114.3l-0.3 0.4M420.9 98.3l0.0 0.1M447.0 118.3l0.5 0.1M455.2 96.2l-0.0 0.5M438.3 95.8l0.1 0.2M416.6 112.9l-0.0 0.1M450.1 101.7l0.3 0.4M423.6 119.8l-0.5 0.1M426.5 110.7l-0.3 0.3M428.9 107.5l0.6 0.2M430.3 100.7l0.4 0.2M434.3 100.5l-0.2 0.0M411.2 117.2l0.3 0.0M437.9 116.4l0.4 0.0M434.8 109.7l-0.3 0.2M410.3 116.5l-0.1 0.1M460.4 104.3l-0.1 0.1M422.5 114.7l0.5 0.3M460.7 124.3l0.6 0.1M423.7 98.2l-0.3 0.1M417.8 114.8l-0.6 0.2M421.2 103.4l-0.0 0.1M451.4 123.5l0.4 0.3M414.6 121.4l-0.3 0.0" stroke="#101848" stroke-width="1.5"/>
<path d="M457.1 106.8l-0.5 0.5M422.8 123.8l-0.0 0.1M418.3 105.1l0.4 0.4M451.9 104.8l0.2 0.3M414.8 98.4l-0.4 0.1M444.7 115.1l-0.1 0.7M429.3 103.1l-0.0 0.0M446.5 112.9l0.3 0.1M418.9 117.5l-0.6 0.2M458.8 107.8l0.5 0.1M454.4 103.3l-0.2 0.2M441.4 120.8l-0.2 0.1M415.6 97.0l-0.0 0.0M424.8 122.4l-0.2 0.6M425.9 120.0l-0.2 0.1M426.2 116.8l0.4 0.3M447.3 116.2l-0.0 0.0M442.9 126.2l-0.0 0.1M460.2 97.3l0.0 0.3M462.5 99.1l-0.1 0.0M444.0 101.0l0.4 0.2M459.1 115.2l0.3 0.2M429.4 100.8l0.0 0.0M435.9 104.9l0.0 0.4M433.7 114.2l0.5 0.6" stroke="#0c1238" stroke-width="1.5"/>
<path d="M449.8 117.6l0.0 0.0M447.9 98.9l0.1 0.2M414.6 120.1l-0.2 0.4M424.8 114.8l0.1 0.1M430.5 109.4l0.1 0.5M440.2 119.9l-0.0 0.6M433.8 110.9l-0.0 0.0M410.8 112.3l-0.1 0.0M457.0 103.3l0.0 0.2M436.5 104.4l0.2 0.5M431.2 111.1l-0.1 0.3M450.0 109.6l0.1 0.2M437.1 99.6l0.5 0.2M414.8 125.9l0.4 0.2M441.1 100.8l-0.6 0.2M429.8 105.1l-0.3 0.1M441.5 122.5l-0.2 0.1M453.0 97.3l-0.0 0.3M442.3 98.0l0.1 0.1M451.6 116.5l-0.1 0.0M432.4 101.9l-0.3 0.2M460.3 121.6l0.1 0.0" stroke="#131a52" stroke-width="1.5"/>
<path d="M462.5 106.6l0.2 0.0M417.5 95.1l0.4 0.4M461.6 96.7l-0.2 0.5M426.2 125.5l0.5 0.3M426.4 108.6l-0.0 0.1M425.3 107.4l0.3 0.5M456.5 105.8l0.0 0.0M420.1 103.6l0.4 0.2M424.7 102.5l0.0 0.1M445.6 110.9l-0.3 0.3M443.7 102.4l0.3 0.4M449.0 104.6l0.0 0.0M416.7 98.4l0.1 0.4M455.3 107.8l0.3 0.2M448.7 103.6l0.2 0.3M450.6 110.8l0.0 0.4M457.2 109.2l-0.1 0.0M416.5 97.3l0.3 0.5M453.7 123.0l0.0 0.0M456.4 113.4l0.1 0.6" stroke="#0e1440" stroke-width="1.5"/>
<path d="M435.2 109.5l0.1 0.4M454.6 96.2l0.2 0.1M455.3 116.1l-0.3 0.0M435.9 104.9l0.1 0.0M455.8 124.7l-0.3 0.3M425.6 111.3l-0.1 0.3M446.2 118.1l0.2 0.3M419.0 117.5l-0.2 0.3M454.8 123.4l0.3 0.3" stroke="#0e1440" stroke-width="1.0"/>
<path d="M460.3 111.6l-0.2 0.2M442.1 98.3l0.2 0.6M425.8 118.4l0.0 0.1M446.0 125.1l-0.4 0.1M443.9 107.4l-0.3 0.0M445.9 120.7l-0.7 0.3M461.3 95.1l-0.6 0.2M449.7 113.0l-0.6 0.3M445.8 104.6l-0.0 0.3M420.1 115.4l-0.0 0.0M422.5 98.8l0.5 0.2M448.6 118.2l-0.4 0.0M422.3 102.1l-0.1 0.1M413.5 124.1l0.8 0.1" stroke="#0e1440" stroke-width="2.0"/>
<path d="M415.4 104.4l-0.2 0.0M449.1 101.3l-0.1 0.2M429.5 105.4l0.5 0.1M425.6 119.1l-0.2 0.5M448.0 119.4l0.0 0.7M431.6 103.8l0.0 0.3M440.3 98.0l0.1 0.2M434.3 104.9l0.2 0.7M448.6 96.5l-0.0 0.8M446.3 119.7l-0.0 0.7M438.5 111.7l0.0 0.1M414.9 119.7l0.0 0.0M425.0 102.9l-0.2 0.1M414.5 98.0l-0.5 0.1M412.4 119.7l-0.3 0.5M424.2 98.3l-0.2 0.1M412.1 110.6l-0.7 0.0M449.1 115.0l-0.8 0.1M450.5 97.7l-0.1 0.2M429.4 105.6l-0.2 0.6M432.2 97.9l-0.1 0.4" stroke="#131a52" stroke-width="2.0"/>
<path d="M427.1 118.9l0.4 0.3M419.4 113.0l-0.1 0.1M457.3 116.4l0.3 0.2M462.4 101.0l0.0 0.1M428.5 115.9l-0.1 0.1M440.6 109.7l-0.2 0.3M451.2 120.6l-0.0 0.1" stroke="#131a52" stroke-width="1.0"/>
<path d="M463.0 100.8l-0.0 0.4M420.8 98.6l0.2 0.1M460.7 121.0l-0.1 0.0M420.2 95.3l-0.1 0.2M439.1 104.7l0.4 0.3M440.7 95.4l-0.3 0.0M425.9 109.7l-0.2 0.3M449.2 99.7l0.5 0.2M428.6 115.8l0.2 0.3M417.2 104.7l0.1 0.1M456.4 98.2l0.2 0.4M415.6 123.1l0.1 0.1M453.2 120.1l-0.1 0.4M410.5 106.6l-0.0 0.5M431.6 98.0l-0.1 0.0" stroke="#0c1238" stroke-width="1.0"/>
<path d="M446.6 118.7l-0.2 0.4M458.1 122.7l-0.6 0.5M442.2 122.0l-0.6 0.3M445.0 117.5l-0.1 0.3M462.8 123.9l-0.1 0.1M443.1 118.6l0.2 0.3M455.0 114.5l0.7 0.4M438.8 118.1l-0.5 0.4M440.7 116.7l0.4 0.0M443.3 97.8l-0.0 0.1M424.0 105.8l-0.5 0.6M419.8 119.7l0.6 0.0M446.2 100.6l0.0 0.3M440.2 119.8l-0.0 0.8M414.6 104.6l0.1 0.3M414.8 123.0l0.1 0.7M433.0 115.6l-0.6 0.3M448.0 115.4l0.0 0.5M462.9 101.1l-0.5 0.1M436.2 109.0l0.2 0.4M455.5 97.7l-0.1 0.2M429.3 112.6l-0.2 0.6M453.9 94.9l-0.1 0.6M439.3 109.5l0.0 0.0M412.4 96.9l-0.2 0.1" stroke="#18205e" stroke-width="2.0"/>
<path d="M438.8 95.4l0.0 0.4M459.3 96.3l-0.5 0.3M418.1 95.8l0.2 0.3M439.5 114.4l-0.1 0.0M445.6 101.9l-0.1 0.7M430.3 124.6l-0.1 0.3M452.0 108.9l0.2 0.4M454.8 95.8l-0.1 0.1M455.8 123.7l0.0 0.0M432.3 100.6l0.1 0.4M433.3 107.3l-0.2 0.0M459.9 115.0l-0.3 0.2M451.8 120.8l0.0 0.3M458.0 110.9l0.4 0.3M457.7 109.9l0.0 0.0M422.4 107.8l0.1 0.0M448.9 99.1l0.3 0.5M458.8 103.3l-0.4 0.2M428.9 116.3l-0.1 0.2M442.9 117.6l-0.1 0.1M441.8 123.9l0.4 0.2M427.9 119.0l0.3 0.4M417.3 107.9l0.4 0.0M436.4 109.9l0.3 0.3" stroke="#18205e" stroke-width="1.5"/>
<path d="M432.8 108.7l0.6 0.1M434.9 111.4l0.0 0.3M462.5 98.6l0.1 0.5M410.6 97.8l-0.0 0.0M443.2 125.1l0.5 0.7M423.4 108.8l-0.3 0.1M451.2 126.4l0.2 0.4M420.9 100.5l0.2 0.7M438.1 126.4l-0.5 0.2M428.5 125.2l-0.4 0.4M426.6 118.9l0.4 0.5M431.6 119.9l0.4 0.5M411.2 115.5l0.5 0.4M427.4 120.0l-0.0 0.8M454.4 111.8l0.7 0.1" stroke="#101848" stroke-width="2.0"/>
<path d="M412.7 118.4l0.0 0.1M444.7 105.4l-0.4 0.2M441.1 126.6l0.0 0.0M447.9 125.8l0.1 0.1M458.8 125.5l0.1 0.3M444.4 122.5l-0.1 0.1M431.7 124.3l-0.2 0.4M431.5 102.2l0.2 0.4" stroke="#101848" stroke-width="1.0"/>
<path d="M420.5 104.2l-0.4 0.2M458.6 125.9l0.0 0.0M420.6 99.8l0.5 0.2M426.8 98.9l0.1 0.3M418.7 97.1l-0.0 0.0M417.7 122.3l-0.0 0.0M427.0 105.9l0.4 0.3M423.1 100.0l0.3 0.2M432.4 100.8l-0.2 0.2M413.2 104.6l-0.0 0.2M434.3 126.4l-0.0 0.4" stroke="#18205e" stroke-width="1.0"/>
<path d="M442.0 102.1l-0.2 0.0M441.1 111.1l0.1 0.0M461.1 107.3l-0.0 0.0M437.9 113.8l-0.1 0.0M433.4 94.2l-0.0 0.0M447.3 103.9l0.2 0.1M436.6 101.0l0.2 0.0M436.2 105.8l-0.0 0.0" stroke="#a8b4e8" stroke-width="0.5" stroke-opacity="0.85"/>
<path d="M424.6 120.5l-0.2 0.3M440.9 108.0l0.0 0.0M444.4 119.9l0.3 0.1M441.9 106.8l0.0 0.1M428.7 111.3l0.3 0.2M442.6 123.4l-0.4 0.1M458.7 118.0l0.3 0.4M434.0 116.8l0.0 0.0M438.4 109.5l-0.0 0.1M447.4 96.0l0.1 0.2M413.3 118.5l-0.2 0.1M426.9 102.9l-0.0 0.2M442.7 98.9l0.1 0.3M421.4 104.7l0.0 0.1M445.0 115.9l0.4 0.1M442.8 118.1l-0.2 0.0M444.3 101.6l0.0 0.4M433.1 113.3l0.2 0.1M418.1 122.6l-0.2 0.3M416.9 108.9l0.1 0.3M437.8 117.9l-0.0 0.0M430.4 123.3l-0.3 0.2M439.8 114.4l0.0 0.2M421.4 105.3l-0.0 0.4M432.5 113.3l0.2 0.1M447.4 100.2l-0.3 0.3M435.9 112.6l0.0 0.1M452.8 120.7l-0.1 0.0M436.2 120.8l0.1 0.0M439.8 107.7l0.2 0.1M425.7 112.5l0.1 0.5M427.2 113.7l0.2 0.1M439.3 109.7l-0.3 0.2" stroke="#a8b4e8" stroke-width="1.0" stroke-opacity="0.85"/>
<path d="M416.1 117.5l-0.4 0.1M434.5 113.9l0.3 0.0M469.1 120.8l0.3 0.2M449.3 117.2l0.2 0.4M450.1 110.0l-0.1 0.2M440.8 107.6l-0.0 0.0M425.4 105.6l0.2 0.1M430.1 112.2l-0.0 0.0M447.4 103.2l-0.1 0.2M430.7 107.5l-0.3 0.1M459.3 109.4l0.3 0.3M415.3 105.3l-0.4 0.3M445.6 113.3l0.2 0.2M446.5 101.5l-0.1 0.3M420.7 111.0l-0.4 0.0M427.8 105.8l-0.2 0.1M431.7 93.4l0.3 0.1M429.7 104.1l0.1 0.1M433.1 108.6l0.2 0.1M421.6 97.2l-0.3 0.3M431.4 123.6l0.5 0.1M448.0 113.9l0.1 0.2M444.6 118.6l-0.1 0.1M428.2 124.0l-0.0 0.2M454.1 133.3l0.0 0.0M412.2 107.7l-0.1 0.3M437.6 106.7l-0.0 0.0" stroke="#ffffff" stroke-width="1.0" stroke-opacity="0.85"/>
<path d="M459.4 101.5l0.2 0.5M427.4 119.0l0.4 0.2M441.9 92.1l-0.1 0.1M454.8 100.8l-0.0 0.1M447.7 117.4l0.1 0.0M433.6 109.4l0.3 0.1M438.6 112.0l0.3 0.4M448.8 105.9l0.4 0.5M441.5 109.0l0.2 0.5M419.9 105.1l0.2 0.3" stroke="#ffffff" stroke-width="1.5" stroke-opacity="0.85"/>
<path d="M423.4 101.0l0.1 0.0M424.4 103.5l-0.2 0.2M442.0 107.9l-0.1 0.0M434.5 105.4l-0.3 0.3M469.3 101.4l0.2 0.1M416.4 103.1l0.2 0.0M418.5 93.9l-0.0 0.1M425.5 113.2l0.3 0.0M445.0 97.1l-0.2 0.1M442.4 113.9l-0.0 0.1M418.1 103.9l0.2 0.1M421.2 124.9l-0.0 0.0M437.9 120.2l0.1 0.3M436.4 112.7l-0.1 0.2M410.6 113.3l0.0 0.0M437.6 100.6l-0.2 0.2M429.2 121.4l0.0 0.2M418.9 100.9l0.3 0.1M437.3 112.5l-0.0 0.2M466.9 126.3l0.1 0.1" stroke="#e8ecfa" stroke-width="1.0" stroke-opacity="0.85"/>
<path d="M424.5 122.5l-0.1 0.1M424.0 98.2l0.2 0.3M437.9 125.0l-0.4 0.2M426.9 87.5l-0.0 0.1M421.8 119.5l-0.1 0.1M433.9 99.0l0.1 0.2M447.5 99.5l-0.0 0.1M435.8 103.4l0.1 0.4M437.4 126.0l-0.1 0.2M445.4 115.9l-0.3 0.1M457.8 107.2l-0.3 0.0M435.3 94.0l0.2 0.4M434.7 117.1l0.0 0.0M432.0 112.1l0.1 0.2M450.5 109.6l0.4 0.3M445.8 130.7l-0.0 0.1M424.3 113.9l-0.1 0.3M451.5 108.4l-0.0 0.0M444.1 107.2l0.0 0.5M435.2 110.8l-0.3 0.2M438.2 105.9l0.0 0.0M444.7 128.9l0.0 0.0M440.2 108.3l0.1 0.0M459.5 99.3l-0.3 0.1" stroke="#d0d8f4" stroke-width="1.0" stroke-opacity="0.85"/>
<path d="M448.8 113.8l0.0 0.0M432.3 109.4l-0.2 0.2M422.2 94.8l0.0 0.0M421.9 126.4l-0.4 0.3M442.9 98.5l0.1 0.1M439.4 103.6l-0.0 0.6M429.4 111.6l-0.1 0.4M427.2 101.5l0.0 0.3M393.5 103.3l-0.1 0.1" stroke="#e8ecfa" stroke-width="1.5" stroke-opacity="0.85"/>
<path d="M432.2 111.8l0.3 0.3M431.0 96.9l-0.5 0.0M428.5 112.5l-0.0 0.4M442.2 107.5l-0.2 0.2M439.0 108.8l0.3 0.2M434.3 106.9l-0.4 0.2M427.9 109.2l0.1 0.1" stroke="#d0d8f4" stroke-width="1.5" stroke-opacity="0.85"/>
<path d="M422.9 120.2l0.1 0.0M455.5 103.9l-0.2 0.0M428.5 109.7l-0.2 0.1M427.2 108.7l-0.0 0.2M415.1 114.1l0.0 0.0M411.4 117.0l0.0 0.1M427.4 97.3l-0.1 0.0" stroke="#d0d8f4" stroke-width="0.5" stroke-opacity="0.85"/>
<path d="M467.9 129.8l-0.1 0.2M426.6 109.3l-0.2 0.1M435.0 108.7l0.1 0.1M426.8 100.6l0.1 0.1M449.9 104.4l0.1 0.0M453.6 116.9l0.1 0.2M424.1 114.0l-0.2 0.1M451.9 87.5l0.1 0.1M429.6 110.0l-0.0 0.2" stroke="#e8ecfa" stroke-width="0.5" stroke-opacity="0.85"/>
<path d="M436.8 98.6l-0.1 0.1M429.0 111.0l-0.2 0.0M436.1 115.2l0.1 0.1M444.3 121.0l0.2 0.2M432.2 107.3l-0.1 0.2M451.1 101.3l0.0 0.2M406.1 114.3l0.0 0.0M408.6 114.9l-0.2 0.2M433.1 104.9l-0.1 0.2" stroke="#ffffff" stroke-width="0.5" stroke-opacity="0.85"/>
<path d="M421.8 98.3l0.5 0.1M421.1 114.5l0.0 0.0M407.6 118.2l0.3 0.2M427.9 113.8l-0.1 0.5M441.3 103.9l-0.0 0.3M434.5 108.0l0.3 0.4M427.4 87.7l0.4 0.1" stroke="#a8b4e8" stroke-width="1.5" stroke-opacity="0.85"/>
</g></g>
<clipPath id="c9"><rect x="465.8" y="94.8" width="53.1" height="31.9"/></clipPath>
<g clip-path="url(#c9)" stroke-linecap="round" fill="none"><rect x="465.8" y="94.8" width="53.1" height="31.9" fill="#070a1e"/><g>
<path d="M495.5 106.8l-0.1 0.4M501.9 111.6l-0.3 0.2M480.8 108.8l-0.2 0.1M515.7 102.3l0.8 0.1M484.4 97.1l0.1 0.1M515.2 107.6l0.8 0.0M518.1 112.6l-0.0 0.0M473.7 105.0l0.2 0.1M485.7 100.4l0.7 0.2M476.1 119.6l-0.5 0.3M494.4 104.3l0.4 0.4M467.7 106.8l-0.6 0.2M500.2 121.1l0.1 0.1M506.2 106.0l0.4 0.4M470.0 96.3l-0.0 0.3M479.5 123.7l0.6 0.1M482.5 118.6l0.2 0.2M506.9 111.2l0.6 0.2M502.4 119.0l0.3 0.0M467.8 122.2l-0.4 0.5" stroke="#0e1440" stroke-width="2.0"/>
<path d="M487.5 107.2l0.2 0.3M504.7 123.8l0.1 0.3M494.5 113.2l-0.4 0.2M515.6 103.7l-0.1 0.1M492.1 124.9l0.0 0.3M481.6 110.8l0.1 0.3M513.5 118.5l0.4 0.4M486.3 125.3l0.0 0.1M501.5 96.9l0.4 0.3M491.3 117.8l0.0 0.3M467.3 94.9l-0.3 0.1M475.9 99.3l0.4 0.1M481.0 102.9l-0.0 0.1M501.9 112.8l0.1 0.1" stroke="#121a50" stroke-width="1.0"/>
<path d="M482.7 109.3l-0.5 0.2M471.1 110.0l0.3 0.0M491.1 115.5l-0.6 0.6M485.6 111.0l0.0 0.0M471.5 124.4l-0.7 0.4M477.6 104.7l-0.0 0.1M502.0 119.5l-0.4 0.2M517.9 97.6l-0.0 0.0M487.9 116.8l-0.0 0.0M483.1 125.3l0.0 0.1M504.3 123.8l-0.5 0.0M495.3 117.7l0.2 0.3M517.0 119.5l0.1 0.4M474.3 109.6l-0.1 0.7M502.6 108.1l0.1 0.8M502.4 114.4l-0.2 0.2M492.4 102.4l-0.5 0.0M493.6 102.6l0.3 0.0M497.5 125.7l-0.5 0.4M466.7 102.4l0.6 0.2M483.0 112.7l-0.0 0.4" stroke="#161e58" stroke-width="2.0"/>
<path d="M481.3 121.4l-0.2 0.5M472.0 116.9l-0.2 0.2M507.6 117.8l-0.4 0.1M489.9 125.1l0.1 0.4M503.2 106.8l0.0 0.2M479.6 116.3l0.1 0.5M488.5 115.1l0.3 0.1M484.4 120.8l-0.0 0.0M469.3 113.0l-0.1 0.1M505.9 106.7l0.1 0.2M474.5 102.7l-0.5 0.0M470.3 104.8l0.2 0.5M475.9 102.4l-0.1 0.4M509.4 108.4l-0.1 0.2M479.8 104.4l0.2 0.2M476.4 118.2l0.4 0.4M518.3 122.5l-0.0 0.0M514.3 108.9l0.1 0.5M494.8 102.2l0.0 0.1M473.3 126.1l-0.1 0.4M515.3 106.2l0.7 0.1M484.7 112.1l0.3 0.2M509.5 109.5l0.2 0.3M481.6 101.3l0.4 0.4M490.6 115.8l0.3 0.3" stroke="#121a50" stroke-width="1.5"/>
<path d="M494.7 108.9l-0.3 0.4M467.8 94.8l0.6 0.2M502.7 98.2l0.1 0.3M478.6 112.1l0.0 0.1M518.6 102.7l0.1 0.0M516.2 97.5l-0.2 0.1M501.2 120.0l-0.5 0.1M515.4 115.8l0.3 0.1M466.0 117.2l0.3 0.0M514.2 117.2l0.4 0.2M483.8 104.3l-0.1 0.0M479.0 115.0l-0.6 0.0M482.7 99.4l0.6 0.1M469.7 111.8l0.1 0.0M503.7 105.1l0.2 0.5M493.4 121.6l0.3 0.5M507.7 102.6l-0.4 0.1M500.2 118.6l0.1 0.3M503.8 105.6l0.3 0.1M510.9 117.2l-0.1 0.1M494.0 116.2l-0.0 0.1M469.1 105.0l-0.7 0.1M504.3 111.7l-0.0 0.1M466.6 95.0l0.4 0.4M474.1 110.4l-0.1 0.3M483.1 117.4l-0.3 0.1M514.9 111.1l-0.2 0.4M481.4 120.1l-0.0 0.1" stroke="#0c1236" stroke-width="1.5"/>
<path d="M497.2 113.0l0.1 0.6M478.2 116.2l-0.4 0.3M469.2 110.6l-0.3 0.0M480.8 117.5l-0.0 0.2M499.2 110.0l0.1 0.5M511.8 98.3l0.1 0.1M497.3 97.4l-0.6 0.2M466.5 99.1l0.3 0.6M507.6 105.3l-0.1 0.0M495.3 107.5l0.5 0.0M498.2 106.1l-0.2 0.3M481.5 96.4l0.2 0.0M504.8 119.3l0.2 0.2M479.1 95.9l0.1 0.1M488.4 121.7l0.1 0.1M477.0 101.3l-0.1 0.5M514.2 114.2l-0.0 0.0M514.0 103.2l0.3 0.0M495.7 115.5l0.2 0.6M511.8 118.4l0.0 0.0M474.4 111.7l-0.3 0.4M487.2 122.5l0.1 0.2M500.3 125.1l0.0 0.0M495.4 110.3l0.6 0.1M484.2 126.4l0.1 0.1M474.0 122.0l0.1 0.3" stroke="#0e1440" stroke-width="1.5"/>
<path d="M499.2 101.7l0.0 0.0M506.3 123.4l0.2 0.1M493.2 122.3l-0.1 0.0M476.5 104.4l-0.5 0.3M476.6 103.5l-0.0 0.4M516.4 95.2l0.2 0.5M504.5 103.3l-0.3 0.6M498.5 104.3l-0.4 0.4M488.9 112.9l0.0 0.0M480.0 100.9l0.3 0.1M506.6 105.2l0.2 0.1M502.7 103.5l-0.0 0.0M474.5 94.9l-0.5 0.2M493.8 95.5l0.4 0.2M507.3 114.7l-0.3 0.0M514.7 123.5l-0.1 0.3M485.7 103.9l-0.1 0.0M510.5 113.3l0.4 0.3M516.6 99.3l-0.1 0.0M505.6 114.2l-0.3 0.0M513.0 125.9l-0.3 0.3M512.4 102.8l-0.1 0.0M511.9 125.5l0.1 0.0M514.4 111.4l-0.0 0.0M513.1 121.9l-0.1 0.3M510.4 115.2l-0.0 0.1M512.7 108.1l0.3 0.5M499.4 115.9l-0.1 0.2M515.0 99.2l0.3 0.5M487.6 99.3l0.2 0.3M500.6 98.9l-0.5 0.0" stroke="#161e58" stroke-width="1.5"/>
<path d="M501.0 111.8l0.3 0.6M506.0 117.1l0.4 0.6M507.1 113.1l0.1 0.2M475.6 104.6l-0.1 0.0M471.9 98.8l-0.1 0.3M514.0 113.1l0.2 0.2M475.4 95.8l-0.0 0.2M510.7 103.2l0.4 0.3M484.4 101.2l-0.4 0.3M493.2 118.8l0.8 0.4M481.0 104.1l0.0 0.1M468.1 118.1l-0.2 0.3M490.0 105.8l0.3 0.4M511.8 119.3l0.6 0.2M518.1 113.4l0.0 0.1M474.9 100.1l0.2 0.3M489.5 95.3l0.4 0.3M493.9 120.2l-0.9 0.0M499.4 115.0l0.4 0.4M477.6 96.3l-0.5 0.5M471.4 113.9l0.0 0.4M507.1 117.4l0.2 0.1M491.5 122.0l-0.0 0.0M517.6 102.8l-0.1 0.3M478.2 107.6l-0.1 0.2" stroke="#121a50" stroke-width="2.0"/>
<path d="M483.7 100.5l0.1 0.1M479.0 120.4l-0.7 0.1M466.2 102.9l-0.2 0.7M485.9 98.4l0.1 0.1M467.8 115.0l0.3 0.1M511.1 111.7l-0.3 0.3M469.8 115.2l0.7 0.1M503.4 107.0l-0.0 0.0M514.6 99.4l0.3 0.0M485.5 106.0l-0.2 0.1M502.9 124.5l-0.6 0.4M484.2 126.7l-0.3 0.2M467.2 117.6l-0.1 0.2M490.6 123.6l-0.1 0.1M517.2 120.4l-0.2 0.4M500.1 125.2l-0.8 0.1M498.1 111.8l-0.8 0.4M502.6 119.4l0.6 0.4M511.9 100.6l0.4 0.4M469.6 121.1l0.3 0.3M487.0 121.8l-0.2 0.4M493.5 117.0l-0.0 0.1M472.0 97.2l-0.5 0.5M466.7 126.4l-0.2 0.3M483.0 107.1l0.7 0.5M480.3 109.0l0.3 0.2M487.9 112.3l0.3 0.7M515.6 109.9l0.2 0.0M501.1 107.6l-0.0 0.0M494.3 108.1l0.2 0.4M506.5 100.3l-0.2 0.1M488.6 101.3l0.1 0.0M488.7 97.0l0.5 0.0M495.7 125.9l-0.2 0.3M505.9 100.4l-0.5 0.1" stroke="#0c1236" stroke-width="2.0"/>
<path d="M497.3 100.4l0.3 0.3M516.7 99.8l0.1 0.3M477.4 95.3l0.3 0.1M472.4 96.4l-0.3 0.4M506.0 123.0l0.0 0.0M481.4 124.7l0.1 0.1M509.8 111.8l-0.0 0.0M516.8 123.3l0.2 0.2M512.8 114.8l-0.0 0.0M506.2 95.2l0.1 0.1M504.5 94.9l-0.0 0.0M498.1 108.4l0.1 0.1M492.6 110.3l-0.1 0.2M490.0 98.7l-0.1 0.1M476.5 113.2l-0.1 0.1M479.7 124.6l-0.3 0.2" stroke="#0e1440" stroke-width="1.0"/>
<path d="M507.5 123.5l-0.1 0.3M497.2 108.9l-0.0 0.1M510.3 111.4l0.3 0.3M501.8 121.1l-0.2 0.2M482.9 106.3l-0.0 0.0M495.1 99.8l-0.3 0.1M467.4 117.1l-0.3 0.0M475.2 108.6l-0.2 0.4" stroke="#161e58" stroke-width="1.0"/>
<path d="M477.3 124.5l0.2 0.3M479.3 106.3l-0.1 0.2M489.9 97.7l-0.1 0.1M508.8 122.1l-0.4 0.1M491.8 122.5l-0.4 0.1M481.4 121.2l-0.4 0.1M510.1 120.3l-0.1 0.0M482.6 113.5l-0.1 0.1M487.5 115.8l0.0 0.1M483.3 103.3l-0.1 0.2M470.7 95.3l0.1 0.2" stroke="#0c1236" stroke-width="1.0"/>
<path d="M511.9 119.1l-0.1 0.0M475.0 113.8l-0.3 0.1M480.4 125.8l0.1 0.4M480.0 103.7l0.4 0.0M488.2 124.0l0.0 0.3M497.3 113.3l-0.2 0.2M502.6 121.2l0.0 0.0" stroke="#e0b860" stroke-width="1.0" stroke-opacity="0.85"/>
<path d="M513.5 113.8l0.0 0.0M498.6 102.9l0.2 0.1M477.5 102.6l0.0 0.0" stroke="#a08040" stroke-width="1.0" stroke-opacity="0.85"/>
<path d="M504.8 100.0l0.0 0.0M482.9 114.9l-0.0 0.1M468.2 123.2l0.2 0.0" stroke="#a08040" stroke-width="0.5" stroke-opacity="0.85"/>
<path d="M514.8 99.7l-0.3 0.1M500.1 102.9l0.1 0.1M510.3 102.5l-0.4 0.2M487.1 120.2l-0.2 0.1M497.5 102.1l0.1 0.3" stroke="#c8a050" stroke-width="1.0" stroke-opacity="0.85"/>
<path d="M514.5 108.6l-0.0 0.0M484.5 104.0l0.0 0.1M490.7 115.9l-0.1 0.0" stroke="#e0b860" stroke-width="0.5" stroke-opacity="0.85"/>
<path d="M499.6 97.6l-0.0 0.0" stroke="#c8a050" stroke-width="0.5" stroke-opacity="0.85"/>
</g></g>
<text x="285.5" y="83.8" text-anchor="middle" style="font-size:7.4px;fill:#ffffff;stroke:#ffffff;">20 μm</text>
<rect x="280.5" y="86.2" width="8" height="1.2" fill="#ffffff"/>
<text x="397" y="83.8" text-anchor="middle" style="font-size:7.4px;fill:#ffffff;stroke:#ffffff;">20 μm</text>
<rect x="392.0" y="86.2" width="8" height="1.2" fill="#ffffff"/>
<text x="507.5" y="83.8" text-anchor="middle" style="font-size:7.4px;fill:#ffffff;stroke:#ffffff;">20 μm</text>
<rect x="502.5" y="86.2" width="8" height="1.2" fill="#ffffff"/>
<text x="239.2" y="124.4" text-anchor="end" style="font-size:7.4px;fill:#f4f4f8;stroke:#f4f4f8;">Ly6G</text>
<text x="294.4" y="124.4" text-anchor="end" style="font-size:7.9px;fill:#c0662e;stroke:#c0662e;">CXCL2</text>
<text x="349.6" y="124.4" text-anchor="end" style="font-size:7.4px;fill:#f4f4f8;stroke:#f4f4f8;">Ly6G</text>
<text x="404.6" y="124.4" text-anchor="end" style="font-size:7.9px;fill:#1f7c5c;stroke:#1f7c5c;">CXCR4</text>
<text x="460.6" y="124.4" text-anchor="end" style="font-size:7.4px;fill:#f4f4f8;stroke:#f4f4f8;">Ly6G</text>
<text x="515.6" y="124.4" text-anchor="end" style="font-size:7.4px;fill:#cda24e;stroke:#cda24e;">LSP1</text>
<text x="211.5" y="19.8">CXCL2<tspan style="font-size:4.6px" dy="-2.9">+</tspan><tspan dy="2.9"> neutrophils</tspan></text>
<text x="320.5" y="19.8">CXCR4<tspan style="font-size:4.6px" dy="-2.9">+</tspan><tspan dy="2.9"> neutrophils</tspan></text>
<text x="435.4" y="20.0">LSP1<tspan style="font-size:4.6px" dy="-2.9">+</tspan><tspan dy="2.9"> neutrophils</tspan></text>
<text x="213.8" y="165.8">Down</text>
<rect x="255.0" y="160.9" width="13.8" height="5.6" fill="#7db39b"/>
<text x="272.3" y="166.3">201 vs. Vec</text>
<rect x="323.0" y="160.9" width="13.8" height="5.6" fill="#edb36e"/>
<text x="341.0" y="166.3">203 vs. Vec</text>
<rect x="390.5" y="160.9" width="13.8" height="5.6" fill="#dcd0ea"/>
<text x="408.9" y="166.3">Vec + Ana vs. Vec</text>
<rect x="232.80" y="176.0" width="13.98" height="5.7" fill="#7db39b"/>
<rect x="246.58" y="176.0" width="13.98" height="5.7" fill="#edb36e"/>
<rect x="260.36" y="176.0" width="13.98" height="5.7" fill="#dcd0ea"/>
<rect x="274.14" y="176.0" width="13.98" height="5.7" fill="#7db39b"/>
<rect x="287.92" y="176.0" width="13.98" height="5.7" fill="#edb36e"/>
<rect x="301.70" y="176.0" width="13.98" height="5.7" fill="#dcd0ea"/>
<rect x="315.48" y="176.0" width="13.98" height="5.7" fill="#7db39b"/>
<rect x="329.26" y="176.0" width="13.98" height="5.7" fill="#edb36e"/>
<rect x="343.04" y="176.0" width="13.98" height="5.7" fill="#dcd0ea"/>
<rect x="232.80" y="183.80" width="14.03" height="12.88" fill="#c0d5e6"/>
<rect x="246.58" y="183.80" width="14.03" height="12.88" fill="#4a88c4"/>
<rect x="260.36" y="183.80" width="14.03" height="12.88" fill="#5e96cc"/>
<rect x="274.14" y="183.80" width="14.03" height="12.88" fill="#8ab8d8"/>
<rect x="287.92" y="183.80" width="14.03" height="12.88" fill="#b2d0e6"/>
<rect x="301.70" y="183.80" width="14.03" height="12.88" fill="#6a9cd0"/>
<rect x="232.80" y="196.43" width="14.03" height="12.88" fill="#2670b8"/>
<rect x="246.58" y="196.43" width="14.03" height="12.88" fill="#4282c2"/>
<rect x="260.36" y="196.43" width="14.03" height="12.88" fill="#8cb6d6"/>
<rect x="232.80" y="209.06" width="14.03" height="12.88" fill="#2670b8"/>
<rect x="246.58" y="209.06" width="14.03" height="12.88" fill="#80b0dc"/>
<rect x="260.36" y="209.06" width="14.03" height="12.88" fill="#4c8ccc"/>
<rect x="274.14" y="221.69" width="14.03" height="12.88" fill="#9cc4e0"/>
<rect x="287.92" y="221.69" width="14.03" height="12.88" fill="#b8d6ea"/>
<rect x="301.70" y="221.69" width="14.03" height="12.88" fill="#b8d6ea"/>
<rect x="315.48" y="221.69" width="14.03" height="12.88" fill="#8ab4d6"/>
<rect x="329.26" y="221.69" width="14.03" height="12.88" fill="#b8d4e8"/>
<rect x="343.04" y="221.69" width="14.03" height="12.88" fill="#8ab4d6"/>
<rect x="274.14" y="234.32" width="14.03" height="12.88" fill="#2e76bc"/>
<rect x="287.92" y="234.32" width="14.03" height="12.88" fill="#3e80c2"/>
<rect x="301.70" y="234.32" width="14.03" height="12.88" fill="#3a7cc0"/>
<rect x="315.48" y="234.32" width="14.03" height="12.88" fill="#6ea2d0"/>
<rect x="329.26" y="234.32" width="14.03" height="12.88" fill="#8cb8dc"/>
<rect x="343.04" y="234.32" width="14.03" height="12.88" fill="#6298cc"/>
<rect x="315.48" y="246.95" width="14.03" height="12.88" fill="#7aaad4"/>
<rect x="329.26" y="246.95" width="14.03" height="12.88" fill="#7eacd6"/>
<rect x="343.04" y="246.95" width="14.03" height="12.88" fill="#82b0d8"/>
<text x="362.0" y="192.3" style="font-size:6.85px;">Neutrophil extracellular trap formation</text>
<text x="362.0" y="204.93" style="font-size:6.85px;">Negative regulation of T-cell activation</text>
<text x="362.0" y="217.56" style="font-size:6.85px;">Positive regulation of interleukin–1 beta production</text>
<text x="362.0" y="230.19" style="font-size:6.85px;fill:#c4273f;stroke:#c4273f;">Myeloid cell development</text>
<text x="362.0" y="242.82000000000002" style="font-size:6.85px;fill:#c4273f;stroke:#c4273f;">Positive regulation of myeloid cell differentiation</text>
<text x="362.0" y="255.45000000000002" style="font-size:6.85px;">Negative regulation of T-cell proliferation</text>
<line x1="234.3" y1="263.3" x2="273.6" y2="263.3" stroke="#6c6c9c" stroke-width="1.4"/>
<text x="254.0" y="273.6" text-anchor="middle">CXCL2<tspan style="font-size:4.6px" dy="-2.9">+</tspan><tspan dy="2.9"></tspan></text>
<text x="254.0" y="283.1" text-anchor="middle">neutrophils</text>
<line x1="276.5" y1="263.3" x2="314.5" y2="263.3" stroke="#7e92c6" stroke-width="1.4"/>
<text x="296.2" y="273.6" text-anchor="middle">CXCR4<tspan style="font-size:4.6px" dy="-2.9">+</tspan><tspan dy="2.9"></tspan></text>
<text x="296.2" y="283.1" text-anchor="middle">neutrophils</text>
<line x1="316.8" y1="263.3" x2="356.5" y2="263.3" stroke="#ee9a88" stroke-width="1.4"/>
<text x="336.6" y="273.6" text-anchor="middle">LSP1<tspan style="font-size:4.6px" dy="-2.9">+</tspan><tspan dy="2.9"></tspan></text>
<text x="336.6" y="283.1" text-anchor="middle">neutrophils</text>
<text x="358.4" y="273.8">–Log<tspan style="font-size:4.6px" dy="2.4">10</tspan><tspan dx="0.5" dy="-2.4" style="font-style:italic">P</tspan></text>
<defs><linearGradient id="gb" x1="0" x2="1" y1="0" y2="0"><stop offset="0" stop-color="#f4f8fc"/><stop offset="0.35" stop-color="#c6dbee"/><stop offset="0.7" stop-color="#6aa0cc"/><stop offset="1" stop-color="#1f63a6"/></linearGradient><linearGradient id="gr" x1="0" x2="1" y1="0" y2="0"><stop offset="0" stop-color="#fdf0ec"/><stop offset="0.35" stop-color="#f0a088"/><stop offset="0.7" stop-color="#de4a36"/><stop offset="1" stop-color="#b31d2c"/></linearGradient></defs>
<rect x="397" y="267.3" width="55" height="6.2" fill="url(#gb)"/>
<text x="396.0" y="281.6" text-anchor="middle">0</text>
<text x="414.8" y="281.6" text-anchor="middle">2</text>
<text x="432.5" y="281.6" text-anchor="middle">4</text>
<text x="450.5" y="281.6" text-anchor="middle">6</text>
<text x="224.0" y="316.3">Up</text>
<rect x="251.5" y="311.4" width="13.9" height="5.6" fill="#7db39b"/>
<text x="269.5" y="316.8">201 vs. Vec</text>
<rect x="319.6" y="311.4" width="13.9" height="5.6" fill="#edb36e"/>
<text x="337.2" y="316.8">203 vs. Vec</text>
<rect x="387.2" y="311.4" width="13.9" height="5.6" fill="#dcd0ea"/>
<text x="405.7" y="316.8">Vec + Ana vs. Vec</text>
<rect x="232.80" y="323.9" width="13.98" height="5.7" fill="#7db39b"/>
<rect x="246.58" y="323.9" width="13.98" height="5.7" fill="#edb36e"/>
<rect x="260.36" y="323.9" width="13.98" height="5.7" fill="#dcd0ea"/>
<rect x="274.14" y="323.9" width="13.98" height="5.7" fill="#7db39b"/>
<rect x="287.92" y="323.9" width="13.98" height="5.7" fill="#edb36e"/>
<rect x="301.70" y="323.9" width="13.98" height="5.7" fill="#dcd0ea"/>
<rect x="315.48" y="323.9" width="13.98" height="5.7" fill="#7db39b"/>
<rect x="329.26" y="323.9" width="13.98" height="5.7" fill="#edb36e"/>
<rect x="343.04" y="323.9" width="13.98" height="5.7" fill="#dcd0ea"/>
<rect x="232.80" y="331.90" width="14.03" height="12.88" fill="#e05238"/>
<rect x="246.58" y="331.90" width="14.03" height="12.88" fill="#ea7c64"/>
<rect x="260.36" y="331.90" width="14.03" height="12.88" fill="#e2523a"/>
<rect x="274.14" y="331.90" width="14.03" height="12.88" fill="#b92a3b"/>
<rect x="287.92" y="331.90" width="14.03" height="12.88" fill="#df573b"/>
<rect x="301.70" y="331.90" width="14.03" height="12.88" fill="#d23a38"/>
<rect x="315.48" y="331.90" width="14.03" height="12.88" fill="#e05a3c"/>
<rect x="329.26" y="331.90" width="14.03" height="12.88" fill="#ea7c64"/>
<rect x="343.04" y="331.90" width="14.03" height="12.88" fill="#e05242"/>
<rect x="232.80" y="344.53" width="14.03" height="12.88" fill="#ea846c"/>
<rect x="246.58" y="344.53" width="14.03" height="12.88" fill="#e04a38"/>
<rect x="260.36" y="344.53" width="14.03" height="12.88" fill="#f2c0b0"/>
<rect x="274.14" y="344.53" width="14.03" height="12.88" fill="#e05340"/>
<rect x="287.92" y="344.53" width="14.03" height="12.88" fill="#d8443a"/>
<rect x="301.70" y="344.53" width="14.03" height="12.88" fill="#ee9a84"/>
<rect x="315.48" y="344.53" width="14.03" height="12.88" fill="#e25c42"/>
<rect x="329.26" y="344.53" width="14.03" height="12.88" fill="#e05038"/>
<rect x="343.04" y="344.53" width="14.03" height="12.88" fill="#f2baaa"/>
<rect x="232.80" y="357.16" width="14.03" height="12.88" fill="#ea846c"/>
<rect x="246.58" y="357.16" width="14.03" height="12.88" fill="#e04a38"/>
<rect x="260.36" y="357.16" width="14.03" height="12.88" fill="#f0aa94"/>
<rect x="274.14" y="357.16" width="14.03" height="12.88" fill="#e05340"/>
<rect x="287.92" y="357.16" width="14.03" height="12.88" fill="#d8443a"/>
<rect x="301.70" y="357.16" width="14.03" height="12.88" fill="#e05038"/>
<rect x="315.48" y="357.16" width="14.03" height="12.88" fill="#e05038"/>
<rect x="329.26" y="357.16" width="14.03" height="12.88" fill="#e04a38"/>
<rect x="343.04" y="357.16" width="14.03" height="12.88" fill="#ea8a72"/>
<rect x="232.80" y="369.79" width="14.03" height="12.88" fill="#ea846c"/>
<rect x="246.58" y="369.79" width="14.03" height="12.88" fill="#e86650"/>
<rect x="260.36" y="369.79" width="14.03" height="12.88" fill="#f0aa94"/>
<rect x="274.14" y="369.79" width="14.03" height="12.88" fill="#e86650"/>
<rect x="287.92" y="369.79" width="14.03" height="12.88" fill="#e05442"/>
<rect x="301.70" y="369.79" width="14.03" height="12.88" fill="#ee947c"/>
<rect x="315.48" y="369.79" width="14.03" height="12.88" fill="#ee947c"/>
<rect x="329.26" y="369.79" width="14.03" height="12.88" fill="#ea7a62"/>
<rect x="343.04" y="369.79" width="14.03" height="12.88" fill="#ee947c"/>
<rect x="232.80" y="382.42" width="14.03" height="12.88" fill="#ea846c"/>
<rect x="246.58" y="382.42" width="14.03" height="12.88" fill="#e86650"/>
<rect x="260.36" y="382.42" width="14.03" height="12.88" fill="#f4c2b2"/>
<rect x="274.14" y="382.42" width="14.03" height="12.88" fill="#e86650"/>
<rect x="287.92" y="382.42" width="14.03" height="12.88" fill="#e05442"/>
<rect x="301.70" y="382.42" width="14.03" height="12.88" fill="#ee947c"/>
<rect x="315.48" y="382.42" width="14.03" height="12.88" fill="#ee947c"/>
<rect x="329.26" y="382.42" width="14.03" height="12.88" fill="#ea7460"/>
<rect x="343.04" y="382.42" width="14.03" height="12.88" fill="#ee9c86"/>
<rect x="232.80" y="395.05" width="14.03" height="12.88" fill="#f4c2b2"/>
<rect x="246.58" y="395.05" width="14.03" height="12.88" fill="#f8d4ca"/>
<rect x="260.36" y="395.05" width="14.03" height="12.88" fill="#f2b4a2"/>
<rect x="274.14" y="395.05" width="14.03" height="12.88" fill="#f2b4a2"/>
<rect x="287.92" y="395.05" width="14.03" height="12.88" fill="#ee9c84"/>
<rect x="301.70" y="395.05" width="14.03" height="12.88" fill="#f2b4a2"/>
<rect x="315.48" y="395.05" width="14.03" height="12.88" fill="#f8d4ca"/>
<rect x="329.26" y="395.05" width="14.03" height="12.88" fill="#f8d4ca"/>
<rect x="343.04" y="395.05" width="14.03" height="12.88" fill="#f8d4ca"/>
<rect x="232.80" y="407.68" width="14.03" height="12.88" fill="#f4c2b2"/>
<rect x="246.58" y="407.68" width="14.03" height="12.88" fill="#f8d4ca"/>
<rect x="260.36" y="407.68" width="14.03" height="12.88" fill="#f2b4a2"/>
<rect x="274.14" y="407.68" width="14.03" height="12.88" fill="#f0aa98"/>
<rect x="287.92" y="407.68" width="14.03" height="12.88" fill="#ec927a"/>
<rect x="301.70" y="407.68" width="14.03" height="12.88" fill="#f4c2b2"/>
<rect x="315.48" y="407.68" width="14.03" height="12.88" fill="#f8d4ca"/>
<rect x="329.26" y="407.68" width="14.03" height="12.88" fill="#f8d4ca"/>
<rect x="343.04" y="407.68" width="14.03" height="12.88" fill="#f8d4ca"/>
<rect x="232.80" y="420.31" width="14.03" height="12.88" fill="#f4bcac"/>
<rect x="246.58" y="420.31" width="14.03" height="12.88" fill="#f4bcac"/>
<rect x="260.36" y="420.31" width="14.03" height="12.88" fill="#f8ddd5"/>
<rect x="274.14" y="432.94" width="14.03" height="12.88" fill="#f0aa98"/>
<rect x="287.92" y="432.94" width="14.03" height="12.88" fill="#e86a52"/>
<rect x="301.70" y="432.94" width="14.03" height="12.88" fill="#e6624a"/>
<rect x="315.48" y="445.57" width="14.03" height="12.88" fill="#e86a52"/>
<rect x="329.26" y="445.57" width="14.03" height="12.88" fill="#e05a3c"/>
<rect x="343.04" y="445.57" width="14.03" height="12.88" fill="#f0a292"/>
<rect x="315.48" y="458.20" width="14.03" height="12.88" fill="#e86a52"/>
<rect x="329.26" y="458.20" width="14.03" height="12.88" fill="#ea7460"/>
<rect x="343.04" y="458.20" width="14.03" height="12.88" fill="#f0a292"/>
<text x="360.3" y="340.59999999999997" style="font-size:6.85px;fill:#c4273f;stroke:#c4273f;">Response to interferon–gamma</text>
<text x="360.3" y="353.22999999999996" style="font-size:6.85px;">Positive regulation of lymphocyte activation</text>
<text x="360.3" y="365.85999999999996" style="font-size:6.85px;fill:#c4273f;stroke:#c4273f;">Positive regulation of T-cell activation</text>
<text x="360.3" y="378.48999999999995" style="font-size:6.85px;">Positive regulation of lymphocyte proliferation</text>
<text x="360.3" y="391.11999999999995" style="font-size:6.85px;">Positive regulation of T-cell proliferation</text>
<text x="360.3" y="403.74999999999994" style="font-size:6.85px;">Positive regulation of lymphocyte migration</text>
<text x="360.3" y="416.37999999999994" style="font-size:6.85px;">Positive regulation of T-cell migration</text>
<text x="360.3" y="429.01" style="font-size:6.85px;">Positive regulation of immune response to tumor cell</text>
<text x="360.3" y="441.64" style="font-size:6.85px;">Positive regulation of interferon–gamma production</text>
<text x="360.3" y="454.27" style="font-size:6.85px;">Positive regulation of lymphocyte differentiation</text>
<text x="360.3" y="466.9" style="font-size:6.85px;">Positive regulation of T-cell differentiation</text>
<line x1="234.3" y1="474.8" x2="273.6" y2="474.8" stroke="#6c6c9c" stroke-width="1.4"/>
<text x="254.0" y="485.0" text-anchor="middle">CXCL2<tspan style="font-size:4.6px" dy="-2.9">+</tspan><tspan dy="2.9"></tspan></text>
<text x="254.0" y="494.5" text-anchor="middle">neutrophils</text>
<line x1="276.5" y1="474.8" x2="314.5" y2="474.8" stroke="#7e92c6" stroke-width="1.4"/>
<text x="296.2" y="485.0" text-anchor="middle">CXCR4<tspan style="font-size:4.6px" dy="-2.9">+</tspan><tspan dy="2.9"></tspan></text>
<text x="296.2" y="494.5" text-anchor="middle">neutrophils</text>
<line x1="316.8" y1="474.8" x2="356.5" y2="474.8" stroke="#ee9a88" stroke-width="1.4"/>
<text x="336.6" y="485.0" text-anchor="middle">LSP1<tspan style="font-size:4.6px" dy="-2.9">+</tspan><tspan dy="2.9"></tspan></text>
<text x="336.6" y="494.5" text-anchor="middle">neutrophils</text>
<text x="359.2" y="483.0">–Log<tspan style="font-size:4.6px" dy="2.4">10</tspan><tspan dx="0.5" dy="-2.4" style="font-style:italic">P</tspan></text>
<rect x="393.5" y="477.0" width="44.2" height="6.4" fill="url(#gr)"/>
<text x="395.8" y="491.9" text-anchor="middle">0</text>
<text x="404.4" y="491.9" text-anchor="middle">5</text>
<text x="420.2" y="491.9" text-anchor="middle">10</text>
<text x="436.4" y="491.9" text-anchor="middle">15</text>
</svg></body></html>
